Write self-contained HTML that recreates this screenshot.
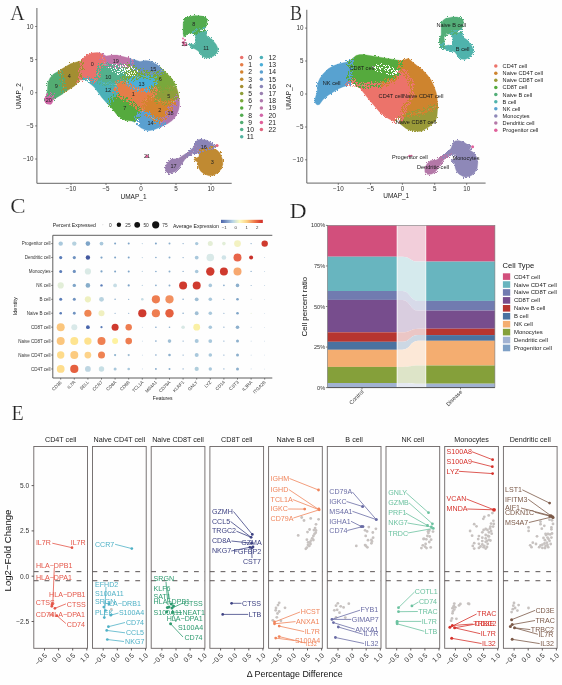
<!DOCTYPE html>
<html><head><meta charset="utf-8"><style>
html,body{margin:0;padding:0;background:#fefefe;overflow:hidden;width:562px;height:685px;}
svg{display:block;font-family:"Liberation Sans", sans-serif;will-change:transform;}
</style></head><body>
<svg width="562" height="685" viewBox="0 0 562 685">
<rect x="0" y="0" width="562" height="685" fill="#fefefe"/>
<text transform="translate(10.2 19.6) scale(1.0 1)" font-size="20" fill="#222" font-family='"Liberation Serif", serif' stroke="#fefefe" stroke-width="0.2">A</text>
<text transform="translate(289.9 19.8) scale(0.9 1)" font-size="20" fill="#222" font-family='"Liberation Serif", serif' stroke="#fefefe" stroke-width="0.2">B</text>
<text transform="translate(10.3 213.4) scale(1.12 1)" font-size="20.5" fill="#222" font-family='"Liberation Serif", serif' stroke="#fefefe" stroke-width="0.2">C</text>
<text transform="translate(289.5 217.9) scale(1.13 1)" font-size="21" fill="#222" font-family='"Liberation Serif", serif' stroke="#fefefe" stroke-width="0.2">D</text>
<text transform="translate(11.4 419.9) scale(1.0 1)" font-size="20" fill="#222" font-family='"Liberation Serif", serif' stroke="#fefefe" stroke-width="0.2">E</text>
<defs><filter id="rough" x="-5%" y="-5%" width="110%" height="110%"><feTurbulence type="fractalNoise" baseFrequency="0.9" numOctaves="2" seed="3" result="n"/><feDisplacementMap in="SourceGraphic" in2="n" scale="1.4" xChannelSelector="R" yChannelSelector="G"/></filter></defs>
<line x1="36.90" y1="8.00" x2="36.90" y2="183.30" stroke="#555" stroke-width="0.9" />
<line x1="36.90" y1="183.30" x2="231.70" y2="183.30" stroke="#555" stroke-width="0.9" />
<line x1="35.20" y1="26.50" x2="36.90" y2="26.50" stroke="#555" stroke-width="0.8" />
<text x="33.60" y="28.70" font-size="6.3" fill="#333" text-anchor="end" >10</text>
<line x1="35.20" y1="59.60" x2="36.90" y2="59.60" stroke="#555" stroke-width="0.8" />
<text x="33.60" y="61.80" font-size="6.3" fill="#333" text-anchor="end" >5</text>
<line x1="35.20" y1="92.70" x2="36.90" y2="92.70" stroke="#555" stroke-width="0.8" />
<text x="33.60" y="94.90" font-size="6.3" fill="#333" text-anchor="end" >0</text>
<line x1="35.20" y1="125.90" x2="36.90" y2="125.90" stroke="#555" stroke-width="0.8" />
<text x="33.60" y="128.10" font-size="6.3" fill="#333" text-anchor="end" >−5</text>
<line x1="35.20" y1="159.00" x2="36.90" y2="159.00" stroke="#555" stroke-width="0.8" />
<text x="33.60" y="161.20" font-size="6.3" fill="#333" text-anchor="end" >−10</text>
<line x1="71.00" y1="183.30" x2="71.00" y2="185.00" stroke="#555" stroke-width="0.8" />
<text x="71.00" y="191.30" font-size="6.3" fill="#333" text-anchor="middle" >−10</text>
<line x1="106.00" y1="183.30" x2="106.00" y2="185.00" stroke="#555" stroke-width="0.8" />
<text x="106.00" y="191.30" font-size="6.3" fill="#333" text-anchor="middle" >−5</text>
<line x1="141.00" y1="183.30" x2="141.00" y2="185.00" stroke="#555" stroke-width="0.8" />
<text x="141.00" y="191.30" font-size="6.3" fill="#333" text-anchor="middle" >0</text>
<line x1="176.00" y1="183.30" x2="176.00" y2="185.00" stroke="#555" stroke-width="0.8" />
<text x="176.00" y="191.30" font-size="6.3" fill="#333" text-anchor="middle" >5</text>
<line x1="211.00" y1="183.30" x2="211.00" y2="185.00" stroke="#555" stroke-width="0.8" />
<text x="211.00" y="191.30" font-size="6.3" fill="#333" text-anchor="middle" >10</text>
<text x="133.50" y="198.60" font-size="6.5" fill="#222" text-anchor="middle" >UMAP_1</text>
<text x="20.60" y="96.00" font-size="6.5" fill="#222" text-anchor="middle" transform="rotate(-90 20.60 96.00)" >UMAP_2</text>
<g filter="url(#rough)">
<path d="M59.6,70.5 L53.4,74.1 L50.0,77.9 L47.8,82.4 L47.4,90.5 L46.2,95.1 L48.9,95.1 L51.4,96.0 L52.6,97.1 L53.6,99.4 L62.8,93.9 L64.4,91.9 L61.5,75.4Z" fill="#52AC72" stroke="#52AC72" stroke-width="0.35" fill-rule="evenodd"/>
<path d="M80.2,61.0 L70.9,63.5 L60.4,69.8 L60.1,70.6 L61.6,75.4 L62.9,84.4 L64.8,91.9 L65.9,91.6 L74.6,85.9 L79.5,80.6 L81.4,66.5 L81.2,63.0Z" fill="#A38E30" stroke="#A38E30" stroke-width="0.35" fill-rule="evenodd"/>
<path d="M101.5,53.5 L97.6,52.5 L91.6,53.0 L85.8,56.1 L81.0,60.1 L81.5,66.5 L79.9,76.9 L80.1,80.1 L84.5,80.0 L86.2,79.1 L88.8,79.0 L94.4,80.5 L95.6,80.2 L97.2,75.6 L99.1,67.1 L100.8,65.2 L105.0,64.0 L102.9,58.9Z" fill="#EA716C" stroke="#EA716C" stroke-width="0.35" fill-rule="evenodd"/>
<path d="M102.2,54.5 L103.4,59.9 L105.2,63.6 L106.2,64.4 L122.9,66.5 L130.4,66.0 L131.6,64.9 L131.8,59.2 L130.9,58.5 L117.1,55.1 L112.4,55.1 L106.2,56.0 L103.1,54.2Z" fill="#BF74A8" stroke="#BF74A8" stroke-width="0.35" fill-rule="evenodd"/>
<path d="M123.8,67.0 L125.9,69.5 L126.2,70.8 L125.6,74.0 L123.5,79.8 L123.8,80.9 L124.6,81.5 L126.8,81.5 L132.2,78.2 L137.0,77.0 L142.6,76.4 L150.9,76.5 L154.2,77.4 L156.0,79.5 L156.4,82.9 L155.5,85.8 L155.9,86.8 L162.1,89.0 L165.4,89.4 L175.6,85.6 L175.1,83.8 L171.5,78.1 L163.2,69.8 L157.9,73.1 L149.8,73.6 L142.5,72.2 L134.1,68.5 L130.5,66.1 L125.5,66.4Z" fill="#79A83A" stroke="#79A83A" stroke-width="0.35" fill-rule="evenodd"/>
<path d="M131.9,60.0 L131.6,66.5 L134.1,68.4 L142.9,72.2 L149.8,73.5 L156.9,73.2 L159.9,72.1 L162.4,69.5 L160.9,67.5 L156.6,64.2 L149.9,60.9 L145.5,60.4 L140.0,61.5 L133.0,59.2Z" fill="#6890C0" stroke="#6890C0" stroke-width="0.35" fill-rule="evenodd"/>
<path d="M99.4,66.9 L97.4,75.6 L96.0,79.0 L96.4,80.9 L107.0,83.8 L114.5,84.5 L116.2,84.2 L117.6,82.1 L118.8,81.4 L122.6,81.8 L123.4,81.2 L123.5,79.2 L125.5,74.0 L126.1,70.8 L125.5,69.1 L123.0,66.8 L108.0,64.5 L103.9,64.5 L100.8,65.4Z" fill="#52B08C" stroke="#52B08C" stroke-width="0.35" fill-rule="evenodd"/>
<path d="M85.6,79.8 L94.1,87.1 L102.0,97.8 L107.1,103.5 L108.1,103.4 L113.1,96.9 L115.5,95.2 L115.9,84.8 L106.5,83.8 L88.8,79.1 L86.9,79.1Z" fill="#4BB0B8" stroke="#4BB0B8" stroke-width="0.35" fill-rule="evenodd"/>
<path d="M156.2,80.9 L155.4,78.5 L153.4,77.1 L149.0,76.5 L142.6,76.5 L132.9,78.1 L127.5,81.1 L126.8,82.2 L128.6,84.8 L135.2,88.8 L139.6,89.6 L146.4,89.6 L150.1,89.1 L154.9,86.8 L156.1,83.6Z" fill="#4AAED8" stroke="#4AAED8" stroke-width="0.35" fill-rule="evenodd"/>
<path d="M176.2,86.4 L175.2,86.1 L165.4,89.5 L162.1,89.1 L156.8,87.2 L153.2,97.5 L156.9,100.1 L163.1,102.4 L166.5,102.5 L174.5,101.1 L175.5,100.2 L176.5,97.6 L178.8,96.4 L178.2,92.4Z" fill="#8E9E3A" stroke="#8E9E3A" stroke-width="0.35" fill-rule="evenodd"/>
<path d="M115.5,93.0 L116.5,95.2 L122.5,97.8 L131.5,103.0 L137.2,107.1 L140.8,110.8 L141.8,110.9 L144.9,101.1 L146.4,99.2 L148.5,97.9 L152.9,97.5 L155.1,92.8 L156.2,88.1 L155.9,87.2 L155.1,87.1 L152.5,88.6 L149.5,89.5 L137.1,89.4 L134.4,88.5 L128.6,84.9 L125.9,81.9 L119.2,81.4 L117.6,82.2 L116.6,84.1Z" fill="#E67D48" stroke="#E67D48" stroke-width="0.35" fill-rule="evenodd"/>
<path d="M113.9,96.2 L108.5,103.0 L108.2,104.6 L112.4,108.9 L117.0,114.9 L121.5,118.5 L125.9,120.6 L131.6,121.1 L135.4,122.4 L137.9,114.4 L140.2,110.9 L139.5,109.4 L134.8,105.2 L122.5,97.9 L116.9,95.5Z" fill="#55AA3E" stroke="#55AA3E" stroke-width="0.35" fill-rule="evenodd"/>
<path d="M147.5,98.5 L145.5,100.4 L144.2,102.6 L142.6,107.9 L142.5,110.9 L159.2,122.2 L160.6,122.4 L166.8,114.2 L174.1,101.8 L163.9,102.6 L159.0,101.2 L153.2,98.1 L149.0,97.9Z" fill="#D4832F" stroke="#D4832F" stroke-width="0.35" fill-rule="evenodd"/>
<path d="M178.5,97.2 L177.5,97.0 L176.6,97.6 L175.5,100.5 L166.6,114.6 L161.1,121.9 L161.1,123.2 L162.6,124.0 L163.5,125.4 L167.2,123.9 L171.9,120.8 L174.9,117.5 L177.0,114.1 L178.8,109.6 L179.6,104.8 L179.4,99.2Z" fill="#AE78AE" stroke="#AE78AE" stroke-width="0.35" fill-rule="evenodd"/>
<path d="M135.6,122.5 L135.9,123.5 L141.1,128.1 L145.4,130.1 L148.4,130.8 L153.4,129.9 L162.1,126.5 L163.0,125.6 L162.6,124.1 L152.9,118.4 L144.9,112.5 L141.6,111.1 L140.2,111.4 L138.6,113.1Z" fill="#5AA0D0" stroke="#5AA0D0" stroke-width="0.35" fill-rule="evenodd"/>
<path d="M47.1,95.4 L45.1,97.5 L44.5,99.6 L44.9,102.0 L47.2,104.1 L50.5,104.5 L51.8,103.6 L53.0,100.9 L52.9,97.8 L50.4,95.6Z" fill="#D266A8" stroke="#D266A8" stroke-width="0.35" fill-rule="evenodd"/>
</g>
<path d="M133 105h1v1h-1zM116 95h1v1h-1zM120 97h1v1h-1zM152 88h1v1h-1zM144 103h1v1h-1zM119 96h1v1h-1zM135 107h1v1h-1zM149 99h1v1h-1zM130 85h1v1h-1zM117 80h1v1h-1zM146 105h1v1h-1zM134 86h1v1h-1zM157 89h1v1h-1zM130 104h1v1h-1zM156 89h1v1h-1zM153 87h1v1h-1zM140 89h1v1h-1zM145 89h1v1h-1zM115 90h1v1h-1zM146 88h1v1h-1zM143 88h1v1h-1zM132 87h1v1h-1zM131 103h1v1h-1zM153 97h1v1h-1zM116 83h1v1h-1zM155 93h1v1h-1zM142 110h1v1h-1zM121 99h1v1h-1zM133 104h1v1h-1zM147 101h1v1h-1zM130 103h1v1h-1zM155 86h1v1h-1zM145 104h1v1h-1zM128 84h1v1h-1zM113 89h1v1h-1zM126 101h1v1h-1zM145 88h1v1h-1zM156 91h1v1h-1zM130 83h1v1h-1zM133 85h1v1h-1zM155 91h1v1h-1zM139 110h1v1h-1zM149 98h1v1h-1zM141 88h1v1h-1zM136 109h1v1h-1zM157 90h1v1h-1zM122 81h1v1h-1zM116 98h1v1h-1zM146 87h1v1h-1zM115 82h1v1h-1zM131 105h1v1h-1zM146 101h1v1h-1zM123 99h1v1h-1zM136 88h1v1h-1zM159 91h1v1h-1zM143 89h1v1h-1zM134 105h1v1h-1zM119 97h1v1h-1zM136 107h1v1h-1zM114 90h1v1h-1zM135 108h1v1h-1zM118 80h1v1h-1zM156 86h1v1h-1zM144 108h1v1h-1zM136 108h1v1h-1zM125 81h1v1h-1zM121 97h1v1h-1zM123 101h1v1h-1zM131 85h1v1h-1zM122 98h1v1h-1zM142 89h1v1h-1zM112 92h1v1h-1zM135 106h1v1h-1zM119 81h1v1h-1zM156 94h1v1h-1zM120 79h1v1h-1zM143 106h1v1h-1zM126 80h1v1h-1zM138 110h1v1h-1zM139 109h1v1h-1zM143 109h1v1h-1zM154 96h1v1h-1zM129 104h1v1h-1zM121 98h1v1h-1zM156 87h1v1h-1zM115 91h1v1h-1zM114 88h1v1h-1zM151 100h1v1h-1zM138 88h1v1h-1zM142 88h1v1h-1zM133 106h1v1h-1zM129 102h1v1h-1zM143 105h1v1h-1zM120 98h1v1h-1zM114 89h1v1h-1zM144 107h1v1h-1zM131 84h1v1h-1zM130 84h1v1h-1zM121 81h1v1h-1zM127 101h1v1h-1zM118 96h1v1h-1zM115 88h1v1h-1zM148 89h1v1h-1zM135 88h1v1h-1zM115 89h1v1h-1zM156 93h1v1h-1zM123 81h1v1h-1zM134 87h1v1h-1zM141 111h1v1h-1zM151 99h1v1h-1zM117 96h1v1h-1zM142 107h1v1h-1zM127 82h1v1h-1zM156 90h1v1h-1zM125 80h1v1h-1zM115 81h1v1h-1zM136 106h1v1h-1zM113 92h1v1h-1zM131 86h1v1h-1zM141 89h1v1h-1zM154 95h1v1h-1zM114 87h1v1h-1zM115 93h1v1h-1zM149 87h1v1h-1zM136 87h1v1h-1zM125 99h1v1h-1zM138 87h1v1h-1zM143 110h1v1h-1zM155 94h1v1h-1z" fill="#E67D48" shape-rendering="crispEdges"/>
<path d="M124 75h1v1h-1zM152 71h1v1h-1zM155 78h1v1h-1zM125 65h1v1h-1zM139 77h1v1h-1zM145 72h1v1h-1zM143 70h1v1h-1zM136 77h1v1h-1zM124 70h1v1h-1zM164 89h1v1h-1zM158 71h1v1h-1zM124 73h1v1h-1zM161 68h1v1h-1zM162 69h1v1h-1zM154 85h1v1h-1zM175 86h1v1h-1zM163 89h1v1h-1zM145 77h1v1h-1zM128 64h1v1h-1zM133 67h1v1h-1zM167 89h1v1h-1zM134 65h1v1h-1zM120 77h1v1h-1zM134 68h1v1h-1zM168 88h1v1h-1zM136 68h1v1h-1zM159 70h1v1h-1zM133 81h1v1h-1zM146 78h1v1h-1zM149 73h1v1h-1zM153 77h1v1h-1zM146 72h1v1h-1zM151 77h1v1h-1zM125 71h1v1h-1zM148 72h1v1h-1zM139 69h1v1h-1zM143 77h1v1h-1zM171 88h1v1h-1zM154 78h1v1h-1zM158 72h1v1h-1zM147 78h1v1h-1zM147 76h1v1h-1zM154 81h1v1h-1zM122 77h1v1h-1zM123 76h1v1h-1zM127 65h1v1h-1zM127 62h1v1h-1zM160 67h1v1h-1zM160 88h1v1h-1zM165 89h1v1h-1zM158 90h1v1h-1zM154 84h1v1h-1zM124 83h1v1h-1zM163 92h1v1h-1zM155 79h1v1h-1zM146 71h1v1h-1zM123 73h1v1h-1zM162 92h1v1h-1zM141 71h1v1h-1zM160 90h1v1h-1zM133 65h1v1h-1zM140 77h1v1h-1zM158 89h1v1h-1zM143 76h1v1h-1zM138 69h1v1h-1zM134 80h1v1h-1zM129 65h1v1h-1zM138 70h1v1h-1zM155 80h1v1h-1zM140 76h1v1h-1zM162 90h1v1h-1zM157 71h1v1h-1zM123 71h1v1h-1zM161 89h1v1h-1zM155 85h1v1h-1zM122 76h1v1h-1zM123 79h1v1h-1zM150 77h1v1h-1zM124 77h1v1h-1zM170 89h1v1h-1zM175 87h1v1h-1zM144 71h1v1h-1zM150 71h1v1h-1zM134 67h1v1h-1zM136 79h1v1h-1zM173 89h1v1h-1zM142 76h1v1h-1zM134 77h1v1h-1zM125 74h1v1h-1zM132 79h1v1h-1zM128 81h1v1h-1zM156 73h1v1h-1zM168 89h1v1h-1zM133 66h1v1h-1zM131 80h1v1h-1zM156 72h1v1h-1zM123 67h1v1h-1zM150 76h1v1h-1zM136 78h1v1h-1zM153 73h1v1h-1zM137 79h1v1h-1zM125 81h1v1h-1zM144 70h1v1h-1zM167 90h1v1h-1zM155 83h1v1h-1zM167 88h1v1h-1zM174 87h1v1h-1zM176 86h1v1h-1zM166 89h1v1h-1zM138 78h1v1h-1zM154 83h1v1h-1zM170 90h1v1h-1zM157 87h1v1h-1zM147 72h1v1h-1zM149 77h1v1h-1zM171 87h1v1h-1zM126 66h1v1h-1zM150 79h1v1h-1zM143 68h1v1h-1zM133 78h1v1h-1zM132 78h1v1h-1zM128 82h1v1h-1zM172 89h1v1h-1zM139 70h1v1h-1zM155 81h1v1h-1zM153 81h1v1h-1zM121 70h1v1h-1zM143 78h1v1h-1zM129 64h1v1h-1zM155 70h1v1h-1zM141 76h1v1h-1zM162 89h1v1h-1zM159 88h1v1h-1zM125 64h1v1h-1zM149 79h1v1h-1zM122 78h1v1h-1zM146 70h1v1h-1zM159 72h1v1h-1zM140 68h1v1h-1zM172 90h1v1h-1zM168 91h1v1h-1zM158 88h1v1h-1zM122 67h1v1h-1zM135 68h1v1h-1zM125 72h1v1h-1zM144 77h1v1h-1zM136 67h1v1h-1zM124 76h1v1h-1zM133 77h1v1h-1zM149 72h1v1h-1zM128 65h1v1h-1zM139 76h1v1h-1zM157 72h1v1h-1zM152 77h1v1h-1zM154 72h1v1h-1zM147 70h1v1h-1zM174 81h1v1h-1zM167 73h1v1h-1zM165 71h1v1h-1zM176 84h1v1h-1zM171 78h1v1h-1zM170 76h1v1h-1zM163 69h1v1h-1zM172 79h1v1h-1z" fill="#79A83A" shape-rendering="crispEdges"/>
<path d="M127 66h1v1h-1zM116 68h1v1h-1zM100 56h1v1h-1zM114 67h1v1h-1zM108 64h1v1h-1zM120 67h1v1h-1zM117 68h1v1h-1zM114 66h1v1h-1zM102 59h1v1h-1zM132 64h1v1h-1zM113 66h1v1h-1zM132 61h1v1h-1zM127 67h1v1h-1zM124 66h1v1h-1zM111 65h1v1h-1zM132 62h1v1h-1zM108 65h1v1h-1zM111 67h1v1h-1zM101 54h1v1h-1zM120 66h1v1h-1zM109 67h1v1h-1zM110 66h1v1h-1zM133 62h1v1h-1zM132 60h1v1h-1zM133 60h1v1h-1zM106 65h1v1h-1zM105 65h1v1h-1zM109 64h1v1h-1zM125 67h1v1h-1zM122 67h1v1h-1zM107 65h1v1h-1zM101 59h1v1h-1zM119 66h1v1h-1zM132 65h1v1h-1zM104 63h1v1h-1zM128 66h1v1h-1zM103 60h1v1h-1zM131 63h1v1h-1zM102 61h1v1h-1zM118 67h1v1h-1zM99 59h1v1h-1zM133 63h1v1h-1zM130 66h1v1h-1zM106 64h1v1h-1zM115 66h1v1h-1zM125 66h1v1h-1zM106 67h1v1h-1zM99 52h1v1h-1zM126 66h1v1h-1zM100 58h1v1h-1zM120 55h1v1h-1zM128 56h1v1h-1zM111 54h1v1h-1zM102 53h1v1h-1zM128 57h1v1h-1zM103 53h1v1h-1z" fill="#BF74A8" shape-rendering="crispEdges"/>
<path d="M140 111h1v1h-1zM110 97h1v1h-1zM108 99h1v1h-1zM132 103h1v1h-1zM130 101h1v1h-1zM137 119h1v1h-1zM127 98h1v1h-1zM110 99h1v1h-1zM134 104h1v1h-1zM139 117h1v1h-1zM118 95h1v1h-1zM108 98h1v1h-1zM139 108h1v1h-1zM109 100h1v1h-1zM131 102h1v1h-1zM129 101h1v1h-1zM128 100h1v1h-1zM113 95h1v1h-1zM110 100h1v1h-1zM140 110h1v1h-1zM127 97h1v1h-1zM140 116h1v1h-1zM126 97h1v1h-1zM140 113h1v1h-1zM121 96h1v1h-1zM139 112h1v1h-1zM129 100h1v1h-1zM123 96h1v1h-1zM109 101h1v1h-1zM115 95h1v1h-1zM119 95h1v1h-1zM136 121h1v1h-1zM137 106h1v1h-1zM140 108h1v1h-1zM116 95h1v1h-1zM135 103h1v1h-1zM137 107h1v1h-1zM126 98h1v1h-1zM119 94h1v1h-1zM125 98h1v1h-1zM137 118h1v1h-1zM135 105h1v1h-1zM138 117h1v1h-1zM107 103h1v1h-1zM131 98h1v1h-1zM136 105h1v1h-1zM113 94h1v1h-1zM141 110h1v1h-1zM112 98h1v1h-1zM123 97h1v1h-1zM123 98h1v1h-1zM138 122h1v1h-1zM133 102h1v1h-1zM139 106h1v1h-1zM136 104h1v1h-1zM111 96h1v1h-1zM111 99h1v1h-1zM134 102h1v1h-1zM125 99h1v1h-1zM131 101h1v1h-1zM111 98h1v1h-1zM118 93h1v1h-1zM133 101h1v1h-1zM138 107h1v1h-1zM137 117h1v1h-1zM120 96h1v1h-1zM138 113h1v1h-1zM136 119h1v1h-1zM136 120h1v1h-1zM127 121h1v1h-1zM110 106h1v1h-1zM113 110h1v1h-1zM112 110h1v1h-1zM117 115h1v1h-1zM120 118h1v1h-1zM108 106h1v1h-1zM110 107h1v1h-1zM121 118h1v1h-1zM118 116h1v1h-1zM125 120h1v1h-1zM122 119h1v1h-1zM123 119h1v1h-1z" fill="#55AA3E" shape-rendering="crispEdges"/>
<path d="M165 112h1v1h-1zM164 117h1v1h-1zM167 107h1v1h-1zM160 127h1v1h-1zM171 106h1v1h-1zM168 108h1v1h-1zM174 101h1v1h-1zM176 96h1v1h-1zM165 113h1v1h-1zM171 103h1v1h-1zM160 123h1v1h-1zM163 117h1v1h-1zM168 106h1v1h-1zM162 124h1v1h-1zM163 125h1v1h-1zM176 98h1v1h-1zM178 95h1v1h-1zM167 110h1v1h-1zM165 111h1v1h-1zM178 96h1v1h-1zM175 96h1v1h-1zM171 105h1v1h-1zM168 111h1v1h-1zM176 94h1v1h-1zM165 116h1v1h-1zM166 111h1v1h-1zM162 125h1v1h-1zM167 112h1v1h-1zM161 118h1v1h-1zM160 124h1v1h-1zM176 97h1v1h-1zM170 106h1v1h-1zM162 119h1v1h-1zM159 125h1v1h-1zM162 117h1v1h-1zM169 109h1v1h-1zM177 96h1v1h-1zM161 121h1v1h-1zM173 103h1v1h-1zM160 121h1v1h-1zM160 117h1v1h-1zM168 107h1v1h-1zM172 104h1v1h-1zM174 97h1v1h-1zM169 107h1v1h-1zM180 106h1v1h-1zM178 113h1v1h-1zM174 118h1v1h-1zM164 126h1v1h-1zM176 115h1v1h-1z" fill="#AE78AE" shape-rendering="crispEdges"/>
<path d="M48 103h1v1h-1zM63 77h1v1h-1zM64 80h1v1h-1zM63 79h1v1h-1zM61 73h1v1h-1zM46 97h1v1h-1zM46 96h1v1h-1zM62 83h1v1h-1zM63 78h1v1h-1zM63 82h1v1h-1zM61 70h1v1h-1zM66 87h1v1h-1zM64 91h1v1h-1zM63 83h1v1h-1zM64 90h1v1h-1zM51 97h1v1h-1zM50 96h1v1h-1zM62 78h1v1h-1zM44 99h1v1h-1zM50 97h1v1h-1zM51 96h1v1h-1zM47 95h1v1h-1zM45 99h1v1h-1zM64 89h1v1h-1zM52 97h1v1h-1zM62 71h1v1h-1zM64 83h1v1h-1zM47 100h1v1h-1zM62 81h1v1h-1zM50 95h1v1h-1zM48 96h1v1h-1zM66 89h1v1h-1zM65 79h1v1h-1zM50 100h1v1h-1zM45 100h1v1h-1zM52 98h1v1h-1zM64 78h1v1h-1zM51 102h1v1h-1zM63 74h1v1h-1zM65 90h1v1h-1zM47 96h1v1h-1zM65 83h1v1h-1zM48 95h1v1h-1zM63 85h1v1h-1zM62 75h1v1h-1zM46 98h1v1h-1zM46 101h1v1h-1zM62 76h1v1h-1zM52 99h1v1h-1zM62 72h1v1h-1zM48 97h1v1h-1zM64 81h1v1h-1zM61 75h1v1h-1zM46 103h1v1h-1zM66 90h1v1h-1zM51 98h1v1h-1zM50 99h1v1h-1zM65 89h1v1h-1zM65 87h1v1h-1zM64 87h1v1h-1zM51 75h1v1h-1zM44 100h1v1h-1zM46 90h1v1h-1zM46 94h1v1h-1zM55 98h1v1h-1zM46 83h1v1h-1zM47 81h1v1h-1zM46 85h1v1h-1zM50 74h1v1h-1zM54 100h1v1h-1z" fill="#52AC72" shape-rendering="crispEdges"/>
<path d="M99 83h1v1h-1zM96 77h1v1h-1zM99 84h1v1h-1zM113 85h1v1h-1zM125 74h1v1h-1zM119 81h1v1h-1zM112 64h1v1h-1zM107 62h1v1h-1zM127 70h1v1h-1zM96 75h1v1h-1zM97 82h1v1h-1zM104 85h1v1h-1zM98 68h1v1h-1zM125 75h1v1h-1zM124 81h1v1h-1zM101 64h1v1h-1zM113 64h1v1h-1zM127 76h1v1h-1zM95 77h1v1h-1zM125 76h1v1h-1zM117 65h1v1h-1zM106 87h1v1h-1zM110 64h1v1h-1zM108 84h1v1h-1zM104 84h1v1h-1zM125 77h1v1h-1zM95 80h1v1h-1zM124 79h1v1h-1zM127 71h1v1h-1zM111 64h1v1h-1zM110 85h1v1h-1zM100 82h1v1h-1zM119 82h1v1h-1zM124 80h1v1h-1zM128 71h1v1h-1zM126 74h1v1h-1zM96 72h1v1h-1zM102 82h1v1h-1zM116 64h1v1h-1zM101 63h1v1h-1zM106 63h1v1h-1zM97 70h1v1h-1zM124 68h1v1h-1zM97 72h1v1h-1zM105 83h1v1h-1zM109 64h1v1h-1zM98 65h1v1h-1zM118 82h1v1h-1zM122 65h1v1h-1zM102 63h1v1h-1zM121 64h1v1h-1zM120 63h1v1h-1zM97 69h1v1h-1zM96 73h1v1h-1zM106 84h1v1h-1zM113 84h1v1h-1zM124 67h1v1h-1zM128 73h1v1h-1zM108 63h1v1h-1zM103 84h1v1h-1zM111 87h1v1h-1zM115 85h1v1h-1zM123 82h1v1h-1zM107 84h1v1h-1zM102 83h1v1h-1zM127 69h1v1h-1zM97 71h1v1h-1zM94 77h1v1h-1zM97 66h1v1h-1zM120 65h1v1h-1zM110 87h1v1h-1zM111 85h1v1h-1zM102 85h1v1h-1zM115 64h1v1h-1zM117 83h1v1h-1zM97 83h1v1h-1zM123 64h1v1h-1zM108 64h1v1h-1zM100 83h1v1h-1zM100 64h1v1h-1zM98 66h1v1h-1zM101 82h1v1h-1zM96 78h1v1h-1zM98 63h1v1h-1zM97 68h1v1h-1zM114 65h1v1h-1zM126 68h1v1h-1zM96 70h1v1h-1zM97 81h1v1h-1zM119 64h1v1h-1zM127 75h1v1h-1zM96 76h1v1h-1zM98 67h1v1h-1zM122 83h1v1h-1zM100 65h1v1h-1zM105 85h1v1h-1zM114 85h1v1h-1z" fill="#52B08C" shape-rendering="crispEdges"/>
<path d="M152 86h1v1h-1zM152 90h1v1h-1zM161 88h1v1h-1zM172 86h1v1h-1zM176 97h1v1h-1zM155 91h1v1h-1zM153 93h1v1h-1zM179 98h1v1h-1zM149 86h1v1h-1zM150 90h1v1h-1zM158 84h1v1h-1zM151 89h1v1h-1zM172 101h1v1h-1zM168 104h1v1h-1zM154 90h1v1h-1zM166 88h1v1h-1zM151 88h1v1h-1zM149 88h1v1h-1zM156 101h1v1h-1zM160 86h1v1h-1zM155 89h1v1h-1zM162 104h1v1h-1zM178 97h1v1h-1zM152 87h1v1h-1zM177 97h1v1h-1zM175 84h1v1h-1zM167 85h1v1h-1zM167 87h1v1h-1zM153 98h1v1h-1zM154 101h1v1h-1zM155 101h1v1h-1zM154 98h1v1h-1zM170 86h1v1h-1zM168 88h1v1h-1zM150 89h1v1h-1zM171 86h1v1h-1zM154 93h1v1h-1zM155 100h1v1h-1zM156 86h1v1h-1zM161 102h1v1h-1zM156 100h1v1h-1zM154 91h1v1h-1zM167 88h1v1h-1zM154 99h1v1h-1zM165 87h1v1h-1zM176 98h1v1h-1zM166 103h1v1h-1zM151 86h1v1h-1zM170 103h1v1h-1zM153 87h1v1h-1zM157 101h1v1h-1zM165 104h1v1h-1zM151 87h1v1h-1zM154 89h1v1h-1zM167 102h1v1h-1zM157 103h1v1h-1zM163 103h1v1h-1zM170 85h1v1h-1zM159 87h1v1h-1zM155 87h1v1h-1zM151 96h1v1h-1zM157 100h1v1h-1zM151 85h1v1h-1zM170 87h1v1h-1zM152 97h1v1h-1zM166 104h1v1h-1zM151 92h1v1h-1zM164 105h1v1h-1zM176 99h1v1h-1zM158 85h1v1h-1zM160 87h1v1h-1zM152 89h1v1h-1zM151 91h1v1h-1zM165 88h1v1h-1zM154 86h1v1h-1zM178 100h1v1h-1zM154 94h1v1h-1zM168 86h1v1h-1zM153 91h1v1h-1zM156 103h1v1h-1zM152 95h1v1h-1zM178 95h1v1h-1zM179 92h1v1h-1zM178 96h1v1h-1z" fill="#8E9E3A" shape-rendering="crispEdges"/>
<path d="M82 79h1v1h-1zM63 89h1v1h-1zM84 69h1v1h-1zM80 76h1v1h-1zM59 79h1v1h-1zM82 66h1v1h-1zM62 85h1v1h-1zM81 75h1v1h-1zM83 63h1v1h-1zM81 76h1v1h-1zM81 77h1v1h-1zM64 92h1v1h-1zM81 69h1v1h-1zM61 92h1v1h-1zM83 62h1v1h-1zM80 75h1v1h-1zM61 78h1v1h-1zM82 69h1v1h-1zM62 89h1v1h-1zM82 78h1v1h-1zM61 75h1v1h-1zM81 60h1v1h-1zM63 88h1v1h-1zM62 86h1v1h-1zM81 61h1v1h-1zM82 64h1v1h-1zM81 65h1v1h-1zM81 73h1v1h-1zM80 73h1v1h-1zM59 75h1v1h-1zM60 79h1v1h-1zM82 67h1v1h-1zM83 68h1v1h-1zM58 71h1v1h-1zM58 72h1v1h-1zM58 70h1v1h-1zM81 66h1v1h-1zM82 63h1v1h-1zM61 77h1v1h-1zM62 83h1v1h-1zM59 85h1v1h-1zM58 73h1v1h-1zM59 73h1v1h-1zM80 74h1v1h-1zM61 76h1v1h-1zM60 81h1v1h-1zM60 72h1v1h-1zM81 62h1v1h-1zM64 90h1v1h-1zM82 68h1v1h-1zM61 90h1v1h-1zM76 84h1v1h-1zM73 62h1v1h-1zM69 62h1v1h-1zM65 66h1v1h-1zM71 88h1v1h-1zM79 81h1v1h-1zM60 69h1v1h-1zM66 91h1v1h-1zM78 61h1v1h-1zM78 82h1v1h-1z" fill="#A38E30" shape-rendering="crispEdges"/>
<path d="M78 76h1v1h-1zM80 67h1v1h-1zM91 80h1v1h-1zM100 67h1v1h-1zM104 61h1v1h-1zM87 79h1v1h-1zM91 82h1v1h-1zM102 56h1v1h-1zM98 75h1v1h-1zM96 78h1v1h-1zM76 82h1v1h-1zM102 54h1v1h-1zM80 65h1v1h-1zM98 76h1v1h-1zM81 63h1v1h-1zM103 60h1v1h-1zM104 57h1v1h-1zM98 70h1v1h-1zM80 71h1v1h-1zM105 61h1v1h-1zM79 73h1v1h-1zM105 63h1v1h-1zM78 71h1v1h-1zM79 62h1v1h-1zM102 55h1v1h-1zM85 79h1v1h-1zM88 79h1v1h-1zM104 58h1v1h-1zM103 58h1v1h-1zM80 64h1v1h-1zM78 77h1v1h-1zM102 65h1v1h-1zM77 80h1v1h-1zM97 79h1v1h-1zM78 81h1v1h-1zM77 81h1v1h-1zM90 80h1v1h-1zM99 77h1v1h-1zM105 60h1v1h-1zM92 80h1v1h-1zM100 70h1v1h-1zM99 67h1v1h-1zM100 74h1v1h-1zM100 66h1v1h-1zM100 68h1v1h-1zM97 78h1v1h-1zM80 73h1v1h-1zM98 73h1v1h-1zM79 68h1v1h-1zM99 76h1v1h-1zM79 75h1v1h-1zM98 69h1v1h-1zM101 65h1v1h-1zM78 70h1v1h-1zM104 59h1v1h-1zM98 72h1v1h-1zM81 64h1v1h-1zM79 78h1v1h-1zM100 76h1v1h-1zM99 71h1v1h-1zM96 80h1v1h-1zM81 66h1v1h-1zM79 77h1v1h-1zM94 81h1v1h-1zM80 63h1v1h-1zM105 59h1v1h-1zM102 67h1v1h-1zM95 81h1v1h-1zM79 74h1v1h-1zM104 65h1v1h-1zM80 69h1v1h-1zM93 83h1v1h-1zM79 69h1v1h-1zM94 82h1v1h-1zM86 55h1v1h-1zM91 52h1v1h-1zM82 58h1v1h-1zM86 54h1v1h-1zM82 81h1v1h-1zM89 53h1v1h-1zM81 59h1v1h-1zM84 56h1v1h-1zM87 54h1v1h-1z" fill="#EA716C" shape-rendering="crispEdges"/>
<path d="M150 97h1v1h-1zM175 102h1v1h-1zM175 104h1v1h-1zM171 110h1v1h-1zM153 119h1v1h-1zM159 99h1v1h-1zM175 103h1v1h-1zM142 105h1v1h-1zM141 107h1v1h-1zM141 109h1v1h-1zM149 96h1v1h-1zM167 114h1v1h-1zM154 121h1v1h-1zM171 100h1v1h-1zM146 115h1v1h-1zM162 120h1v1h-1zM165 100h1v1h-1zM166 115h1v1h-1zM153 98h1v1h-1zM144 101h1v1h-1zM163 119h1v1h-1zM172 105h1v1h-1zM142 100h1v1h-1zM160 101h1v1h-1zM162 101h1v1h-1zM155 120h1v1h-1zM145 114h1v1h-1zM144 98h1v1h-1zM169 110h1v1h-1zM143 102h1v1h-1zM161 101h1v1h-1zM145 112h1v1h-1zM168 101h1v1h-1zM173 100h1v1h-1zM161 121h1v1h-1zM149 116h1v1h-1zM171 107h1v1h-1zM170 110h1v1h-1zM150 117h1v1h-1zM149 97h1v1h-1zM170 99h1v1h-1zM141 108h1v1h-1zM174 100h1v1h-1zM151 96h1v1h-1zM173 103h1v1h-1zM156 121h1v1h-1zM160 98h1v1h-1zM148 97h1v1h-1zM160 100h1v1h-1zM168 100h1v1h-1zM165 118h1v1h-1zM157 99h1v1h-1zM157 121h1v1h-1zM174 103h1v1h-1zM171 111h1v1h-1zM154 120h1v1h-1zM144 100h1v1h-1zM147 115h1v1h-1zM152 119h1v1h-1zM153 120h1v1h-1zM172 100h1v1h-1zM146 116h1v1h-1zM148 117h1v1h-1zM147 96h1v1h-1zM143 106h1v1h-1zM147 95h1v1h-1zM154 123h1v1h-1zM160 99h1v1h-1zM155 98h1v1h-1zM156 99h1v1h-1zM157 100h1v1h-1zM164 101h1v1h-1zM141 102h1v1h-1zM172 109h1v1h-1zM170 108h1v1h-1zM172 108h1v1h-1zM154 98h1v1h-1zM159 123h1v1h-1zM168 111h1v1h-1zM174 104h1v1h-1zM155 123h1v1h-1zM151 118h1v1h-1zM150 96h1v1h-1zM167 113h1v1h-1zM164 102h1v1h-1zM159 122h1v1h-1zM147 114h1v1h-1zM171 99h1v1h-1zM170 101h1v1h-1zM144 112h1v1h-1zM157 97h1v1h-1zM176 105h1v1h-1zM174 102h1v1h-1zM141 106h1v1h-1zM152 97h1v1h-1zM172 111h1v1h-1zM172 98h1v1h-1zM147 98h1v1h-1zM169 101h1v1h-1zM172 107h1v1h-1zM168 116h1v1h-1zM143 105h1v1h-1zM144 115h1v1h-1zM166 118h1v1h-1zM148 95h1v1h-1zM165 119h1v1h-1zM164 117h1v1h-1zM146 114h1v1h-1zM143 101h1v1h-1zM142 102h1v1h-1zM170 109h1v1h-1zM148 96h1v1h-1zM166 101h1v1h-1zM148 98h1v1h-1z" fill="#D4832F" shape-rendering="crispEdges"/>
<path d="M112 98h1v1h-1zM113 101h1v1h-1zM91 79h1v1h-1zM114 96h1v1h-1zM110 100h1v1h-1zM90 79h1v1h-1zM116 89h1v1h-1zM102 82h1v1h-1zM86 78h1v1h-1zM115 92h1v1h-1zM117 88h1v1h-1zM114 82h1v1h-1zM110 83h1v1h-1zM83 77h1v1h-1zM101 82h1v1h-1zM117 93h1v1h-1zM116 93h1v1h-1zM107 82h1v1h-1zM93 80h1v1h-1zM104 82h1v1h-1zM112 99h1v1h-1zM87 78h1v1h-1zM97 80h1v1h-1zM115 91h1v1h-1zM113 83h1v1h-1zM115 93h1v1h-1zM107 83h1v1h-1zM116 94h1v1h-1zM115 95h1v1h-1zM110 104h1v1h-1zM82 79h1v1h-1zM91 78h1v1h-1zM99 81h1v1h-1zM101 80h1v1h-1zM93 79h1v1h-1zM87 79h1v1h-1zM110 84h1v1h-1zM116 90h1v1h-1zM110 81h1v1h-1zM117 92h1v1h-1zM110 102h1v1h-1zM108 104h1v1h-1zM110 101h1v1h-1zM87 76h1v1h-1zM100 81h1v1h-1zM117 87h1v1h-1zM113 84h1v1h-1zM92 79h1v1h-1zM103 82h1v1h-1zM85 78h1v1h-1zM83 78h1v1h-1zM108 103h1v1h-1zM112 83h1v1h-1zM89 78h1v1h-1zM117 90h1v1h-1zM109 81h1v1h-1zM84 79h1v1h-1zM111 82h1v1h-1zM101 81h1v1h-1zM109 103h1v1h-1zM83 79h1v1h-1zM108 82h1v1h-1zM113 100h1v1h-1zM115 96h1v1h-1zM118 92h1v1h-1zM98 81h1v1h-1zM116 86h1v1h-1zM115 94h1v1h-1zM96 81h1v1h-1zM112 84h1v1h-1zM89 77h1v1h-1zM84 78h1v1h-1zM116 85h1v1h-1zM85 80h1v1h-1zM98 94h1v1h-1zM95 89h1v1h-1zM90 83h1v1h-1zM88 82h1v1h-1z" fill="#4BB0B8" shape-rendering="crispEdges"/>
<path d="M137 74h1v1h-1zM128 86h1v1h-1zM126 83h1v1h-1zM135 91h1v1h-1zM130 78h1v1h-1zM143 76h1v1h-1zM145 89h1v1h-1zM127 79h1v1h-1zM152 88h1v1h-1zM142 75h1v1h-1zM139 76h1v1h-1zM130 86h1v1h-1zM130 75h1v1h-1zM126 82h1v1h-1zM146 91h1v1h-1zM145 90h1v1h-1zM128 85h1v1h-1zM131 87h1v1h-1zM146 89h1v1h-1zM156 77h1v1h-1zM129 79h1v1h-1zM149 91h1v1h-1zM141 91h1v1h-1zM156 84h1v1h-1zM151 76h1v1h-1zM133 89h1v1h-1zM132 77h1v1h-1zM156 76h1v1h-1zM147 90h1v1h-1zM131 77h1v1h-1zM152 75h1v1h-1zM157 80h1v1h-1zM143 91h1v1h-1zM143 75h1v1h-1zM140 74h1v1h-1zM131 88h1v1h-1zM145 91h1v1h-1zM130 85h1v1h-1zM133 76h1v1h-1zM147 76h1v1h-1zM148 89h1v1h-1zM144 90h1v1h-1zM155 77h1v1h-1zM127 84h1v1h-1zM149 90h1v1h-1zM148 75h1v1h-1zM157 83h1v1h-1zM149 89h1v1h-1zM136 76h1v1h-1zM147 91h1v1h-1zM134 89h1v1h-1zM141 75h1v1h-1zM137 91h1v1h-1zM146 92h1v1h-1zM148 76h1v1h-1zM144 76h1v1h-1zM131 78h1v1h-1zM159 80h1v1h-1zM132 76h1v1h-1zM146 75h1v1h-1zM151 75h1v1h-1zM136 89h1v1h-1zM138 90h1v1h-1zM126 85h1v1h-1zM146 76h1v1h-1zM127 78h1v1h-1zM135 76h1v1h-1zM133 88h1v1h-1zM137 90h1v1h-1zM149 76h1v1h-1zM152 76h1v1h-1zM137 75h1v1h-1zM130 88h1v1h-1zM126 80h1v1h-1zM156 82h1v1h-1zM156 83h1v1h-1z" fill="#4AAED8" shape-rendering="crispEdges"/>
<path d="M130 64h1v1h-1zM130 61h1v1h-1zM142 72h1v1h-1zM133 68h1v1h-1zM163 73h1v1h-1zM130 60h1v1h-1zM131 68h1v1h-1zM163 71h1v1h-1zM151 74h1v1h-1zM140 72h1v1h-1zM136 70h1v1h-1zM161 71h1v1h-1zM130 59h1v1h-1zM158 74h1v1h-1zM134 69h1v1h-1zM130 58h1v1h-1zM153 74h1v1h-1zM135 69h1v1h-1zM161 74h1v1h-1zM162 71h1v1h-1zM159 75h1v1h-1zM158 73h1v1h-1zM131 61h1v1h-1zM130 63h1v1h-1zM131 65h1v1h-1zM134 71h1v1h-1zM143 73h1v1h-1zM150 74h1v1h-1zM138 71h1v1h-1zM156 74h1v1h-1zM159 72h1v1h-1zM145 74h1v1h-1zM131 64h1v1h-1zM132 70h1v1h-1zM146 73h1v1h-1zM145 73h1v1h-1zM162 69h1v1h-1zM139 71h1v1h-1zM159 73h1v1h-1zM152 74h1v1h-1zM157 73h1v1h-1zM160 74h1v1h-1zM140 71h1v1h-1zM130 62h1v1h-1zM155 73h1v1h-1zM146 74h1v1h-1zM138 72h1v1h-1zM149 74h1v1h-1zM160 72h1v1h-1zM149 59h1v1h-1zM134 59h1v1h-1zM157 63h1v1h-1zM151 61h1v1h-1zM152 61h1v1h-1zM143 60h1v1h-1zM159 65h1v1h-1zM155 62h1v1h-1z" fill="#6890C0" shape-rendering="crispEdges"/>
<path d="M151 116h1v1h-1zM137 116h1v1h-1zM151 115h1v1h-1zM136 116h1v1h-1zM157 117h1v1h-1zM154 117h1v1h-1zM150 116h1v1h-1zM153 115h1v1h-1zM156 119h1v1h-1zM161 123h1v1h-1zM134 117h1v1h-1zM155 119h1v1h-1zM137 113h1v1h-1zM153 116h1v1h-1zM135 119h1v1h-1zM148 114h1v1h-1zM163 124h1v1h-1zM163 125h1v1h-1zM146 112h1v1h-1zM144 112h1v1h-1zM158 121h1v1h-1zM162 123h1v1h-1zM164 123h1v1h-1zM158 120h1v1h-1zM152 117h1v1h-1zM149 114h1v1h-1zM149 113h1v1h-1zM147 112h1v1h-1zM140 111h1v1h-1zM150 115h1v1h-1zM147 113h1v1h-1zM134 116h1v1h-1zM148 113h1v1h-1zM163 122h1v1h-1zM137 112h1v1h-1zM165 122h1v1h-1zM149 112h1v1h-1zM145 112h1v1h-1zM137 114h1v1h-1zM147 114h1v1h-1zM156 118h1v1h-1zM137 115h1v1h-1zM136 120h1v1h-1zM159 118h1v1h-1zM150 113h1v1h-1zM159 120h1v1h-1zM157 119h1v1h-1zM165 123h1v1h-1zM143 111h1v1h-1zM136 115h1v1h-1zM135 118h1v1h-1zM133 121h1v1h-1zM164 124h1v1h-1zM144 110h1v1h-1zM149 111h1v1h-1zM165 124h1v1h-1zM147 131h1v1h-1zM136 124h1v1h-1zM144 130h1v1h-1zM138 125h1v1h-1zM153 130h1v1h-1zM159 128h1v1h-1z" fill="#5AA0D0" shape-rendering="crispEdges"/>
<path d="M49 95h1v1h-1zM47 94h1v1h-1zM54 93h1v1h-1zM51 95h1v1h-1zM50 92h1v1h-1zM46 94h1v1h-1zM52 97h1v1h-1zM47 93h1v1h-1zM50 94h1v1h-1zM53 95h1v1h-1zM46 95h1v1h-1zM52 96h1v1h-1zM51 93h1v1h-1zM54 98h1v1h-1zM53 99h1v1h-1zM53 96h1v1h-1zM45 96h1v1h-1zM44 98h1v1h-1z" fill="#D266A8" shape-rendering="crispEdges"/>
<circle cx="48.70" cy="100.20" r="3.90" fill="#D266A8"/>
<g filter="url(#rough)">
<path d="M206.4,18.1 L204.2,16.8 L201.9,16.1 L194.8,15.6 L189.4,16.6 L185.4,18.5 L183.8,20.9 L183.1,23.8 L183.1,33.4 L183.6,36.6 L184.4,36.8 L188.5,33.2 L193.8,33.0 L197.0,30.9 L204.9,28.4 L205.9,27.1 L207.2,21.5 L207.2,19.6Z" fill="#52AB50" stroke="#52AB50" stroke-width="0.35" fill-rule="evenodd"/>
<path d="M197.0,31.0 L194.5,33.4 L195.6,37.2 L195.4,43.8 L194.4,44.5 L189.6,43.8 L189.1,44.1 L189.4,45.4 L191.6,47.8 L195.0,49.0 L198.2,51.0 L202.2,56.1 L204.6,57.8 L209.1,58.1 L213.5,56.2 L216.6,53.4 L217.8,50.6 L217.8,47.9 L216.2,44.4 L211.8,38.9 L208.5,37.4 L206.8,35.8 L205.4,29.9 L202.5,31.2Z" fill="#52B2A0" stroke="#52B2A0" stroke-width="0.35" fill-rule="evenodd"/>
</g>
<path d="M194 32h1v1h-1zM205 27h1v1h-1zM195 31h1v1h-1zM200 29h1v1h-1zM195 29h1v1h-1zM196 30h1v1h-1zM196 31h1v1h-1zM204 28h1v1h-1zM199 30h1v1h-1zM196 29h1v1h-1zM193 31h1v1h-1zM198 30h1v1h-1zM194 30h1v1h-1zM199 28h1v1h-1zM194 31h1v1h-1zM192 31h1v1h-1zM193 33h1v1h-1zM197 30h1v1h-1zM203 27h1v1h-1zM202 28h1v1h-1zM193 32h1v1h-1zM204 27h1v1h-1zM203 28h1v1h-1zM192 33h1v1h-1zM197 29h1v1h-1zM192 32h1v1h-1zM196 28h1v1h-1zM191 43h1v1h-1zM218 51h1v1h-1zM199 52h1v1h-1zM209 58h1v1h-1zM195 39h1v1h-1zM195 37h1v1h-1zM195 40h1v1h-1zM190 47h1v1h-1zM194 43h1v1h-1zM195 42h1v1h-1zM192 48h1v1h-1zM188 44h1v1h-1zM193 35h1v1h-1zM205 30h1v1h-1zM206 33h1v1h-1zM206 32h1v1h-1zM200 54h1v1h-1zM191 48h1v1h-1zM206 31h1v1h-1zM204 58h1v1h-1zM217 53h1v1h-1zM208 36h1v1h-1zM199 53h1v1h-1zM189 43h1v1h-1zM213 40h1v1h-1zM204 29h1v1h-1zM218 48h1v1h-1zM202 57h1v1h-1zM206 58h1v1h-1zM199 51h1v1h-1zM209 37h1v1h-1zM207 30h1v1h-1zM202 56h1v1h-1zM218 49h1v1h-1zM211 57h1v1h-1zM211 37h1v1h-1zM215 55h1v1h-1z" fill="#52B2A0" shape-rendering="crispEdges"/>
<path d="M200 31h1v1h-1zM197 33h1v1h-1zM194 32h1v1h-1zM196 31h1v1h-1zM195 33h1v1h-1zM201 31h1v1h-1zM194 33h1v1h-1zM197 30h1v1h-1zM196 32h1v1h-1zM198 31h1v1h-1zM199 30h1v1h-1zM195 32h1v1h-1zM204 29h1v1h-1zM194 34h1v1h-1zM197 31h1v1h-1zM196 33h1v1h-1zM198 30h1v1h-1zM199 32h1v1h-1zM203 31h1v1h-1zM197 32h1v1h-1zM205 30h1v1h-1zM196 34h1v1h-1zM199 31h1v1h-1zM204 30h1v1h-1zM203 30h1v1h-1zM182 29h1v1h-1zM207 24h1v1h-1zM183 19h1v1h-1zM203 16h1v1h-1zM183 22h1v1h-1zM187 16h1v1h-1zM205 17h1v1h-1zM186 17h1v1h-1zM185 17h1v1h-1zM189 16h1v1h-1zM190 15h1v1h-1zM187 17h1v1h-1zM202 29h1v1h-1zM185 18h1v1h-1zM184 19h1v1h-1zM202 16h1v1h-1zM190 33h1v1h-1zM194 14h1v1h-1zM198 15h1v1h-1zM183 30h1v1h-1zM188 33h1v1h-1zM205 16h1v1h-1zM184 18h1v1h-1zM193 33h1v1h-1zM207 19h1v1h-1zM185 36h1v1h-1zM207 23h1v1h-1zM206 25h1v1h-1zM183 33h1v1h-1zM208 20h1v1h-1zM187 34h1v1h-1z" fill="#52AB50" shape-rendering="crispEdges"/>
<g filter="url(#rough)">
<path d="M215.1,145.9 L210.5,142.2 L206.6,140.2 L202.2,139.4 L198.8,139.4 L196.2,141.1 L193.2,147.5 L186.9,153.2 L192.0,153.9 L196.0,146.5 L196.9,147.4 L197.4,151.2 L196.2,153.0 L196.9,153.2 L199.0,152.9 L200.1,151.2 L203.5,149.9 L209.1,148.6 L213.4,148.4 L214.9,147.0Z" fill="#8A84B8" stroke="#8A84B8" stroke-width="0.35" fill-rule="evenodd"/>
<path d="M192.0,154.1 L185.8,153.5 L177.8,158.8 L172.2,159.0 L169.9,160.2 L166.2,164.5 L165.2,168.0 L165.8,171.5 L168.6,173.2 L171.5,173.1 L175.6,171.5 L179.0,168.2 L185.2,159.1 L189.5,155.6 L191.6,155.0ZM196.2,146.6 L194.9,148.2 L192.8,153.9 L195.8,153.1 L197.1,151.6 L197.2,149.6Z" fill="#9A80B0" stroke="#9A80B0" stroke-width="0.35" fill-rule="evenodd"/>
<path d="M213.1,148.5 L205.5,149.5 L200.2,151.2 L199.2,152.8 L198.9,156.8 L193.9,159.1 L194.2,160.1 L197.6,162.2 L198.6,167.9 L200.6,171.2 L203.9,173.9 L209.1,175.8 L213.1,175.4 L217.9,172.9 L221.1,169.2 L222.9,164.4 L222.6,159.5 L220.0,152.9 L217.0,150.0Z" fill="#C08A30" stroke="#C08A30" stroke-width="0.35" fill-rule="evenodd"/>
</g>
<path d="M206 147h1v1h-1zM203 149h1v1h-1zM202 149h1v1h-1zM200 148h1v1h-1zM200 150h1v1h-1zM209 147h1v1h-1zM205 149h1v1h-1zM210 146h1v1h-1zM199 152h1v1h-1zM214 146h1v1h-1zM203 148h1v1h-1zM211 146h1v1h-1zM210 148h1v1h-1zM201 150h1v1h-1zM199 149h1v1h-1zM200 151h1v1h-1zM201 149h1v1h-1zM209 148h1v1h-1zM199 150h1v1h-1zM206 148h1v1h-1zM212 146h1v1h-1zM205 148h1v1h-1zM211 147h1v1h-1zM207 148h1v1h-1zM212 147h1v1h-1zM198 152h1v1h-1zM204 149h1v1h-1zM207 149h1v1h-1zM197 164h1v1h-1zM194 161h1v1h-1zM194 157h1v1h-1zM218 172h1v1h-1zM222 167h1v1h-1zM203 174h1v1h-1zM197 166h1v1h-1zM215 149h1v1h-1zM223 161h1v1h-1zM219 171h1v1h-1zM210 176h1v1h-1zM214 175h1v1h-1zM221 152h1v1h-1zM221 168h1v1h-1zM217 173h1v1h-1zM220 152h1v1h-1zM195 157h1v1h-1zM197 168h1v1h-1zM223 159h1v1h-1zM220 151h1v1h-1zM197 167h1v1h-1zM197 163h1v1h-1zM221 155h1v1h-1zM212 175h1v1h-1zM205 174h1v1h-1zM223 160h1v1h-1zM199 155h1v1h-1z" fill="#C08A30" shape-rendering="crispEdges"/>
<path d="M189 155h1v1h-1zM197 149h1v1h-1zM202 151h1v1h-1zM194 152h1v1h-1zM193 153h1v1h-1zM187 154h1v1h-1zM209 149h1v1h-1zM196 148h1v1h-1zM194 150h1v1h-1zM210 149h1v1h-1zM193 152h1v1h-1zM195 147h1v1h-1zM208 149h1v1h-1zM212 149h1v1h-1zM195 149h1v1h-1zM200 151h1v1h-1zM199 153h1v1h-1zM196 150h1v1h-1zM196 147h1v1h-1zM185 155h1v1h-1zM187 156h1v1h-1zM208 148h1v1h-1zM189 154h1v1h-1zM194 151h1v1h-1zM187 157h1v1h-1zM206 149h1v1h-1zM213 148h1v1h-1zM196 151h1v1h-1zM196 149h1v1h-1zM200 152h1v1h-1zM190 154h1v1h-1zM185 154h1v1h-1zM187 153h1v1h-1zM199 152h1v1h-1zM203 151h1v1h-1zM206 150h1v1h-1zM193 150h1v1h-1zM195 150h1v1h-1zM188 155h1v1h-1zM205 149h1v1h-1zM194 153h1v1h-1zM195 148h1v1h-1zM186 153h1v1h-1zM212 148h1v1h-1zM195 153h1v1h-1zM194 149h1v1h-1zM193 146h1v1h-1zM204 139h1v1h-1zM216 145h1v1h-1zM212 142h1v1h-1zM214 144h1v1h-1zM212 143h1v1h-1zM207 140h1v1h-1zM189 150h1v1h-1zM190 148h1v1h-1zM197 139h1v1h-1zM201 139h1v1h-1zM196 153h1v1h-1zM188 150h1v1h-1zM195 141h1v1h-1zM201 138h1v1h-1zM200 139h1v1h-1zM215 145h1v1h-1zM194 144h1v1h-1zM194 143h1v1h-1zM210 141h1v1h-1zM198 153h1v1h-1zM195 142h1v1h-1zM215 147h1v1h-1zM215 146h1v1h-1z" fill="#8A84B8" shape-rendering="crispEdges"/>
<path d="M191 153h1v1h-1zM187 152h1v1h-1zM198 149h1v1h-1zM196 145h1v1h-1zM197 147h1v1h-1zM195 146h1v1h-1zM197 152h1v1h-1zM196 152h1v1h-1zM192 150h1v1h-1zM193 146h1v1h-1zM190 152h1v1h-1zM194 147h1v1h-1zM197 151h1v1h-1zM187 153h1v1h-1zM193 149h1v1h-1zM190 153h1v1h-1zM197 148h1v1h-1zM189 153h1v1h-1zM192 152h1v1h-1zM193 150h1v1h-1zM194 148h1v1h-1zM188 152h1v1h-1zM198 150h1v1h-1zM198 147h1v1h-1zM194 149h1v1h-1zM191 152h1v1h-1zM191 150h1v1h-1zM195 145h1v1h-1zM197 149h1v1h-1zM188 153h1v1h-1zM182 164h1v1h-1zM178 169h1v1h-1zM168 173h1v1h-1zM165 170h1v1h-1zM170 158h1v1h-1zM176 158h1v1h-1zM166 162h1v1h-1zM165 172h1v1h-1zM194 154h1v1h-1zM190 155h1v1h-1zM187 157h1v1h-1zM169 174h1v1h-1zM168 160h1v1h-1zM180 167h1v1h-1zM180 155h1v1h-1zM191 155h1v1h-1zM168 174h1v1h-1zM165 168h1v1h-1zM165 165h1v1h-1zM176 171h1v1h-1zM175 172h1v1h-1zM164 167h1v1h-1zM167 172h1v1h-1zM182 163h1v1h-1zM177 170h1v1h-1zM171 159h1v1h-1zM171 173h1v1h-1zM179 168h1v1h-1zM185 158h1v1h-1zM172 158h1v1h-1zM165 167h1v1h-1zM177 158h1v1h-1zM167 162h1v1h-1zM172 173h1v1h-1z" fill="#9A80B0" shape-rendering="crispEdges"/>
<circle cx="183.50" cy="42.50" r="1.60" fill="#E0609A"/>
<circle cx="185.00" cy="40.00" r="1.10" fill="#E0609A"/>
<circle cx="184.50" cy="45.00" r="1.30" fill="#E0609A"/>
<circle cx="186.50" cy="44.50" r="1.00" fill="#E0609A"/>
<circle cx="183.00" cy="38.50" r="0.90" fill="#E0609A"/>
<circle cx="146.90" cy="156.30" r="1.50" fill="#E0609A"/>
<circle cx="217.00" cy="145.50" r="1.60" fill="#E06580"/>
<path d="M132 68h1v1h-1zM122 71h1v1h-1zM134 71h1v1h-1zM131 67h1v1h-1zM108 67h1v1h-1zM120 65h1v1h-1zM122 69h1v1h-1zM116 64h1v1h-1zM134 72h1v1h-1zM118 71h1v1h-1zM137 71h1v1h-1zM129 68h1v1h-1zM123 71h1v1h-1zM115 72h1v1h-1zM113 68h1v1h-1zM129 69h1v1h-1zM123 73h1v1h-1zM120 69h1v1h-1zM127 69h1v1h-1zM123 66h1v1h-1zM132 75h1v1h-1zM130 75h1v1h-1zM126 69h1v1h-1zM124 69h1v1h-1zM119 69h1v1h-1zM127 70h1v1h-1zM134 75h1v1h-1zM134 68h1v1h-1zM125 65h1v1h-1zM130 70h1v1h-1zM131 66h1v1h-1zM129 71h1v1h-1zM125 66h1v1h-1zM120 70h1v1h-1zM126 66h1v1h-1zM124 68h1v1h-1zM114 70h1v1h-1zM117 73h1v1h-1zM133 69h1v1h-1zM128 75h1v1h-1zM118 74h1v1h-1zM131 72h1v1h-1zM120 67h1v1h-1zM135 73h1v1h-1zM126 74h1v1h-1zM137 70h1v1h-1zM124 64h1v1h-1zM129 67h1v1h-1zM118 66h1v1h-1zM125 71h1v1h-1zM128 68h1v1h-1zM117 74h1v1h-1zM131 73h1v1h-1zM122 65h1v1h-1zM125 70h1v1h-1zM122 68h1v1h-1zM128 69h1v1h-1zM112 64h1v1h-1zM121 68h1v1h-1zM124 70h1v1h-1zM121 72h1v1h-1zM115 68h1v1h-1zM115 67h1v1h-1zM110 67h1v1h-1zM112 71h1v1h-1zM117 71h1v1h-1zM119 71h1v1h-1zM126 75h1v1h-1zM129 73h1v1h-1zM133 73h1v1h-1zM128 73h1v1h-1zM119 73h1v1h-1zM111 69h1v1h-1zM127 72h1v1h-1zM115 65h1v1h-1zM116 69h1v1h-1zM129 74h1v1h-1zM120 66h1v1h-1z" fill="#fefefe" shape-rendering="crispEdges"/>
<path d="M138 124h1v1h-1zM136 121h1v1h-1zM138 120h1v1h-1zM136 122h1v1h-1zM135 123h1v1h-1zM137 119h1v1h-1zM138 123h1v1h-1zM135 122h1v1h-1zM137 122h1v1h-1zM139 123h1v1h-1zM138 122h1v1h-1z" fill="#fefefe" shape-rendering="crispEdges"/>
<path d="M83 81h1v1h-1zM86 81h1v1h-1zM84 80h1v1h-1zM85 82h1v1h-1zM87 79h1v1h-1zM88 81h1v1h-1zM88 80h1v1h-1zM89 81h1v1h-1zM85 81h1v1h-1z" fill="#fefefe" shape-rendering="crispEdges"/>
<text x="92.30" y="66.40" font-size="5.5" fill="#222" text-anchor="middle" >0</text>
<text x="69.20" y="78.30" font-size="5.5" fill="#222" text-anchor="middle" >4</text>
<text x="56.20" y="88.00" font-size="5.5" fill="#222" text-anchor="middle" >9</text>
<text x="48.70" y="101.90" font-size="5.5" fill="#222" text-anchor="middle" >20</text>
<text x="115.80" y="62.90" font-size="5.5" fill="#222" text-anchor="middle" >19</text>
<text x="108.30" y="78.70" font-size="5.5" fill="#222" text-anchor="middle" >10</text>
<text x="108.00" y="92.30" font-size="5.5" fill="#222" text-anchor="middle" >12</text>
<text x="141.50" y="85.90" font-size="5.5" fill="#222" text-anchor="middle" >13</text>
<text x="153.30" y="71.00" font-size="5.5" fill="#222" text-anchor="middle" >15</text>
<text x="160.20" y="80.80" font-size="5.5" fill="#222" text-anchor="middle" >6</text>
<text x="168.90" y="97.60" font-size="5.5" fill="#222" text-anchor="middle" >5</text>
<text x="133.20" y="96.30" font-size="5.5" fill="#222" text-anchor="middle" >1</text>
<text x="124.70" y="109.90" font-size="5.5" fill="#222" text-anchor="middle" >7</text>
<text x="159.70" y="112.10" font-size="5.5" fill="#222" text-anchor="middle" >2</text>
<text x="170.60" y="114.80" font-size="5.5" fill="#222" text-anchor="middle" >18</text>
<text x="150.60" y="125.40" font-size="5.5" fill="#222" text-anchor="middle" >14</text>
<text x="193.70" y="25.60" font-size="5.5" fill="#222" text-anchor="middle" >8</text>
<text x="206.00" y="49.70" font-size="5.5" fill="#222" text-anchor="middle" >11</text>
<text x="184.50" y="45.50" font-size="5.5" fill="#222" text-anchor="middle" >21</text>
<text x="203.80" y="149.20" font-size="5.5" fill="#222" text-anchor="middle" >16</text>
<text x="173.60" y="168.40" font-size="5.5" fill="#222" text-anchor="middle" >17</text>
<text x="212.20" y="163.60" font-size="5.5" fill="#222" text-anchor="middle" >3</text>
<text x="146.90" y="158.20" font-size="5.2" fill="#222" text-anchor="middle" >21</text>
<circle cx="241.70" cy="57.60" r="1.75" fill="#EA716C"/>
<text x="250.20" y="60.00" font-size="6.8" fill="#222" text-anchor="middle" >0</text>
<circle cx="241.70" cy="64.80" r="1.75" fill="#E67D48"/>
<text x="250.20" y="67.20" font-size="6.8" fill="#222" text-anchor="middle" >1</text>
<circle cx="241.70" cy="72.00" r="1.75" fill="#D4832F"/>
<text x="250.20" y="74.40" font-size="6.8" fill="#222" text-anchor="middle" >2</text>
<circle cx="241.70" cy="79.20" r="1.75" fill="#C08A30"/>
<text x="250.20" y="81.60" font-size="6.8" fill="#222" text-anchor="middle" >3</text>
<circle cx="241.70" cy="86.40" r="1.75" fill="#A38E30"/>
<text x="250.20" y="88.80" font-size="6.8" fill="#222" text-anchor="middle" >4</text>
<circle cx="241.70" cy="93.60" r="1.75" fill="#8E9E3A"/>
<text x="250.20" y="96.00" font-size="6.8" fill="#222" text-anchor="middle" >5</text>
<circle cx="241.70" cy="100.80" r="1.75" fill="#79A83A"/>
<text x="250.20" y="103.20" font-size="6.8" fill="#222" text-anchor="middle" >6</text>
<circle cx="241.70" cy="108.00" r="1.75" fill="#55AA3E"/>
<text x="250.20" y="110.40" font-size="6.8" fill="#222" text-anchor="middle" >7</text>
<circle cx="241.70" cy="115.20" r="1.75" fill="#52AB50"/>
<text x="250.20" y="117.60" font-size="6.8" fill="#222" text-anchor="middle" >8</text>
<circle cx="241.70" cy="122.40" r="1.75" fill="#52AC72"/>
<text x="250.20" y="124.80" font-size="6.8" fill="#222" text-anchor="middle" >9</text>
<circle cx="241.70" cy="129.60" r="1.75" fill="#52B08C"/>
<text x="250.20" y="132.00" font-size="6.8" fill="#222" text-anchor="middle" >10</text>
<circle cx="241.70" cy="136.80" r="1.75" fill="#52B2A0"/>
<text x="250.20" y="139.20" font-size="6.8" fill="#222" text-anchor="middle" >11</text>
<circle cx="261.40" cy="57.60" r="1.75" fill="#4BB0B8"/>
<text x="268.40" y="60.00" font-size="6.8" fill="#222" text-anchor="start" >12</text>
<circle cx="261.40" cy="64.80" r="1.75" fill="#4AAED8"/>
<text x="268.40" y="67.20" font-size="6.8" fill="#222" text-anchor="start" >13</text>
<circle cx="261.40" cy="72.00" r="1.75" fill="#5AA0D0"/>
<text x="268.40" y="74.40" font-size="6.8" fill="#222" text-anchor="start" >14</text>
<circle cx="261.40" cy="79.20" r="1.75" fill="#6890C0"/>
<text x="268.40" y="81.60" font-size="6.8" fill="#222" text-anchor="start" >15</text>
<circle cx="261.40" cy="86.40" r="1.75" fill="#8A84B8"/>
<text x="268.40" y="88.80" font-size="6.8" fill="#222" text-anchor="start" >16</text>
<circle cx="261.40" cy="93.60" r="1.75" fill="#9A80B0"/>
<text x="268.40" y="96.00" font-size="6.8" fill="#222" text-anchor="start" >17</text>
<circle cx="261.40" cy="100.80" r="1.75" fill="#AE78AE"/>
<text x="268.40" y="103.20" font-size="6.8" fill="#222" text-anchor="start" >18</text>
<circle cx="261.40" cy="108.00" r="1.75" fill="#BF74A8"/>
<text x="268.40" y="110.40" font-size="6.8" fill="#222" text-anchor="start" >19</text>
<circle cx="261.40" cy="115.20" r="1.75" fill="#D266A8"/>
<text x="268.40" y="117.60" font-size="6.8" fill="#222" text-anchor="start" >20</text>
<circle cx="261.40" cy="122.40" r="1.75" fill="#E0609A"/>
<text x="268.40" y="124.80" font-size="6.8" fill="#222" text-anchor="start" >21</text>
<circle cx="261.40" cy="129.60" r="1.75" fill="#E06580"/>
<text x="268.40" y="132.00" font-size="6.8" fill="#222" text-anchor="start" >22</text>
<line x1="306.80" y1="9.80" x2="306.80" y2="183.10" stroke="#555" stroke-width="0.9" />
<line x1="306.80" y1="183.10" x2="485.60" y2="183.10" stroke="#555" stroke-width="0.9" />
<line x1="305.10" y1="28.10" x2="306.80" y2="28.10" stroke="#555" stroke-width="0.8" />
<text x="303.50" y="30.30" font-size="6.3" fill="#333" text-anchor="end" >10</text>
<line x1="305.10" y1="61.00" x2="306.80" y2="61.00" stroke="#555" stroke-width="0.8" />
<text x="303.50" y="63.20" font-size="6.3" fill="#333" text-anchor="end" >5</text>
<line x1="305.10" y1="94.00" x2="306.80" y2="94.00" stroke="#555" stroke-width="0.8" />
<text x="303.50" y="96.20" font-size="6.3" fill="#333" text-anchor="end" >0</text>
<line x1="305.10" y1="127.00" x2="306.80" y2="127.00" stroke="#555" stroke-width="0.8" />
<text x="303.50" y="129.20" font-size="6.3" fill="#333" text-anchor="end" >−5</text>
<line x1="305.10" y1="159.80" x2="306.80" y2="159.80" stroke="#555" stroke-width="0.8" />
<text x="303.50" y="162.00" font-size="6.3" fill="#333" text-anchor="end" >−10</text>
<line x1="338.30" y1="183.10" x2="338.30" y2="184.80" stroke="#555" stroke-width="0.8" />
<text x="338.30" y="191.10" font-size="6.3" fill="#333" text-anchor="middle" >−10</text>
<line x1="370.50" y1="183.10" x2="370.50" y2="184.80" stroke="#555" stroke-width="0.8" />
<text x="370.50" y="191.10" font-size="6.3" fill="#333" text-anchor="middle" >−5</text>
<line x1="402.40" y1="183.10" x2="402.40" y2="184.80" stroke="#555" stroke-width="0.8" />
<text x="402.40" y="191.10" font-size="6.3" fill="#333" text-anchor="middle" >0</text>
<line x1="434.70" y1="183.10" x2="434.70" y2="184.80" stroke="#555" stroke-width="0.8" />
<text x="434.70" y="191.10" font-size="6.3" fill="#333" text-anchor="middle" >5</text>
<line x1="466.70" y1="183.10" x2="466.70" y2="184.80" stroke="#555" stroke-width="0.8" />
<text x="466.70" y="191.10" font-size="6.3" fill="#333" text-anchor="middle" >10</text>
<text x="396.20" y="198.20" font-size="6.5" fill="#222" text-anchor="middle" >UMAP_1</text>
<text x="291.20" y="96.80" font-size="6.5" fill="#222" text-anchor="middle" transform="rotate(-90 291.20 96.80)" >UMAP_2</text>
<g filter="url(#rough)">
<path d="M391.4,80.6 L383.0,82.5 L382.1,84.0 L382.8,84.5 L383.9,84.4ZM408.0,58.5 L401.1,60.8 L400.0,63.6 L400.4,69.4 L404.6,72.6 L408.6,77.8 L411.4,83.5 L412.6,88.9 L412.5,92.8 L411.4,97.1 L404.9,107.5 L403.2,113.8 L403.4,115.2 L422.5,111.9 L436.9,105.9 L437.6,105.1 L437.0,96.5 L436.1,92.2 L433.9,85.9 L430.8,79.5 L427.2,74.8 L422.9,70.2 L413.1,62.6 L409.9,59.4Z" fill="#CE842F" stroke="#CE842F" stroke-width="0.35" fill-rule="evenodd"/>
<path d="M437.8,106.5 L437.2,106.0 L422.5,112.0 L403.6,115.5 L402.2,116.5 L397.8,122.1 L405.9,128.4 L408.9,130.0 L419.4,131.4 L422.2,131.1 L430.1,126.1 L435.5,120.9 L437.0,116.2Z" fill="#9A9A38" stroke="#9A9A38" stroke-width="0.35" fill-rule="evenodd"/>
<path d="M349.4,78.1 L351.0,80.9 L352.8,81.2 L360.0,85.8 L381.1,83.9 L383.0,82.4 L391.4,80.1 L394.1,78.6 L396.1,76.8 L398.6,71.0 L400.2,68.9 L399.9,63.8 L400.5,61.0 L399.6,60.4 L363.4,54.5 L359.6,54.6 L356.1,55.5 L351.5,59.2 L351.8,61.4 L349.6,65.9Z" fill="#55AA3E" stroke="#55AA3E" stroke-width="0.35" fill-rule="evenodd"/>
<path d="M412.5,91.9 L411.9,85.4 L408.8,78.1 L404.6,72.8 L401.0,70.1 L399.9,70.1 L398.8,71.0 L396.4,76.9 L394.6,79.0 L391.0,81.4 L383.9,84.5 L380.2,84.1 L360.8,86.0 L358.8,85.5 L356.1,83.2 L351.5,81.1 L350.6,81.6 L348.8,84.9 L349.0,85.6 L351.0,86.5 L356.1,86.2 L359.1,87.1 L368.1,98.6 L379.5,111.9 L388.1,118.4 L395.2,122.1 L396.8,122.0 L400.9,118.5 L402.2,116.4 L404.9,107.2 L410.8,98.4Z" fill="#EC736A" stroke="#EC736A" stroke-width="0.35" fill-rule="evenodd"/>
<path d="M351.4,59.9 L350.5,59.8 L346.8,61.9 L339.8,63.4 L333.2,65.8 L327.9,69.0 L323.0,73.9 L319.8,78.5 L317.6,83.6 L317.2,91.2 L314.6,100.2 L314.9,102.2 L316.2,104.2 L317.8,104.9 L319.5,104.4 L323.1,99.6 L328.6,95.0 L338.1,89.0 L342.8,86.9 L347.5,85.5 L348.9,84.5 L350.5,81.4 L349.2,78.0 L349.5,65.9 L351.6,61.4Z" fill="#58A2D0" stroke="#58A2D0" stroke-width="0.35" fill-rule="evenodd"/>
</g>
<path d="M433 105h1v1h-1zM417 111h1v1h-1zM421 112h1v1h-1zM399 117h1v1h-1zM431 107h1v1h-1zM437 105h1v1h-1zM405 113h1v1h-1zM396 119h1v1h-1zM431 108h1v1h-1zM412 111h1v1h-1zM429 106h1v1h-1zM431 106h1v1h-1zM401 117h1v1h-1zM412 113h1v1h-1zM417 109h1v1h-1zM398 116h1v1h-1zM408 114h1v1h-1zM406 114h1v1h-1zM434 104h1v1h-1zM437 104h1v1h-1zM412 112h1v1h-1zM427 108h1v1h-1zM436 105h1v1h-1zM423 108h1v1h-1zM418 111h1v1h-1zM427 109h1v1h-1zM416 112h1v1h-1zM400 118h1v1h-1zM419 109h1v1h-1zM398 120h1v1h-1zM414 113h1v1h-1zM408 113h1v1h-1zM401 118h1v1h-1zM416 110h1v1h-1zM415 113h1v1h-1zM423 111h1v1h-1zM396 121h1v1h-1zM415 110h1v1h-1zM420 110h1v1h-1zM414 111h1v1h-1zM428 105h1v1h-1zM395 121h1v1h-1zM407 113h1v1h-1zM409 112h1v1h-1zM395 120h1v1h-1zM430 106h1v1h-1zM411 111h1v1h-1zM425 110h1v1h-1zM417 110h1v1h-1zM424 111h1v1h-1zM432 106h1v1h-1zM398 118h1v1h-1zM430 104h1v1h-1zM399 119h1v1h-1zM417 112h1v1h-1zM437 103h1v1h-1zM423 107h1v1h-1zM406 113h1v1h-1zM413 113h1v1h-1zM423 110h1v1h-1zM397 120h1v1h-1zM403 115h1v1h-1zM408 111h1v1h-1zM410 113h1v1h-1zM425 109h1v1h-1zM413 111h1v1h-1zM407 114h1v1h-1zM418 109h1v1h-1zM424 108h1v1h-1zM415 112h1v1h-1zM422 111h1v1h-1zM397 121h1v1h-1zM429 107h1v1h-1zM424 110h1v1h-1zM421 111h1v1h-1zM409 113h1v1h-1zM434 105h1v1h-1zM430 107h1v1h-1zM400 116h1v1h-1zM409 114h1v1h-1zM428 107h1v1h-1zM437 117h1v1h-1zM436 122h1v1h-1zM412 130h1v1h-1zM427 129h1v1h-1zM427 128h1v1h-1zM414 131h1v1h-1zM424 130h1v1h-1zM415 131h1v1h-1zM431 125h1v1h-1zM438 107h1v1h-1zM412 131h1v1h-1zM408 130h1v1h-1zM421 131h1v1h-1zM410 130h1v1h-1zM417 131h1v1h-1zM397 122h1v1h-1zM401 124h1v1h-1z" fill="#9A9A38" shape-rendering="crispEdges"/>
<path d="M347 76h1v1h-1zM347 75h1v1h-1zM347 77h1v1h-1zM372 85h1v1h-1zM367 87h1v1h-1zM398 75h1v1h-1zM386 81h1v1h-1zM401 62h1v1h-1zM400 67h1v1h-1zM376 84h1v1h-1zM349 64h1v1h-1zM370 87h1v1h-1zM354 83h1v1h-1zM401 63h1v1h-1zM375 85h1v1h-1zM348 77h1v1h-1zM365 85h1v1h-1zM351 81h1v1h-1zM402 60h1v1h-1zM348 71h1v1h-1zM365 86h1v1h-1zM374 86h1v1h-1zM355 83h1v1h-1zM346 64h1v1h-1zM378 85h1v1h-1zM367 85h1v1h-1zM379 85h1v1h-1zM350 80h1v1h-1zM348 76h1v1h-1zM350 62h1v1h-1zM400 74h1v1h-1zM348 72h1v1h-1zM382 83h1v1h-1zM349 74h1v1h-1zM368 88h1v1h-1zM370 86h1v1h-1zM351 61h1v1h-1zM400 61h1v1h-1zM378 87h1v1h-1zM364 87h1v1h-1zM383 82h1v1h-1zM349 63h1v1h-1zM370 85h1v1h-1zM348 65h1v1h-1zM388 81h1v1h-1zM358 86h1v1h-1zM363 86h1v1h-1zM380 87h1v1h-1zM348 74h1v1h-1zM363 88h1v1h-1zM397 75h1v1h-1zM347 65h1v1h-1zM356 85h1v1h-1zM360 87h1v1h-1zM379 84h1v1h-1zM349 78h1v1h-1zM400 64h1v1h-1zM350 63h1v1h-1zM402 61h1v1h-1zM397 73h1v1h-1zM346 77h1v1h-1zM400 65h1v1h-1zM401 64h1v1h-1zM380 84h1v1h-1zM349 79h1v1h-1zM400 68h1v1h-1zM348 62h1v1h-1zM393 79h1v1h-1zM356 86h1v1h-1zM349 67h1v1h-1zM357 84h1v1h-1zM365 88h1v1h-1zM355 84h1v1h-1zM385 82h1v1h-1zM394 78h1v1h-1zM378 86h1v1h-1zM348 63h1v1h-1zM373 85h1v1h-1zM397 74h1v1h-1zM398 73h1v1h-1zM362 86h1v1h-1zM348 66h1v1h-1zM359 87h1v1h-1zM376 86h1v1h-1zM353 83h1v1h-1zM348 73h1v1h-1zM348 79h1v1h-1zM384 83h1v1h-1zM398 74h1v1h-1zM395 77h1v1h-1zM346 78h1v1h-1zM349 62h1v1h-1zM371 85h1v1h-1zM351 59h1v1h-1zM401 66h1v1h-1zM354 82h1v1h-1zM349 61h1v1h-1zM347 61h1v1h-1zM362 87h1v1h-1zM349 76h1v1h-1zM373 86h1v1h-1zM360 86h1v1h-1zM351 62h1v1h-1zM391 80h1v1h-1zM390 80h1v1h-1zM349 71h1v1h-1zM402 64h1v1h-1zM376 85h1v1h-1zM399 73h1v1h-1zM359 86h1v1h-1zM349 65h1v1h-1zM377 84h1v1h-1zM363 87h1v1h-1zM379 86h1v1h-1zM401 61h1v1h-1zM402 66h1v1h-1zM349 60h1v1h-1zM348 80h1v1h-1zM400 63h1v1h-1zM368 87h1v1h-1zM378 56h1v1h-1zM384 57h1v1h-1zM393 59h1v1h-1zM388 58h1v1h-1zM363 54h1v1h-1zM375 55h1v1h-1zM364 54h1v1h-1zM400 60h1v1h-1zM374 55h1v1h-1zM394 58h1v1h-1z" fill="#55AA3E" shape-rendering="crispEdges"/>
<path d="M359 84h1v1h-1zM413 87h1v1h-1zM412 92h1v1h-1zM404 71h1v1h-1zM408 77h1v1h-1zM352 80h1v1h-1zM403 71h1v1h-1zM375 84h1v1h-1zM403 117h1v1h-1zM404 72h1v1h-1zM405 70h1v1h-1zM400 69h1v1h-1zM405 106h1v1h-1zM413 93h1v1h-1zM408 103h1v1h-1zM384 83h1v1h-1zM413 92h1v1h-1zM407 105h1v1h-1zM378 83h1v1h-1zM406 109h1v1h-1zM411 99h1v1h-1zM413 97h1v1h-1zM402 120h1v1h-1zM365 85h1v1h-1zM366 84h1v1h-1zM413 84h1v1h-1zM404 108h1v1h-1zM383 84h1v1h-1zM401 119h1v1h-1zM411 96h1v1h-1zM354 80h1v1h-1zM354 78h1v1h-1zM404 110h1v1h-1zM375 83h1v1h-1zM346 83h1v1h-1zM355 79h1v1h-1zM368 82h1v1h-1zM402 69h1v1h-1zM401 120h1v1h-1zM395 75h1v1h-1zM377 82h1v1h-1zM348 83h1v1h-1zM406 111h1v1h-1zM376 83h1v1h-1zM369 83h1v1h-1zM409 102h1v1h-1zM355 82h1v1h-1zM379 83h1v1h-1zM412 95h1v1h-1zM366 83h1v1h-1zM404 70h1v1h-1zM382 84h1v1h-1zM403 69h1v1h-1zM378 84h1v1h-1zM401 121h1v1h-1zM402 116h1v1h-1zM409 76h1v1h-1zM370 84h1v1h-1zM369 82h1v1h-1zM408 73h1v1h-1zM371 84h1v1h-1zM402 119h1v1h-1zM412 93h1v1h-1zM375 81h1v1h-1zM351 80h1v1h-1zM371 81h1v1h-1zM411 98h1v1h-1zM362 84h1v1h-1zM347 82h1v1h-1zM349 83h1v1h-1zM406 105h1v1h-1zM372 83h1v1h-1zM380 83h1v1h-1zM398 71h1v1h-1zM352 78h1v1h-1zM412 80h1v1h-1zM349 81h1v1h-1zM413 83h1v1h-1zM396 75h1v1h-1zM397 71h1v1h-1zM356 83h1v1h-1zM412 86h1v1h-1zM405 110h1v1h-1zM412 85h1v1h-1zM409 104h1v1h-1zM346 85h1v1h-1zM357 82h1v1h-1zM384 84h1v1h-1zM367 83h1v1h-1zM407 75h1v1h-1zM369 85h1v1h-1zM371 83h1v1h-1zM374 83h1v1h-1zM403 118h1v1h-1zM406 72h1v1h-1zM402 118h1v1h-1zM410 102h1v1h-1zM411 78h1v1h-1zM368 83h1v1h-1zM359 85h1v1h-1zM410 78h1v1h-1zM405 72h1v1h-1zM396 71h1v1h-1zM403 113h1v1h-1zM412 94h1v1h-1zM379 84h1v1h-1zM406 108h1v1h-1zM358 85h1v1h-1zM365 83h1v1h-1zM354 81h1v1h-1zM412 84h1v1h-1zM373 84h1v1h-1zM374 84h1v1h-1zM404 69h1v1h-1zM363 82h1v1h-1zM387 82h1v1h-1zM410 103h1v1h-1zM414 94h1v1h-1zM411 97h1v1h-1zM350 81h1v1h-1zM412 81h1v1h-1zM402 117h1v1h-1zM406 73h1v1h-1zM414 96h1v1h-1zM406 74h1v1h-1zM412 79h1v1h-1zM399 120h1v1h-1zM347 85h1v1h-1zM399 121h1v1h-1zM361 82h1v1h-1zM408 76h1v1h-1zM360 83h1v1h-1zM404 111h1v1h-1zM380 81h1v1h-1zM405 113h1v1h-1zM356 82h1v1h-1zM391 80h1v1h-1zM406 71h1v1h-1zM406 106h1v1h-1zM353 81h1v1h-1zM404 112h1v1h-1zM413 81h1v1h-1zM413 96h1v1h-1zM409 100h1v1h-1zM390 81h1v1h-1zM399 122h1v1h-1zM377 84h1v1h-1zM412 83h1v1h-1zM403 70h1v1h-1zM401 117h1v1h-1zM404 109h1v1h-1zM389 81h1v1h-1zM410 79h1v1h-1zM405 73h1v1h-1zM397 68h1v1h-1zM409 101h1v1h-1zM407 70h1v1h-1zM382 83h1v1h-1zM385 83h1v1h-1zM405 111h1v1h-1zM371 82h1v1h-1zM410 80h1v1h-1zM407 104h1v1h-1zM355 80h1v1h-1zM357 84h1v1h-1zM412 91h1v1h-1zM359 83h1v1h-1zM410 99h1v1h-1zM407 74h1v1h-1zM388 82h1v1h-1zM368 85h1v1h-1zM414 84h1v1h-1zM412 90h1v1h-1zM345 84h1v1h-1zM397 121h1v1h-1zM367 82h1v1h-1zM409 78h1v1h-1zM364 83h1v1h-1zM348 81h1v1h-1zM408 75h1v1h-1zM366 85h1v1h-1zM402 70h1v1h-1zM408 104h1v1h-1zM362 85h1v1h-1zM364 84h1v1h-1zM412 88h1v1h-1zM412 96h1v1h-1zM405 107h1v1h-1zM400 118h1v1h-1zM412 98h1v1h-1zM380 113h1v1h-1zM358 87h1v1h-1zM364 95h1v1h-1zM385 117h1v1h-1zM381 114h1v1h-1zM384 116h1v1h-1zM394 122h1v1h-1zM361 90h1v1h-1zM391 120h1v1h-1zM370 101h1v1h-1zM386 117h1v1h-1zM380 112h1v1h-1zM357 86h1v1h-1zM383 115h1v1h-1zM368 99h1v1h-1zM371 104h1v1h-1zM395 123h1v1h-1zM375 108h1v1h-1zM392 122h1v1h-1z" fill="#EC736A" shape-rendering="crispEdges"/>
<path d="M432 111h1v1h-1zM409 98h1v1h-1zM386 83h1v1h-1zM399 65h1v1h-1zM403 105h1v1h-1zM408 102h1v1h-1zM398 65h1v1h-1zM382 84h1v1h-1zM405 115h1v1h-1zM411 115h1v1h-1zM428 110h1v1h-1zM410 82h1v1h-1zM400 70h1v1h-1zM410 85h1v1h-1zM404 73h1v1h-1zM394 76h1v1h-1zM396 77h1v1h-1zM431 108h1v1h-1zM409 82h1v1h-1zM422 113h1v1h-1zM403 111h1v1h-1zM437 107h1v1h-1zM404 106h1v1h-1zM386 85h1v1h-1zM407 103h1v1h-1zM409 115h1v1h-1zM401 70h1v1h-1zM392 78h1v1h-1zM401 107h1v1h-1zM393 81h1v1h-1zM383 82h1v1h-1zM402 107h1v1h-1zM426 110h1v1h-1zM410 88h1v1h-1zM383 85h1v1h-1zM387 83h1v1h-1zM410 81h1v1h-1zM398 61h1v1h-1zM424 112h1v1h-1zM430 109h1v1h-1zM417 113h1v1h-1zM409 95h1v1h-1zM436 106h1v1h-1zM408 80h1v1h-1zM406 77h1v1h-1zM423 112h1v1h-1zM405 116h1v1h-1zM393 76h1v1h-1zM406 76h1v1h-1zM422 112h1v1h-1zM404 115h1v1h-1zM418 113h1v1h-1zM401 109h1v1h-1zM408 100h1v1h-1zM410 96h1v1h-1zM381 84h1v1h-1zM431 110h1v1h-1zM384 84h1v1h-1zM398 66h1v1h-1zM409 80h1v1h-1zM396 79h1v1h-1zM402 71h1v1h-1zM429 110h1v1h-1zM410 97h1v1h-1zM410 87h1v1h-1zM402 110h1v1h-1zM390 79h1v1h-1zM420 113h1v1h-1zM411 94h1v1h-1zM389 83h1v1h-1zM409 100h1v1h-1zM411 87h1v1h-1zM398 67h1v1h-1zM434 109h1v1h-1zM411 90h1v1h-1zM410 98h1v1h-1zM399 66h1v1h-1zM395 75h1v1h-1zM414 114h1v1h-1zM425 112h1v1h-1zM408 78h1v1h-1zM396 78h1v1h-1zM409 79h1v1h-1zM425 111h1v1h-1zM404 116h1v1h-1zM385 78h1v1h-1zM388 78h1v1h-1zM399 63h1v1h-1zM408 84h1v1h-1zM423 113h1v1h-1zM409 117h1v1h-1zM395 80h1v1h-1zM405 104h1v1h-1zM411 114h1v1h-1zM393 80h1v1h-1zM424 111h1v1h-1zM411 95h1v1h-1zM409 101h1v1h-1zM387 80h1v1h-1zM413 114h1v1h-1zM406 75h1v1h-1zM411 83h1v1h-1zM410 84h1v1h-1zM400 67h1v1h-1zM416 114h1v1h-1zM385 83h1v1h-1zM394 83h1v1h-1zM429 109h1v1h-1zM394 77h1v1h-1zM382 82h1v1h-1zM394 80h1v1h-1zM424 114h1v1h-1zM427 111h1v1h-1zM404 104h1v1h-1zM433 109h1v1h-1zM411 116h1v1h-1zM407 102h1v1h-1zM403 112h1v1h-1zM381 85h1v1h-1zM391 81h1v1h-1zM410 83h1v1h-1zM384 79h1v1h-1zM411 92h1v1h-1zM395 79h1v1h-1zM405 77h1v1h-1zM402 115h1v1h-1zM402 109h1v1h-1zM411 91h1v1h-1zM407 115h1v1h-1zM408 116h1v1h-1zM401 72h1v1h-1zM414 113h1v1h-1zM401 114h1v1h-1zM404 75h1v1h-1zM388 83h1v1h-1zM408 85h1v1h-1zM407 116h1v1h-1zM410 93h1v1h-1zM434 108h1v1h-1zM383 81h1v1h-1zM390 80h1v1h-1zM399 67h1v1h-1zM400 61h1v1h-1zM397 67h1v1h-1zM382 86h1v1h-1zM398 78h1v1h-1zM415 113h1v1h-1zM435 107h1v1h-1zM417 115h1v1h-1zM381 82h1v1h-1zM394 81h1v1h-1zM403 103h1v1h-1zM403 109h1v1h-1zM406 102h1v1h-1zM400 69h1v1h-1zM409 92h1v1h-1zM404 72h1v1h-1zM387 79h1v1h-1zM387 85h1v1h-1zM396 76h1v1h-1zM419 113h1v1h-1zM421 112h1v1h-1zM381 86h1v1h-1zM419 116h1v1h-1zM399 62h1v1h-1zM403 116h1v1h-1zM434 107h1v1h-1zM437 108h1v1h-1zM404 107h1v1h-1zM408 115h1v1h-1zM388 79h1v1h-1zM392 79h1v1h-1zM382 85h1v1h-1zM430 111h1v1h-1zM391 82h1v1h-1zM406 74h1v1h-1zM411 86h1v1h-1zM406 103h1v1h-1zM404 105h1v1h-1zM412 90h1v1h-1zM388 85h1v1h-1zM426 112h1v1h-1zM391 79h1v1h-1zM402 70h1v1h-1zM407 76h1v1h-1zM406 78h1v1h-1zM406 105h1v1h-1zM402 106h1v1h-1zM389 82h1v1h-1zM412 114h1v1h-1zM407 80h1v1h-1zM400 60h1v1h-1zM402 111h1v1h-1zM382 81h1v1h-1zM410 86h1v1h-1zM398 77h1v1h-1zM412 93h1v1h-1zM411 89h1v1h-1zM398 63h1v1h-1zM407 82h1v1h-1zM400 71h1v1h-1zM403 71h1v1h-1zM426 111h1v1h-1zM392 80h1v1h-1zM437 106h1v1h-1zM391 78h1v1h-1zM398 60h1v1h-1zM402 108h1v1h-1zM386 86h1v1h-1zM403 72h1v1h-1zM409 96h1v1h-1zM425 110h1v1h-1zM405 74h1v1h-1zM403 75h1v1h-1zM404 110h1v1h-1zM422 114h1v1h-1zM409 99h1v1h-1zM388 80h1v1h-1zM407 100h1v1h-1zM409 83h1v1h-1zM431 109h1v1h-1zM413 113h1v1h-1zM430 108h1v1h-1zM415 114h1v1h-1zM395 78h1v1h-1zM381 88h1v1h-1zM400 111h1v1h-1zM414 115h1v1h-1zM405 103h1v1h-1zM437 101h1v1h-1zM437 97h1v1h-1zM420 67h1v1h-1zM403 59h1v1h-1zM418 66h1v1h-1zM422 69h1v1h-1zM434 87h1v1h-1zM408 58h1v1h-1zM411 59h1v1h-1zM425 72h1v1h-1zM432 80h1v1h-1zM429 77h1v1h-1zM419 67h1v1h-1zM413 62h1v1h-1zM433 82h1v1h-1zM404 58h1v1h-1zM437 104h1v1h-1z" fill="#CE842F" shape-rendering="crispEdges"/>
<path d="M349 83h1v1h-1zM350 83h1v1h-1zM352 71h1v1h-1zM353 60h1v1h-1zM350 77h1v1h-1zM351 83h1v1h-1zM350 84h1v1h-1zM351 63h1v1h-1zM353 58h1v1h-1zM352 64h1v1h-1zM349 74h1v1h-1zM349 77h1v1h-1zM349 75h1v1h-1zM350 68h1v1h-1zM352 61h1v1h-1zM350 72h1v1h-1zM351 75h1v1h-1zM351 72h1v1h-1zM349 69h1v1h-1zM351 77h1v1h-1zM350 64h1v1h-1zM353 65h1v1h-1zM352 62h1v1h-1zM352 63h1v1h-1zM352 60h1v1h-1zM353 61h1v1h-1zM350 67h1v1h-1zM350 75h1v1h-1zM351 69h1v1h-1zM349 78h1v1h-1zM350 69h1v1h-1zM349 76h1v1h-1zM350 66h1v1h-1zM351 68h1v1h-1zM350 78h1v1h-1zM350 82h1v1h-1zM350 63h1v1h-1zM351 62h1v1h-1zM350 85h1v1h-1zM349 64h1v1h-1zM351 73h1v1h-1zM350 74h1v1h-1zM353 67h1v1h-1zM349 71h1v1h-1zM352 68h1v1h-1zM349 73h1v1h-1zM351 79h1v1h-1zM352 75h1v1h-1zM349 70h1v1h-1zM350 81h1v1h-1zM349 72h1v1h-1zM316 93h1v1h-1zM316 82h1v1h-1zM346 60h1v1h-1zM317 88h1v1h-1zM325 98h1v1h-1zM316 86h1v1h-1zM326 70h1v1h-1zM337 89h1v1h-1zM340 62h1v1h-1zM346 86h1v1h-1zM326 97h1v1h-1zM331 94h1v1h-1zM314 98h1v1h-1zM335 91h1v1h-1zM349 59h1v1h-1zM316 91h1v1h-1zM314 100h1v1h-1zM321 75h1v1h-1zM317 83h1v1h-1zM337 64h1v1h-1zM331 65h1v1h-1zM330 93h1v1h-1zM337 90h1v1h-1zM345 60h1v1h-1zM316 85h1v1h-1zM331 93h1v1h-1zM316 95h1v1h-1zM332 65h1v1h-1zM317 87h1v1h-1z" fill="#58A2D0" shape-rendering="crispEdges"/>
<g filter="url(#rough)">
<path d="M461.8,18.6 L457.2,17.1 L452.5,16.9 L445.4,18.5 L442.8,20.4 L441.2,24.5 L441.2,34.6 L440.0,38.0 L440.1,44.4 L441.2,48.1 L442.0,48.1 L442.4,46.1 L444.1,44.1 L444.5,41.6 L444.1,36.9 L445.4,35.0 L447.2,34.2 L451.4,34.1 L453.9,32.2 L461.8,29.2 L463.5,22.4 L463.1,20.1Z" fill="#52AE78" stroke="#52AE78" stroke-width="0.35" fill-rule="evenodd"/>
<path d="M453.9,32.4 L452.2,33.6 L451.6,35.0 L452.8,38.6 L452.9,43.1 L452.4,45.2 L451.8,45.8 L448.5,45.0 L445.9,45.6 L443.8,45.4 L442.5,46.1 L442.4,47.6 L443.5,48.6 L448.1,50.4 L454.5,51.8 L458.6,57.1 L461.2,59.1 L464.9,59.5 L468.5,58.0 L471.8,55.1 L473.0,52.5 L473.1,49.2 L471.9,45.9 L467.4,40.0 L463.1,37.2 L461.8,31.2 L458.8,32.6Z" fill="#4FB3AC" stroke="#4FB3AC" stroke-width="0.35" fill-rule="evenodd"/>
</g>
<path d="M454 33h1v1h-1zM451 34h1v1h-1zM455 32h1v1h-1zM456 33h1v1h-1zM453 34h1v1h-1zM443 46h1v1h-1zM444 46h1v1h-1zM443 45h1v1h-1zM454 32h1v1h-1zM455 33h1v1h-1zM442 47h1v1h-1zM452 34h1v1h-1zM456 34h1v1h-1zM453 33h1v1h-1zM460 32h1v1h-1zM442 46h1v1h-1zM453 32h1v1h-1zM444 48h1v1h-1zM456 32h1v1h-1zM461 32h1v1h-1zM457 33h1v1h-1zM443 47h1v1h-1zM444 44h1v1h-1zM439 41h1v1h-1zM442 49h1v1h-1zM445 35h1v1h-1zM441 21h1v1h-1zM441 22h1v1h-1zM462 29h1v1h-1zM462 26h1v1h-1zM444 41h1v1h-1zM463 22h1v1h-1zM461 17h1v1h-1zM439 36h1v1h-1zM439 42h1v1h-1zM440 36h1v1h-1zM453 16h1v1h-1zM440 44h1v1h-1zM439 44h1v1h-1zM446 35h1v1h-1zM447 35h1v1h-1zM439 39h1v1h-1zM439 40h1v1h-1zM462 19h1v1h-1zM457 31h1v1h-1zM459 17h1v1h-1zM450 34h1v1h-1zM463 19h1v1h-1zM463 26h1v1h-1zM439 47h1v1h-1zM440 22h1v1h-1zM438 42h1v1h-1zM440 47h1v1h-1zM460 16h1v1h-1zM440 46h1v1h-1zM461 18h1v1h-1zM447 16h1v1h-1zM445 36h1v1h-1zM439 38h1v1h-1zM445 39h1v1h-1zM441 23h1v1h-1zM446 18h1v1h-1z" fill="#52AE78" shape-rendering="crispEdges"/>
<path d="M450 33h1v1h-1zM443 44h1v1h-1zM440 44h1v1h-1zM457 30h1v1h-1zM442 44h1v1h-1zM451 30h1v1h-1zM442 45h1v1h-1zM460 29h1v1h-1zM441 48h1v1h-1zM456 30h1v1h-1zM442 47h1v1h-1zM461 29h1v1h-1zM454 30h1v1h-1zM442 43h1v1h-1zM455 31h1v1h-1zM456 31h1v1h-1zM441 45h1v1h-1zM458 30h1v1h-1zM443 42h1v1h-1zM451 32h1v1h-1zM453 32h1v1h-1zM461 28h1v1h-1zM440 45h1v1h-1zM451 33h1v1h-1zM455 30h1v1h-1zM453 30h1v1h-1zM452 32h1v1h-1zM441 44h1v1h-1zM454 31h1v1h-1zM442 46h1v1h-1zM452 33h1v1h-1zM444 43h1v1h-1zM451 34h1v1h-1zM449 33h1v1h-1zM441 47h1v1h-1zM443 43h1v1h-1zM471 44h1v1h-1zM473 54h1v1h-1zM457 55h1v1h-1zM458 57h1v1h-1zM460 31h1v1h-1zM473 46h1v1h-1zM472 44h1v1h-1zM462 31h1v1h-1zM452 52h1v1h-1zM447 50h1v1h-1zM452 44h1v1h-1zM462 33h1v1h-1zM443 49h1v1h-1zM473 49h1v1h-1zM450 45h1v1h-1zM464 60h1v1h-1zM468 41h1v1h-1zM452 41h1v1h-1zM470 56h1v1h-1zM473 50h1v1h-1zM454 51h1v1h-1zM451 45h1v1h-1zM451 51h1v1h-1zM443 48h1v1h-1zM463 37h1v1h-1zM469 58h1v1h-1zM471 56h1v1h-1zM451 36h1v1h-1zM463 34h1v1h-1zM452 43h1v1h-1zM446 50h1v1h-1zM457 56h1v1h-1zM468 58h1v1h-1zM450 51h1v1h-1zM449 51h1v1h-1zM460 59h1v1h-1zM468 39h1v1h-1zM452 39h1v1h-1zM459 58h1v1h-1zM473 47h1v1h-1zM470 43h1v1h-1zM463 36h1v1h-1zM473 52h1v1h-1zM452 42h1v1h-1zM474 51h1v1h-1z" fill="#4FB3AC" shape-rendering="crispEdges"/>
<g filter="url(#rough)">
<path d="M443.6,155.0 L437.0,159.6 L435.4,160.2 L430.6,160.5 L427.4,163.2 L425.4,166.5 L424.8,169.2 L424.9,172.0 L426.1,173.8 L428.1,174.6 L432.0,174.0 L434.6,172.5 L436.6,170.5 L442.4,161.4 L445.6,158.1 L443.9,156.2Z" fill="#B478A8" stroke="#B478A8" stroke-width="0.35" fill-rule="evenodd"/>
<path d="M455.0,140.9 L453.1,142.8 L450.9,148.4 L444.1,154.8 L444.0,156.2 L444.9,157.2 L446.1,157.6 L449.2,155.2 L455.8,154.4 L456.0,157.5 L455.6,158.2 L454.4,159.1 L451.8,159.8 L451.1,160.9 L454.6,163.6 L455.2,168.1 L456.6,171.6 L459.0,174.2 L463.0,176.5 L465.1,177.0 L469.4,176.5 L472.1,175.1 L474.4,173.0 L477.2,168.4 L477.9,162.6 L476.6,157.1 L474.1,152.8 L469.4,149.8 L470.8,147.8 L469.9,146.1 L463.4,141.8 L458.4,140.6Z" fill="#8E88B8" stroke="#8E88B8" stroke-width="0.35" fill-rule="evenodd"/>
</g>
<path d="M445 153h1v1h-1zM451 153h1v1h-1zM449 154h1v1h-1zM447 154h1v1h-1zM446 157h1v1h-1zM447 156h1v1h-1zM444 155h1v1h-1zM445 155h1v1h-1zM446 156h1v1h-1zM446 155h1v1h-1zM444 156h1v1h-1zM445 157h1v1h-1zM449 155h1v1h-1zM445 154h1v1h-1zM450 154h1v1h-1zM444 157h1v1h-1zM450 155h1v1h-1zM434 160h1v1h-1zM440 156h1v1h-1zM437 157h1v1h-1zM449 157h1v1h-1zM428 161h1v1h-1zM440 157h1v1h-1zM434 159h1v1h-1zM426 162h1v1h-1zM439 157h1v1h-1zM424 167h1v1h-1zM445 158h1v1h-1zM441 164h1v1h-1zM440 165h1v1h-1zM442 155h1v1h-1zM435 172h1v1h-1zM432 159h1v1h-1zM442 162h1v1h-1zM443 161h1v1h-1zM439 167h1v1h-1zM434 173h1v1h-1zM425 174h1v1h-1zM447 157h1v1h-1zM436 172h1v1h-1zM437 171h1v1h-1zM442 163h1v1h-1zM441 163h1v1h-1zM441 156h1v1h-1zM435 160h1v1h-1zM429 175h1v1h-1zM433 160h1v1h-1z" fill="#B478A8" shape-rendering="crispEdges"/>
<path d="M443 155h1v1h-1zM443 157h1v1h-1zM445 157h1v1h-1zM443 154h1v1h-1zM443 158h1v1h-1zM448 156h1v1h-1zM442 157h1v1h-1zM450 155h1v1h-1zM475 154h1v1h-1zM463 141h1v1h-1zM452 143h1v1h-1zM444 154h1v1h-1zM477 169h1v1h-1zM470 146h1v1h-1zM470 145h1v1h-1zM456 172h1v1h-1zM477 158h1v1h-1zM454 165h1v1h-1zM468 144h1v1h-1zM460 141h1v1h-1zM450 145h1v1h-1zM453 141h1v1h-1zM452 155h1v1h-1zM451 159h1v1h-1zM462 141h1v1h-1zM477 161h1v1h-1zM457 139h1v1h-1zM447 151h1v1h-1zM469 144h1v1h-1zM469 145h1v1h-1zM453 140h1v1h-1zM453 163h1v1h-1zM445 153h1v1h-1zM473 174h1v1h-1zM463 178h1v1h-1zM470 149h1v1h-1zM451 161h1v1h-1zM449 150h1v1h-1zM446 152h1v1h-1zM454 155h1v1h-1zM455 155h1v1h-1zM469 176h1v1h-1zM471 149h1v1h-1zM474 173h1v1h-1zM455 157h1v1h-1zM452 162h1v1h-1zM467 144h1v1h-1zM466 177h1v1h-1zM454 156h1v1h-1zM471 148h1v1h-1zM476 170h1v1h-1zM448 150h1v1h-1zM469 177h1v1h-1zM465 177h1v1h-1zM463 177h1v1h-1zM474 152h1v1h-1z" fill="#8E88B8" shape-rendering="crispEdges"/>
<circle cx="472.60" cy="146.80" r="1.50" fill="#E0609A"/>
<circle cx="409.50" cy="156.00" r="1.20" fill="#E0609A"/>
<circle cx="411.50" cy="155.60" r="0.90" fill="#E0609A"/>
<path d="M381 72h1v1h-1zM393 68h1v1h-1zM393 74h1v1h-1zM376 64h1v1h-1zM390 74h1v1h-1zM372 66h1v1h-1zM386 65h1v1h-1zM395 72h1v1h-1zM396 72h1v1h-1zM395 71h1v1h-1zM388 69h1v1h-1zM386 68h1v1h-1zM383 65h1v1h-1zM378 65h1v1h-1zM379 68h1v1h-1zM376 69h1v1h-1zM377 65h1v1h-1zM384 65h1v1h-1zM393 69h1v1h-1zM385 66h1v1h-1zM373 66h1v1h-1zM396 73h1v1h-1zM392 70h1v1h-1zM375 70h1v1h-1zM393 72h1v1h-1zM385 70h1v1h-1zM377 71h1v1h-1zM375 67h1v1h-1zM375 68h1v1h-1zM387 69h1v1h-1zM389 66h1v1h-1zM380 64h1v1h-1zM373 67h1v1h-1zM385 68h1v1h-1zM394 70h1v1h-1zM380 68h1v1h-1zM379 67h1v1h-1zM391 70h1v1h-1zM388 71h1v1h-1zM397 70h1v1h-1zM396 70h1v1h-1zM380 69h1v1h-1zM389 68h1v1h-1zM392 74h1v1h-1zM374 67h1v1h-1zM386 73h1v1h-1zM387 73h1v1h-1zM397 71h1v1h-1zM382 67h1v1h-1zM375 66h1v1h-1zM388 68h1v1h-1zM392 73h1v1h-1zM395 73h1v1h-1zM388 74h1v1h-1zM391 71h1v1h-1zM381 67h1v1h-1zM377 67h1v1h-1zM392 67h1v1h-1zM380 71h1v1h-1zM388 65h1v1h-1zM389 67h1v1h-1zM390 68h1v1h-1zM387 70h1v1h-1zM381 63h1v1h-1zM384 69h1v1h-1zM394 72h1v1h-1z" fill="#fefefe" shape-rendering="crispEdges"/>
<path d="M352 85h1v1h-1zM351 86h1v1h-1zM351 83h1v1h-1zM351 85h1v1h-1zM354 85h1v1h-1zM352 84h1v1h-1zM353 84h1v1h-1zM349 86h1v1h-1zM353 86h1v1h-1zM348 84h1v1h-1zM354 84h1v1h-1z" fill="#fefefe" shape-rendering="crispEdges"/>
<path d="M397 119h1v1h-1zM397 121h1v1h-1zM399 120h1v1h-1zM397 120h1v1h-1zM398 121h1v1h-1zM399 119h1v1h-1zM395 118h1v1h-1zM395 121h1v1h-1zM397 118h1v1h-1zM399 118h1v1h-1zM398 120h1v1h-1zM396 120h1v1h-1zM397 122h1v1h-1z" fill="#fefefe" shape-rendering="crispEdges"/>
<path d="M446 37h1v1h-1zM445 42h1v1h-1zM447 39h1v1h-1zM447 42h1v1h-1zM446 41h1v1h-1z" fill="#fefefe" shape-rendering="crispEdges"/>
<text x="331.70" y="84.60" font-size="5.6" fill="#1a1a1a" text-anchor="middle" >NK cell</text>
<text x="361.80" y="70.10" font-size="5.6" fill="#1a1a1a" text-anchor="middle" >CD8T cell</text>
<text x="411.00" y="97.50" font-size="5.6" fill="#1a1a1a" text-anchor="middle" >CD4T cellNaive CD4T cell</text>
<text x="415.80" y="123.90" font-size="5.6" fill="#1a1a1a" text-anchor="middle" >Naive CD8T cell</text>
<text x="451.20" y="27.40" font-size="5.6" fill="#1a1a1a" text-anchor="middle" >Naive B cell</text>
<text x="462.70" y="50.90" font-size="5.6" fill="#1a1a1a" text-anchor="middle" >B cell</text>
<text x="409.90" y="159.30" font-size="5.6" fill="#1a1a1a" text-anchor="middle" >Progenitor cell</text>
<text x="433.00" y="169.30" font-size="5.6" fill="#1a1a1a" text-anchor="middle" >Dendritic cell</text>
<text x="466.00" y="160.20" font-size="5.6" fill="#1a1a1a" text-anchor="middle" >Monocytes</text>
<circle cx="495.80" cy="66.00" r="1.75" fill="#EC736A"/>
<text x="502.60" y="68.00" font-size="5.6" fill="#222" text-anchor="start" >CD4T cell</text>
<circle cx="495.80" cy="73.13" r="1.75" fill="#CE842F"/>
<text x="502.60" y="75.13" font-size="5.6" fill="#222" text-anchor="start" >Naive CD4T cell</text>
<circle cx="495.80" cy="80.26" r="1.75" fill="#9A9A38"/>
<text x="502.60" y="82.26" font-size="5.6" fill="#222" text-anchor="start" >Naive CD8T cell</text>
<circle cx="495.80" cy="87.39" r="1.75" fill="#55AA3E"/>
<text x="502.60" y="89.39" font-size="5.6" fill="#222" text-anchor="start" >CD8T cell</text>
<circle cx="495.80" cy="94.52" r="1.75" fill="#52AE78"/>
<text x="502.60" y="96.52" font-size="5.6" fill="#222" text-anchor="start" >Naive B cell</text>
<circle cx="495.80" cy="101.65" r="1.75" fill="#4FB3AC"/>
<text x="502.60" y="103.65" font-size="5.6" fill="#222" text-anchor="start" >B cell</text>
<circle cx="495.80" cy="108.78" r="1.75" fill="#58A2D0"/>
<text x="502.60" y="110.78" font-size="5.6" fill="#222" text-anchor="start" >NK cell</text>
<circle cx="495.80" cy="115.91" r="1.75" fill="#8E88B8"/>
<text x="502.60" y="117.91" font-size="5.6" fill="#222" text-anchor="start" >Monocytes</text>
<circle cx="495.80" cy="123.04" r="1.75" fill="#B478A8"/>
<text x="502.60" y="125.04" font-size="5.6" fill="#222" text-anchor="start" >Dendritic cell</text>
<circle cx="495.80" cy="130.17" r="1.75" fill="#E0609A"/>
<text x="502.60" y="132.17" font-size="5.6" fill="#222" text-anchor="start" >Progenitor cell</text>
<line x1="52.80" y1="235.30" x2="272.30" y2="235.30" stroke="#4d4d4d" stroke-width="0.9" />
<line x1="52.80" y1="235.30" x2="52.80" y2="378.00" stroke="#4d4d4d" stroke-width="0.9" />
<line x1="52.80" y1="378.00" x2="272.30" y2="378.00" stroke="#4d4d4d" stroke-width="0.9" />
<line x1="51.20" y1="243.60" x2="52.80" y2="243.60" stroke="#4d4d4d" stroke-width="0.7" />
<text x="50.60" y="245.20" font-size="4.5" fill="#333" text-anchor="end" >Progenitor cell</text>
<circle cx="60.70" cy="243.60" r="2.20" fill="#A9C8DC"/>
<circle cx="74.30" cy="243.60" r="2.20" fill="#B5D1DF"/>
<circle cx="87.90" cy="243.60" r="2.30" fill="#7EA5C8"/>
<circle cx="101.50" cy="243.60" r="1.90" fill="#A9C8DC"/>
<circle cx="115.10" cy="243.60" r="1.00" fill="#7FA5C8"/>
<circle cx="128.70" cy="243.60" r="1.00" fill="#7FA5C8"/>
<circle cx="142.30" cy="243.60" r="0.60" fill="#B8CFE0"/>
<circle cx="155.90" cy="243.60" r="1.00" fill="#7FA5C8"/>
<circle cx="169.50" cy="243.60" r="1.00" fill="#8DB0CD"/>
<circle cx="183.10" cy="243.60" r="0.60" fill="#7FA5C8"/>
<circle cx="196.70" cy="243.60" r="1.70" fill="#A9C8DC"/>
<circle cx="210.30" cy="243.60" r="2.50" fill="#E4EED6"/>
<circle cx="223.90" cy="243.60" r="1.80" fill="#E2EED8"/>
<circle cx="237.50" cy="243.60" r="3.40" fill="#F3F2C2"/>
<circle cx="251.10" cy="243.60" r="0.60" fill="#7FA5C8"/>
<circle cx="264.70" cy="243.60" r="3.20" fill="#CF3A2E"/>
<line x1="51.20" y1="257.53" x2="52.80" y2="257.53" stroke="#4d4d4d" stroke-width="0.7" />
<text x="50.60" y="259.13" font-size="4.5" fill="#333" text-anchor="end" >Dendritic cell</text>
<circle cx="60.70" cy="257.53" r="1.60" fill="#5B7DB8"/>
<circle cx="74.30" cy="257.53" r="1.60" fill="#6F92C0"/>
<circle cx="87.90" cy="257.53" r="2.20" fill="#43589F"/>
<circle cx="101.50" cy="257.53" r="1.10" fill="#7FA5C8"/>
<circle cx="115.10" cy="257.53" r="1.00" fill="#7FA5C8"/>
<circle cx="128.70" cy="257.53" r="1.00" fill="#7FA5C8"/>
<circle cx="142.30" cy="257.53" r="0.60" fill="#B8CFE0"/>
<circle cx="155.90" cy="257.53" r="0.80" fill="#7FA5C8"/>
<circle cx="169.50" cy="257.53" r="1.00" fill="#8DB0CD"/>
<circle cx="183.10" cy="257.53" r="0.60" fill="#7FA5C8"/>
<circle cx="196.70" cy="257.53" r="1.90" fill="#A9C8DC"/>
<circle cx="210.30" cy="257.53" r="3.80" fill="#D9E9E8"/>
<circle cx="223.90" cy="257.53" r="2.30" fill="#D0E4E8"/>
<circle cx="237.50" cy="257.53" r="4.00" fill="#E8654A"/>
<circle cx="251.10" cy="257.53" r="2.00" fill="#C8302A"/>
<circle cx="264.70" cy="257.53" r="0.40" fill="#7FA5C8"/>
<line x1="51.20" y1="271.46" x2="52.80" y2="271.46" stroke="#4d4d4d" stroke-width="0.7" />
<text x="50.60" y="273.06" font-size="4.5" fill="#333" text-anchor="end" >Monocytes</text>
<circle cx="60.70" cy="271.46" r="1.50" fill="#5B7DB8"/>
<circle cx="74.30" cy="271.46" r="1.60" fill="#6F92C0"/>
<circle cx="87.90" cy="271.46" r="3.10" fill="#DAEAE6"/>
<circle cx="101.50" cy="271.46" r="1.10" fill="#7FA5C8"/>
<circle cx="115.10" cy="271.46" r="1.00" fill="#7FA5C8"/>
<circle cx="128.70" cy="271.46" r="1.00" fill="#7FA5C8"/>
<circle cx="142.30" cy="271.46" r="0.60" fill="#B8CFE0"/>
<circle cx="155.90" cy="271.46" r="0.80" fill="#7FA5C8"/>
<circle cx="169.50" cy="271.46" r="1.00" fill="#8DB0CD"/>
<circle cx="183.10" cy="271.46" r="0.60" fill="#7FA5C8"/>
<circle cx="196.70" cy="271.46" r="1.80" fill="#A9C8DC"/>
<circle cx="210.30" cy="271.46" r="4.20" fill="#CF3A2E"/>
<circle cx="223.90" cy="271.46" r="4.00" fill="#CF3A2E"/>
<circle cx="237.50" cy="271.46" r="4.00" fill="#F7A870"/>
<circle cx="251.10" cy="271.46" r="0.60" fill="#7FA5C8"/>
<circle cx="264.70" cy="271.46" r="0.40" fill="#7FA5C8"/>
<line x1="51.20" y1="285.39" x2="52.80" y2="285.39" stroke="#4d4d4d" stroke-width="0.7" />
<text x="50.60" y="286.99" font-size="4.5" fill="#333" text-anchor="end" >NK cell</text>
<circle cx="60.70" cy="285.39" r="3.10" fill="#E2EED8"/>
<circle cx="74.30" cy="285.39" r="1.70" fill="#7FA5C8"/>
<circle cx="87.90" cy="285.39" r="2.30" fill="#88AECB"/>
<circle cx="101.50" cy="285.39" r="1.20" fill="#5B7DB8"/>
<circle cx="115.10" cy="285.39" r="1.90" fill="#C6DDE5"/>
<circle cx="128.70" cy="285.39" r="1.10" fill="#7FA5C8"/>
<circle cx="142.30" cy="285.39" r="0.60" fill="#B8CFE0"/>
<circle cx="155.90" cy="285.39" r="0.80" fill="#7FA5C8"/>
<circle cx="169.50" cy="285.39" r="1.00" fill="#8DB0CD"/>
<circle cx="183.10" cy="285.39" r="4.00" fill="#CF3A2E"/>
<circle cx="196.70" cy="285.39" r="4.00" fill="#CF3A2E"/>
<circle cx="210.30" cy="285.39" r="1.80" fill="#A9C8DC"/>
<circle cx="223.90" cy="285.39" r="0.80" fill="#7FA5C8"/>
<circle cx="237.50" cy="285.39" r="1.80" fill="#8DB0CD"/>
<circle cx="251.10" cy="285.39" r="0.50" fill="#7FA5C8"/>
<circle cx="264.70" cy="285.39" r="0.40" fill="#7FA5C8"/>
<line x1="51.20" y1="299.32" x2="52.80" y2="299.32" stroke="#4d4d4d" stroke-width="0.7" />
<text x="50.60" y="300.92" font-size="4.5" fill="#333" text-anchor="end" >B cell</text>
<circle cx="60.70" cy="299.32" r="1.50" fill="#5B7DB8"/>
<circle cx="74.30" cy="299.32" r="1.50" fill="#6F92C0"/>
<circle cx="87.90" cy="299.32" r="3.10" fill="#EEF0C0"/>
<circle cx="101.50" cy="299.32" r="2.40" fill="#B8D3E0"/>
<circle cx="115.10" cy="299.32" r="0.70" fill="#7FA5C8"/>
<circle cx="128.70" cy="299.32" r="0.60" fill="#7FA5C8"/>
<circle cx="142.30" cy="299.32" r="1.30" fill="#C6DDE5"/>
<circle cx="155.90" cy="299.32" r="4.10" fill="#EE7D50"/>
<circle cx="169.50" cy="299.32" r="4.10" fill="#F29060"/>
<circle cx="183.10" cy="299.32" r="0.70" fill="#7FA5C8"/>
<circle cx="196.70" cy="299.32" r="1.90" fill="#A0BFD5"/>
<circle cx="210.30" cy="299.32" r="1.80" fill="#A9C8DC"/>
<circle cx="223.90" cy="299.32" r="0.60" fill="#7FA5C8"/>
<circle cx="237.50" cy="299.32" r="1.30" fill="#7FA5C8"/>
<circle cx="251.10" cy="299.32" r="0.50" fill="#C8D8E0"/>
<circle cx="264.70" cy="299.32" r="0.30" fill="#7FA5C8"/>
<line x1="51.20" y1="313.25" x2="52.80" y2="313.25" stroke="#4d4d4d" stroke-width="0.7" />
<text x="50.60" y="314.85" font-size="4.5" fill="#333" text-anchor="end" >Naive B cell</text>
<circle cx="60.70" cy="313.25" r="1.30" fill="#5B7DB8"/>
<circle cx="74.30" cy="313.25" r="1.40" fill="#6F92C0"/>
<circle cx="87.90" cy="313.25" r="3.60" fill="#EF8552"/>
<circle cx="101.50" cy="313.25" r="3.00" fill="#F0F0C0"/>
<circle cx="115.10" cy="313.25" r="0.60" fill="#7FA5C8"/>
<circle cx="128.70" cy="313.25" r="0.60" fill="#7FA5C8"/>
<circle cx="142.30" cy="313.25" r="4.10" fill="#CF3A2E"/>
<circle cx="155.90" cy="313.25" r="4.10" fill="#EE7D50"/>
<circle cx="169.50" cy="313.25" r="4.20" fill="#E5603F"/>
<circle cx="183.10" cy="313.25" r="0.70" fill="#7FA5C8"/>
<circle cx="196.70" cy="313.25" r="1.90" fill="#A0BFD5"/>
<circle cx="210.30" cy="313.25" r="1.80" fill="#A9C8DC"/>
<circle cx="223.90" cy="313.25" r="0.60" fill="#7FA5C8"/>
<circle cx="237.50" cy="313.25" r="1.30" fill="#7FA5C8"/>
<circle cx="251.10" cy="313.25" r="0.50" fill="#E0EAD0"/>
<circle cx="264.70" cy="313.25" r="0.30" fill="#7FA5C8"/>
<line x1="51.20" y1="327.18" x2="52.80" y2="327.18" stroke="#4d4d4d" stroke-width="0.7" />
<text x="50.60" y="328.78" font-size="4.5" fill="#333" text-anchor="end" >CD8T cell</text>
<circle cx="60.70" cy="327.18" r="4.00" fill="#FBC67D"/>
<circle cx="74.30" cy="327.18" r="3.00" fill="#D9E9E9"/>
<circle cx="87.90" cy="327.18" r="1.90" fill="#4A66AC"/>
<circle cx="101.50" cy="327.18" r="1.10" fill="#5B7DB8"/>
<circle cx="115.10" cy="327.18" r="3.50" fill="#CF3A2E"/>
<circle cx="128.70" cy="327.18" r="3.20" fill="#EE7D50"/>
<circle cx="142.30" cy="327.18" r="0.40" fill="#7FA5C8"/>
<circle cx="155.90" cy="327.18" r="0.80" fill="#7FA5C8"/>
<circle cx="169.50" cy="327.18" r="0.80" fill="#8DB0CD"/>
<circle cx="183.10" cy="327.18" r="1.80" fill="#D8E8E5"/>
<circle cx="196.70" cy="327.18" r="3.40" fill="#FAF0A5"/>
<circle cx="210.30" cy="327.18" r="1.80" fill="#A9C8DC"/>
<circle cx="223.90" cy="327.18" r="0.60" fill="#7FA5C8"/>
<circle cx="237.50" cy="327.18" r="1.80" fill="#8DB0CD"/>
<circle cx="251.10" cy="327.18" r="0.40" fill="#7FA5C8"/>
<circle cx="264.70" cy="327.18" r="0.30" fill="#7FA5C8"/>
<line x1="51.20" y1="341.11" x2="52.80" y2="341.11" stroke="#4d4d4d" stroke-width="0.7" />
<text x="50.60" y="342.71" font-size="4.5" fill="#333" text-anchor="end" >Naive CD8T cell</text>
<circle cx="60.70" cy="341.11" r="4.00" fill="#FBC67D"/>
<circle cx="74.30" cy="341.11" r="4.00" fill="#FEE490"/>
<circle cx="87.90" cy="341.11" r="3.70" fill="#FEE28E"/>
<circle cx="101.50" cy="341.11" r="4.00" fill="#EF8052"/>
<circle cx="115.10" cy="341.11" r="3.00" fill="#FEF2A0"/>
<circle cx="128.70" cy="341.11" r="3.30" fill="#EE7D50"/>
<circle cx="142.30" cy="341.11" r="0.40" fill="#7FA5C8"/>
<circle cx="155.90" cy="341.11" r="0.80" fill="#7FA5C8"/>
<circle cx="169.50" cy="341.11" r="1.80" fill="#A0BFD5"/>
<circle cx="183.10" cy="341.11" r="0.60" fill="#7FA5C8"/>
<circle cx="196.70" cy="341.11" r="2.00" fill="#A9C8DC"/>
<circle cx="210.30" cy="341.11" r="1.90" fill="#A9C8DC"/>
<circle cx="223.90" cy="341.11" r="0.60" fill="#7FA5C8"/>
<circle cx="237.50" cy="341.11" r="1.50" fill="#8DB0CD"/>
<circle cx="251.10" cy="341.11" r="0.40" fill="#7FA5C8"/>
<circle cx="264.70" cy="341.11" r="0.30" fill="#7FA5C8"/>
<line x1="51.20" y1="355.04" x2="52.80" y2="355.04" stroke="#4d4d4d" stroke-width="0.7" />
<text x="50.60" y="356.64" font-size="4.5" fill="#333" text-anchor="end" >Naive CD4T cell</text>
<circle cx="60.70" cy="355.04" r="3.70" fill="#FEDB8A"/>
<circle cx="74.30" cy="355.04" r="4.00" fill="#FCCB80"/>
<circle cx="87.90" cy="355.04" r="3.40" fill="#FDD38A"/>
<circle cx="101.50" cy="355.04" r="3.50" fill="#EF8252"/>
<circle cx="115.10" cy="355.04" r="1.10" fill="#90B5CF"/>
<circle cx="128.70" cy="355.04" r="1.10" fill="#A0BDD3"/>
<circle cx="142.30" cy="355.04" r="0.40" fill="#7FA5C8"/>
<circle cx="155.90" cy="355.04" r="0.80" fill="#7FA5C8"/>
<circle cx="169.50" cy="355.04" r="1.30" fill="#8DB0CD"/>
<circle cx="183.10" cy="355.04" r="0.60" fill="#7FA5C8"/>
<circle cx="196.70" cy="355.04" r="2.00" fill="#A9C8DC"/>
<circle cx="210.30" cy="355.04" r="1.80" fill="#A9C8DC"/>
<circle cx="223.90" cy="355.04" r="0.60" fill="#7FA5C8"/>
<circle cx="237.50" cy="355.04" r="1.50" fill="#8DB0CD"/>
<circle cx="251.10" cy="355.04" r="0.40" fill="#7FA5C8"/>
<circle cx="264.70" cy="355.04" r="0.30" fill="#7FA5C8"/>
<line x1="51.20" y1="368.97" x2="52.80" y2="368.97" stroke="#4d4d4d" stroke-width="0.7" />
<text x="50.60" y="370.57" font-size="4.5" fill="#333" text-anchor="end" >CD4T cell</text>
<circle cx="60.70" cy="368.97" r="3.90" fill="#FEDD8C"/>
<circle cx="74.30" cy="368.97" r="4.10" fill="#E5603F"/>
<circle cx="87.90" cy="368.97" r="2.90" fill="#BED6E2"/>
<circle cx="101.50" cy="368.97" r="2.70" fill="#C7DFE5"/>
<circle cx="115.10" cy="368.97" r="1.50" fill="#A9C8DC"/>
<circle cx="128.70" cy="368.97" r="1.30" fill="#A9C8DC"/>
<circle cx="142.30" cy="368.97" r="0.40" fill="#7FA5C8"/>
<circle cx="155.90" cy="368.97" r="0.90" fill="#7FA5C8"/>
<circle cx="169.50" cy="368.97" r="1.00" fill="#8DB0CD"/>
<circle cx="183.10" cy="368.97" r="0.60" fill="#7FA5C8"/>
<circle cx="196.70" cy="368.97" r="2.10" fill="#B0CEDC"/>
<circle cx="210.30" cy="368.97" r="1.70" fill="#A9C8DC"/>
<circle cx="223.90" cy="368.97" r="0.60" fill="#7FA5C8"/>
<circle cx="237.50" cy="368.97" r="1.50" fill="#8DB0CD"/>
<circle cx="251.10" cy="368.97" r="0.40" fill="#7FA5C8"/>
<circle cx="264.70" cy="368.97" r="0.30" fill="#7FA5C8"/>
<line x1="60.70" y1="378.00" x2="60.70" y2="379.60" stroke="#4d4d4d" stroke-width="0.7" />
<text x="62.20" y="382.50" font-size="4.5" fill="#333" text-anchor="end" transform="rotate(-45 62.20 382.50)" >CD3E</text>
<line x1="74.30" y1="378.00" x2="74.30" y2="379.60" stroke="#4d4d4d" stroke-width="0.7" />
<text x="75.80" y="382.50" font-size="4.5" fill="#333" text-anchor="end" transform="rotate(-45 75.80 382.50)" >IL7R</text>
<line x1="87.90" y1="378.00" x2="87.90" y2="379.60" stroke="#4d4d4d" stroke-width="0.7" />
<text x="89.40" y="382.50" font-size="4.5" fill="#333" text-anchor="end" transform="rotate(-45 89.40 382.50)" >SELL</text>
<line x1="101.50" y1="378.00" x2="101.50" y2="379.60" stroke="#4d4d4d" stroke-width="0.7" />
<text x="103.00" y="382.50" font-size="4.5" fill="#333" text-anchor="end" transform="rotate(-45 103.00 382.50)" >CCR7</text>
<line x1="115.10" y1="378.00" x2="115.10" y2="379.60" stroke="#4d4d4d" stroke-width="0.7" />
<text x="116.60" y="382.50" font-size="4.5" fill="#333" text-anchor="end" transform="rotate(-45 116.60 382.50)" >CD8A</text>
<line x1="128.70" y1="378.00" x2="128.70" y2="379.60" stroke="#4d4d4d" stroke-width="0.7" />
<text x="130.20" y="382.50" font-size="4.5" fill="#333" text-anchor="end" transform="rotate(-45 130.20 382.50)" >CD8B</text>
<line x1="142.30" y1="378.00" x2="142.30" y2="379.60" stroke="#4d4d4d" stroke-width="0.7" />
<text x="143.80" y="382.50" font-size="4.5" fill="#333" text-anchor="end" transform="rotate(-45 143.80 382.50)" >TCL1A</text>
<line x1="155.90" y1="378.00" x2="155.90" y2="379.60" stroke="#4d4d4d" stroke-width="0.7" />
<text x="157.40" y="382.50" font-size="4.5" fill="#333" text-anchor="end" transform="rotate(-45 157.40 382.50)" >MS4A1</text>
<line x1="169.50" y1="378.00" x2="169.50" y2="379.60" stroke="#4d4d4d" stroke-width="0.7" />
<text x="171.00" y="382.50" font-size="4.5" fill="#333" text-anchor="end" transform="rotate(-45 171.00 382.50)" >CD79A</text>
<line x1="183.10" y1="378.00" x2="183.10" y2="379.60" stroke="#4d4d4d" stroke-width="0.7" />
<text x="184.60" y="382.50" font-size="4.5" fill="#333" text-anchor="end" transform="rotate(-45 184.60 382.50)" >KLRF1</text>
<line x1="196.70" y1="378.00" x2="196.70" y2="379.60" stroke="#4d4d4d" stroke-width="0.7" />
<text x="198.20" y="382.50" font-size="4.5" fill="#333" text-anchor="end" transform="rotate(-45 198.20 382.50)" >GNLY</text>
<line x1="210.30" y1="378.00" x2="210.30" y2="379.60" stroke="#4d4d4d" stroke-width="0.7" />
<text x="211.80" y="382.50" font-size="4.5" fill="#333" text-anchor="end" transform="rotate(-45 211.80 382.50)" >LYZ</text>
<line x1="223.90" y1="378.00" x2="223.90" y2="379.60" stroke="#4d4d4d" stroke-width="0.7" />
<text x="225.40" y="382.50" font-size="4.5" fill="#333" text-anchor="end" transform="rotate(-45 225.40 382.50)" >CD14</text>
<line x1="237.50" y1="378.00" x2="237.50" y2="379.60" stroke="#4d4d4d" stroke-width="0.7" />
<text x="239.00" y="382.50" font-size="4.5" fill="#333" text-anchor="end" transform="rotate(-45 239.00 382.50)" >CST3</text>
<line x1="251.10" y1="378.00" x2="251.10" y2="379.60" stroke="#4d4d4d" stroke-width="0.7" />
<text x="252.60" y="382.50" font-size="4.5" fill="#333" text-anchor="end" transform="rotate(-45 252.60 382.50)" >IL3RA</text>
<line x1="264.70" y1="378.00" x2="264.70" y2="379.60" stroke="#4d4d4d" stroke-width="0.7" />
<text x="266.20" y="382.50" font-size="4.5" fill="#333" text-anchor="end" transform="rotate(-45 266.20 382.50)" >ITGA2B</text>
<text x="162.70" y="399.80" font-size="5.0" fill="#222" text-anchor="middle" >Features</text>
<text x="16.90" y="306.30" font-size="5.6" fill="#222" text-anchor="middle" transform="rotate(-90 16.90 306.30)" >Identity</text>
<text x="52.80" y="226.60" font-size="5.1" fill="#222" text-anchor="start" >Percent Expressed</text>
<circle cx="102.90" cy="224.80" r="0.40" fill="#999"/>
<text x="110.40" y="226.50" font-size="4.8" fill="#333" text-anchor="middle" >0</text>
<circle cx="118.90" cy="224.80" r="2.20" fill="#111"/>
<text x="128.00" y="226.50" font-size="4.8" fill="#333" text-anchor="middle" >25</text>
<circle cx="137.20" cy="224.80" r="2.90" fill="#111"/>
<text x="146.10" y="226.50" font-size="4.8" fill="#333" text-anchor="middle" >50</text>
<circle cx="155.70" cy="224.80" r="3.60" fill="#111"/>
<text x="164.90" y="226.50" font-size="4.8" fill="#333" text-anchor="middle" >75</text>
<text x="173.00" y="227.60" font-size="5.15" fill="#222" text-anchor="start" >Average Expression</text>
<defs><linearGradient id="cbar" x1="0" x2="1" y1="0" y2="0"><stop offset="0" stop-color="#4A63AA"/><stop offset="0.28" stop-color="#B7D4E6"/><stop offset="0.45" stop-color="#FDFBC0"/><stop offset="0.62" stop-color="#FDD184"/><stop offset="0.8" stop-color="#F07A4A"/><stop offset="1" stop-color="#D02A26"/></linearGradient></defs>
<rect x="221.00" y="219.80" width="41.80" height="3.20" fill="url(#cbar)" />
<text x="224.30" y="228.90" font-size="4.3" fill="#333" text-anchor="middle" >−1</text>
<text x="235.80" y="228.90" font-size="4.3" fill="#333" text-anchor="middle" >0</text>
<text x="246.60" y="228.90" font-size="4.3" fill="#333" text-anchor="middle" >1</text>
<text x="257.30" y="228.90" font-size="4.3" fill="#333" text-anchor="middle" >2</text>
<rect x="327.40" y="225.40" width="69.30" height="31.30" fill="#D24F7C" />
<rect x="426.20" y="225.40" width="68.70" height="36.20" fill="#D24F7C" />
<path d="M397.5,225.4 L402.5,225.4 C410.25,225.4 410.25,225.4 418.0,225.4 L425.6,225.4 L425.6,261.6 L418.0,261.6 C410.25,261.6 410.25,256.7 402.5,256.7 L397.5,256.7 Z" fill="#F2CEDA"/>
<rect x="327.40" y="256.70" width="69.30" height="34.30" fill="#68B5BF" />
<rect x="426.20" y="261.60" width="68.70" height="39.30" fill="#68B5BF" />
<path d="M397.5,256.7 L402.5,256.7 C410.25,256.7 410.25,261.6 418.0,261.6 L425.6,261.6 L425.6,300.9 L418.0,300.9 C410.25,300.9 410.25,291.0 402.5,291.0 L397.5,291.0 Z" fill="#D5EAED"/>
<rect x="327.40" y="291.00" width="69.30" height="8.90" fill="#717BB0" />
<rect x="426.20" y="300.90" width="68.70" height="9.70" fill="#717BB0" />
<path d="M397.5,291.0 L402.5,291.0 C410.25,291.0 410.25,300.9 418.0,300.9 L425.6,300.9 L425.6,310.6 L418.0,310.6 C410.25,310.6 410.25,299.9 402.5,299.9 L397.5,299.9 Z" fill="#D7DAE9"/>
<rect x="327.40" y="299.90" width="69.30" height="32.40" fill="#774D8D" />
<rect x="426.20" y="310.60" width="68.70" height="18.10" fill="#774D8D" />
<path d="M397.5,299.9 L402.5,299.9 C410.25,299.9 410.25,310.6 418.0,310.6 L425.6,310.6 L425.6,328.7 L418.0,328.7 C410.25,328.7 410.25,332.3 402.5,332.3 L397.5,332.3 Z" fill="#D9CDDF"/>
<rect x="327.40" y="332.30" width="69.30" height="9.50" fill="#B7352F" />
<rect x="426.20" y="328.70" width="68.70" height="6.40" fill="#B7352F" />
<path d="M397.5,332.3 L402.5,332.3 C410.25,332.3 410.25,328.7 418.0,328.7 L425.6,328.7 L425.6,335.1 L418.0,335.1 C410.25,335.1 410.25,341.8 402.5,341.8 L397.5,341.8 Z" fill="#EBC6C5"/>
<rect x="327.40" y="341.80" width="69.30" height="8.00" fill="#4A72A0" />
<rect x="426.20" y="335.10" width="68.70" height="5.70" fill="#4A72A0" />
<path d="M397.5,341.8 L402.5,341.8 C410.25,341.8 410.25,335.1 418.0,335.1 L425.6,335.1 L425.6,340.8 L418.0,340.8 C410.25,340.8 410.25,349.8 402.5,349.8 L397.5,349.8 Z" fill="#CCD8E4"/>
<rect x="327.40" y="349.80" width="69.30" height="17.10" fill="#F4AD70" />
<rect x="426.20" y="340.80" width="68.70" height="24.70" fill="#F4AD70" />
<path d="M397.5,349.8 L402.5,349.8 C410.25,349.8 410.25,340.8 418.0,340.8 L425.6,340.8 L425.6,365.5 L418.0,365.5 C410.25,365.5 410.25,366.9 402.5,366.9 L397.5,366.9 Z" fill="#FCE8D7"/>
<rect x="327.40" y="366.90" width="69.30" height="16.10" fill="#85A03A" />
<rect x="426.20" y="365.50" width="68.70" height="18.20" fill="#85A03A" />
<path d="M397.5,366.9 L402.5,366.9 C410.25,366.9 410.25,365.5 418.0,365.5 L425.6,365.5 L425.6,383.7 L418.0,383.7 C410.25,383.7 410.25,383.0 402.5,383.0 L397.5,383.0 Z" fill="#DDE4C8"/>
<rect x="327.40" y="383.00" width="69.30" height="4.20" fill="#A1B2D2" />
<rect x="426.20" y="383.70" width="68.70" height="3.50" fill="#A1B2D2" />
<path d="M397.5,383.0 L402.5,383.0 C410.25,383.0 410.25,383.7 418.0,383.7 L425.6,383.7 L425.6,387.2 L418.0,387.2 C410.25,387.2 410.25,387.2 402.5,387.2 L397.5,387.2 Z" fill="#E5E9F2"/>
<rect x="327.40" y="387.20" width="69.30" height="0.40" fill="#7EA0C6" />
<rect x="426.20" y="387.20" width="68.70" height="0.40" fill="#7EA0C6" />
<path d="M397.5,387.2 L402.5,387.2 C410.25,387.2 410.25,387.2 418.0,387.2 L425.6,387.2 L425.6,387.6 L418.0,387.6 C410.25,387.6 410.25,387.6 402.5,387.6 L397.5,387.6 Z" fill="#DBE4EF"/>
<rect x="327.4" y="225.4" width="167.50" height="162.20" fill="none" stroke="#7a7a7a" stroke-width="0.6"/>
<line x1="325.90" y1="225.40" x2="327.40" y2="225.40" stroke="#4d4d4d" stroke-width="0.7" />
<text x="325.20" y="227.40" font-size="5.6" fill="#333" text-anchor="end" >100%</text>
<line x1="325.90" y1="265.95" x2="327.40" y2="265.95" stroke="#4d4d4d" stroke-width="0.7" />
<text x="325.20" y="267.95" font-size="5.6" fill="#333" text-anchor="end" >75%</text>
<line x1="325.90" y1="306.50" x2="327.40" y2="306.50" stroke="#4d4d4d" stroke-width="0.7" />
<text x="325.20" y="308.50" font-size="5.6" fill="#333" text-anchor="end" >50%</text>
<line x1="325.90" y1="347.05" x2="327.40" y2="347.05" stroke="#4d4d4d" stroke-width="0.7" />
<text x="325.20" y="349.05" font-size="5.6" fill="#333" text-anchor="end" >25%</text>
<line x1="325.90" y1="387.60" x2="327.40" y2="387.60" stroke="#4d4d4d" stroke-width="0.7" />
<text x="325.20" y="389.60" font-size="5.6" fill="#333" text-anchor="end" >0%</text>
<line x1="327.40" y1="387.60" x2="494.90" y2="387.60" stroke="#4d4d4d" stroke-width="0.9" />
<line x1="362.00" y1="387.60" x2="362.00" y2="389.30" stroke="#4d4d4d" stroke-width="0.7" />
<text x="364.20" y="392.20" font-size="5.6" fill="#333" text-anchor="end" transform="rotate(-45 364.20 392.20)" >Control</text>
<line x1="460.50" y1="387.60" x2="460.50" y2="389.30" stroke="#4d4d4d" stroke-width="0.7" />
<text x="462.70" y="392.20" font-size="5.6" fill="#333" text-anchor="end" transform="rotate(-45 462.70 392.20)" >Disease</text>
<text x="306.60" y="306.60" font-size="7.9" fill="#111" text-anchor="middle" transform="rotate(-90 306.60 306.60)" >Cell percent ratio</text>
<text x="502.60" y="268.00" font-size="7.6" fill="#111" text-anchor="start" >Cell Type</text>
<rect x="502.90" y="273.30" width="7.30" height="6.60" fill="#D24F7C" />
<text x="514.00" y="278.60" font-size="5.95" fill="#222" text-anchor="start" >CD4T cell</text>
<rect x="502.90" y="281.23" width="7.30" height="6.60" fill="#68B5BF" />
<text x="514.00" y="286.53" font-size="5.95" fill="#222" text-anchor="start" >Naive CD4T cell</text>
<rect x="502.90" y="289.16" width="7.30" height="6.60" fill="#717BB0" />
<text x="514.00" y="294.46" font-size="5.95" fill="#222" text-anchor="start" >Naive CD8T cell</text>
<rect x="502.90" y="297.09" width="7.30" height="6.60" fill="#774D8D" />
<text x="514.00" y="302.39" font-size="5.95" fill="#222" text-anchor="start" >CD8T cell</text>
<rect x="502.90" y="305.02" width="7.30" height="6.60" fill="#B7352F" />
<text x="514.00" y="310.32" font-size="5.95" fill="#222" text-anchor="start" >Naive B cell</text>
<rect x="502.90" y="312.95" width="7.30" height="6.60" fill="#4A72A0" />
<text x="514.00" y="318.25" font-size="5.95" fill="#222" text-anchor="start" >B cell</text>
<rect x="502.90" y="320.88" width="7.30" height="6.60" fill="#F4AD70" />
<text x="514.00" y="326.18" font-size="5.95" fill="#222" text-anchor="start" >NK cell</text>
<rect x="502.90" y="328.81" width="7.30" height="6.60" fill="#85A03A" />
<text x="514.00" y="334.11" font-size="5.95" fill="#222" text-anchor="start" >Monocytes</text>
<rect x="502.90" y="336.74" width="7.30" height="6.60" fill="#A1B2D2" />
<text x="514.00" y="342.04" font-size="5.95" fill="#222" text-anchor="start" >Dendritic cell</text>
<rect x="502.90" y="344.67" width="7.30" height="6.60" fill="#7EA0C6" />
<text x="514.00" y="349.97" font-size="5.95" fill="#222" text-anchor="start" >Progenitor cell</text>
<rect x="33.80" y="446.5" width="53.7" height="201.80" fill="none" stroke="#6b6565" stroke-width="0.9"/>
<text x="60.65" y="441.80" font-size="7.2" fill="#222" text-anchor="middle" >CD4T cell</text>
<line x1="33.80" y1="571.67" x2="87.50" y2="571.67" stroke="#5a5353" stroke-width="1" stroke-dasharray="4.8 5.9"/>
<line x1="33.80" y1="580.73" x2="87.50" y2="580.73" stroke="#5a5353" stroke-width="1" stroke-dasharray="4.8 5.9"/>
<line x1="44.50" y1="648.30" x2="44.50" y2="650.50" stroke="#4d4747" stroke-width="0.9" />
<text x="47.50" y="655.90" font-size="7.0" fill="#333" text-anchor="end" transform="rotate(-45 47.50 655.90)" >−0.5</text>
<line x1="58.60" y1="648.30" x2="58.60" y2="650.50" stroke="#4d4747" stroke-width="0.9" />
<text x="61.60" y="655.90" font-size="7.0" fill="#333" text-anchor="end" transform="rotate(-45 61.60 655.90)" >0.0</text>
<line x1="72.70" y1="648.30" x2="72.70" y2="650.50" stroke="#4d4747" stroke-width="0.9" />
<text x="75.70" y="655.90" font-size="7.0" fill="#333" text-anchor="end" transform="rotate(-45 75.70 655.90)" >0.5</text>
<line x1="86.80" y1="648.30" x2="86.80" y2="650.50" stroke="#4d4747" stroke-width="0.9" />
<text x="89.80" y="655.90" font-size="7.0" fill="#333" text-anchor="end" transform="rotate(-45 89.80 655.90)" >1.0</text>
<rect x="92.50" y="446.5" width="53.7" height="201.80" fill="none" stroke="#6b6565" stroke-width="0.9"/>
<text x="119.35" y="441.80" font-size="7.2" fill="#222" text-anchor="middle" >Naive CD4T cell</text>
<line x1="92.50" y1="571.67" x2="146.20" y2="571.67" stroke="#5a5353" stroke-width="1" stroke-dasharray="4.8 5.9"/>
<line x1="92.50" y1="580.73" x2="146.20" y2="580.73" stroke="#5a5353" stroke-width="1" stroke-dasharray="4.8 5.9"/>
<line x1="103.20" y1="648.30" x2="103.20" y2="650.50" stroke="#4d4747" stroke-width="0.9" />
<text x="106.20" y="655.90" font-size="7.0" fill="#333" text-anchor="end" transform="rotate(-45 106.20 655.90)" >−0.5</text>
<line x1="117.30" y1="648.30" x2="117.30" y2="650.50" stroke="#4d4747" stroke-width="0.9" />
<text x="120.30" y="655.90" font-size="7.0" fill="#333" text-anchor="end" transform="rotate(-45 120.30 655.90)" >0.0</text>
<line x1="131.40" y1="648.30" x2="131.40" y2="650.50" stroke="#4d4747" stroke-width="0.9" />
<text x="134.40" y="655.90" font-size="7.0" fill="#333" text-anchor="end" transform="rotate(-45 134.40 655.90)" >0.5</text>
<line x1="145.50" y1="648.30" x2="145.50" y2="650.50" stroke="#4d4747" stroke-width="0.9" />
<text x="148.50" y="655.90" font-size="7.0" fill="#333" text-anchor="end" transform="rotate(-45 148.50 655.90)" >1.0</text>
<rect x="151.20" y="446.5" width="53.7" height="201.80" fill="none" stroke="#6b6565" stroke-width="0.9"/>
<text x="178.05" y="441.80" font-size="7.2" fill="#222" text-anchor="middle" >Naive CD8T cell</text>
<line x1="151.20" y1="571.67" x2="204.90" y2="571.67" stroke="#5a5353" stroke-width="1" stroke-dasharray="4.8 5.9"/>
<line x1="151.20" y1="580.73" x2="204.90" y2="580.73" stroke="#5a5353" stroke-width="1" stroke-dasharray="4.8 5.9"/>
<line x1="161.90" y1="648.30" x2="161.90" y2="650.50" stroke="#4d4747" stroke-width="0.9" />
<text x="164.90" y="655.90" font-size="7.0" fill="#333" text-anchor="end" transform="rotate(-45 164.90 655.90)" >−0.5</text>
<line x1="176.00" y1="648.30" x2="176.00" y2="650.50" stroke="#4d4747" stroke-width="0.9" />
<text x="179.00" y="655.90" font-size="7.0" fill="#333" text-anchor="end" transform="rotate(-45 179.00 655.90)" >0.0</text>
<line x1="190.10" y1="648.30" x2="190.10" y2="650.50" stroke="#4d4747" stroke-width="0.9" />
<text x="193.10" y="655.90" font-size="7.0" fill="#333" text-anchor="end" transform="rotate(-45 193.10 655.90)" >0.5</text>
<line x1="204.20" y1="648.30" x2="204.20" y2="650.50" stroke="#4d4747" stroke-width="0.9" />
<text x="207.20" y="655.90" font-size="7.0" fill="#333" text-anchor="end" transform="rotate(-45 207.20 655.90)" >1.0</text>
<rect x="209.90" y="446.5" width="53.7" height="201.80" fill="none" stroke="#6b6565" stroke-width="0.9"/>
<text x="236.75" y="441.80" font-size="7.2" fill="#222" text-anchor="middle" >CD8T cell</text>
<line x1="209.90" y1="571.67" x2="263.60" y2="571.67" stroke="#5a5353" stroke-width="1" stroke-dasharray="4.8 5.9"/>
<line x1="209.90" y1="580.73" x2="263.60" y2="580.73" stroke="#5a5353" stroke-width="1" stroke-dasharray="4.8 5.9"/>
<line x1="220.60" y1="648.30" x2="220.60" y2="650.50" stroke="#4d4747" stroke-width="0.9" />
<text x="223.60" y="655.90" font-size="7.0" fill="#333" text-anchor="end" transform="rotate(-45 223.60 655.90)" >−0.5</text>
<line x1="234.70" y1="648.30" x2="234.70" y2="650.50" stroke="#4d4747" stroke-width="0.9" />
<text x="237.70" y="655.90" font-size="7.0" fill="#333" text-anchor="end" transform="rotate(-45 237.70 655.90)" >0.0</text>
<line x1="248.80" y1="648.30" x2="248.80" y2="650.50" stroke="#4d4747" stroke-width="0.9" />
<text x="251.80" y="655.90" font-size="7.0" fill="#333" text-anchor="end" transform="rotate(-45 251.80 655.90)" >0.5</text>
<line x1="262.90" y1="648.30" x2="262.90" y2="650.50" stroke="#4d4747" stroke-width="0.9" />
<text x="265.90" y="655.90" font-size="7.0" fill="#333" text-anchor="end" transform="rotate(-45 265.90 655.90)" >1.0</text>
<rect x="268.60" y="446.5" width="53.7" height="201.80" fill="none" stroke="#6b6565" stroke-width="0.9"/>
<text x="295.45" y="441.80" font-size="7.2" fill="#222" text-anchor="middle" >Naive B cell</text>
<line x1="268.60" y1="571.67" x2="322.30" y2="571.67" stroke="#5a5353" stroke-width="1" stroke-dasharray="4.8 5.9"/>
<line x1="268.60" y1="580.73" x2="322.30" y2="580.73" stroke="#5a5353" stroke-width="1" stroke-dasharray="4.8 5.9"/>
<line x1="279.30" y1="648.30" x2="279.30" y2="650.50" stroke="#4d4747" stroke-width="0.9" />
<text x="282.30" y="655.90" font-size="7.0" fill="#333" text-anchor="end" transform="rotate(-45 282.30 655.90)" >−0.5</text>
<line x1="293.40" y1="648.30" x2="293.40" y2="650.50" stroke="#4d4747" stroke-width="0.9" />
<text x="296.40" y="655.90" font-size="7.0" fill="#333" text-anchor="end" transform="rotate(-45 296.40 655.90)" >0.0</text>
<line x1="307.50" y1="648.30" x2="307.50" y2="650.50" stroke="#4d4747" stroke-width="0.9" />
<text x="310.50" y="655.90" font-size="7.0" fill="#333" text-anchor="end" transform="rotate(-45 310.50 655.90)" >0.5</text>
<line x1="321.60" y1="648.30" x2="321.60" y2="650.50" stroke="#4d4747" stroke-width="0.9" />
<text x="324.60" y="655.90" font-size="7.0" fill="#333" text-anchor="end" transform="rotate(-45 324.60 655.90)" >1.0</text>
<rect x="327.30" y="446.5" width="53.7" height="201.80" fill="none" stroke="#6b6565" stroke-width="0.9"/>
<text x="354.15" y="441.80" font-size="7.2" fill="#222" text-anchor="middle" >B cell</text>
<line x1="327.30" y1="571.67" x2="381.00" y2="571.67" stroke="#5a5353" stroke-width="1" stroke-dasharray="4.8 5.9"/>
<line x1="327.30" y1="580.73" x2="381.00" y2="580.73" stroke="#5a5353" stroke-width="1" stroke-dasharray="4.8 5.9"/>
<line x1="338.00" y1="648.30" x2="338.00" y2="650.50" stroke="#4d4747" stroke-width="0.9" />
<text x="341.00" y="655.90" font-size="7.0" fill="#333" text-anchor="end" transform="rotate(-45 341.00 655.90)" >−0.5</text>
<line x1="352.10" y1="648.30" x2="352.10" y2="650.50" stroke="#4d4747" stroke-width="0.9" />
<text x="355.10" y="655.90" font-size="7.0" fill="#333" text-anchor="end" transform="rotate(-45 355.10 655.90)" >0.0</text>
<line x1="366.20" y1="648.30" x2="366.20" y2="650.50" stroke="#4d4747" stroke-width="0.9" />
<text x="369.20" y="655.90" font-size="7.0" fill="#333" text-anchor="end" transform="rotate(-45 369.20 655.90)" >0.5</text>
<line x1="380.30" y1="648.30" x2="380.30" y2="650.50" stroke="#4d4747" stroke-width="0.9" />
<text x="383.30" y="655.90" font-size="7.0" fill="#333" text-anchor="end" transform="rotate(-45 383.30 655.90)" >1.0</text>
<rect x="386.00" y="446.5" width="53.7" height="201.80" fill="none" stroke="#6b6565" stroke-width="0.9"/>
<text x="412.85" y="441.80" font-size="7.2" fill="#222" text-anchor="middle" >NK cell</text>
<line x1="386.00" y1="571.67" x2="439.70" y2="571.67" stroke="#5a5353" stroke-width="1" stroke-dasharray="4.8 5.9"/>
<line x1="386.00" y1="580.73" x2="439.70" y2="580.73" stroke="#5a5353" stroke-width="1" stroke-dasharray="4.8 5.9"/>
<line x1="396.70" y1="648.30" x2="396.70" y2="650.50" stroke="#4d4747" stroke-width="0.9" />
<text x="399.70" y="655.90" font-size="7.0" fill="#333" text-anchor="end" transform="rotate(-45 399.70 655.90)" >−0.5</text>
<line x1="410.80" y1="648.30" x2="410.80" y2="650.50" stroke="#4d4747" stroke-width="0.9" />
<text x="413.80" y="655.90" font-size="7.0" fill="#333" text-anchor="end" transform="rotate(-45 413.80 655.90)" >0.0</text>
<line x1="424.90" y1="648.30" x2="424.90" y2="650.50" stroke="#4d4747" stroke-width="0.9" />
<text x="427.90" y="655.90" font-size="7.0" fill="#333" text-anchor="end" transform="rotate(-45 427.90 655.90)" >0.5</text>
<line x1="439.00" y1="648.30" x2="439.00" y2="650.50" stroke="#4d4747" stroke-width="0.9" />
<text x="442.00" y="655.90" font-size="7.0" fill="#333" text-anchor="end" transform="rotate(-45 442.00 655.90)" >1.0</text>
<rect x="444.70" y="446.5" width="53.7" height="201.80" fill="none" stroke="#6b6565" stroke-width="0.9"/>
<text x="471.55" y="441.80" font-size="7.2" fill="#222" text-anchor="middle" >Monocytes</text>
<line x1="444.70" y1="571.67" x2="498.40" y2="571.67" stroke="#5a5353" stroke-width="1" stroke-dasharray="4.8 5.9"/>
<line x1="444.70" y1="580.73" x2="498.40" y2="580.73" stroke="#5a5353" stroke-width="1" stroke-dasharray="4.8 5.9"/>
<line x1="455.40" y1="648.30" x2="455.40" y2="650.50" stroke="#4d4747" stroke-width="0.9" />
<text x="458.40" y="655.90" font-size="7.0" fill="#333" text-anchor="end" transform="rotate(-45 458.40 655.90)" >−0.5</text>
<line x1="469.50" y1="648.30" x2="469.50" y2="650.50" stroke="#4d4747" stroke-width="0.9" />
<text x="472.50" y="655.90" font-size="7.0" fill="#333" text-anchor="end" transform="rotate(-45 472.50 655.90)" >0.0</text>
<line x1="483.60" y1="648.30" x2="483.60" y2="650.50" stroke="#4d4747" stroke-width="0.9" />
<text x="486.60" y="655.90" font-size="7.0" fill="#333" text-anchor="end" transform="rotate(-45 486.60 655.90)" >0.5</text>
<line x1="497.70" y1="648.30" x2="497.70" y2="650.50" stroke="#4d4747" stroke-width="0.9" />
<text x="500.70" y="655.90" font-size="7.0" fill="#333" text-anchor="end" transform="rotate(-45 500.70 655.90)" >1.0</text>
<rect x="503.40" y="446.5" width="53.7" height="201.80" fill="none" stroke="#6b6565" stroke-width="0.9"/>
<text x="530.25" y="441.80" font-size="7.2" fill="#222" text-anchor="middle" >Dendritic cell</text>
<line x1="503.40" y1="571.67" x2="557.10" y2="571.67" stroke="#5a5353" stroke-width="1" stroke-dasharray="4.8 5.9"/>
<line x1="503.40" y1="580.73" x2="557.10" y2="580.73" stroke="#5a5353" stroke-width="1" stroke-dasharray="4.8 5.9"/>
<line x1="514.10" y1="648.30" x2="514.10" y2="650.50" stroke="#4d4747" stroke-width="0.9" />
<text x="517.10" y="655.90" font-size="7.0" fill="#333" text-anchor="end" transform="rotate(-45 517.10 655.90)" >−0.5</text>
<line x1="528.20" y1="648.30" x2="528.20" y2="650.50" stroke="#4d4747" stroke-width="0.9" />
<text x="531.20" y="655.90" font-size="7.0" fill="#333" text-anchor="end" transform="rotate(-45 531.20 655.90)" >0.0</text>
<line x1="542.30" y1="648.30" x2="542.30" y2="650.50" stroke="#4d4747" stroke-width="0.9" />
<text x="545.30" y="655.90" font-size="7.0" fill="#333" text-anchor="end" transform="rotate(-45 545.30 655.90)" >0.5</text>
<line x1="556.40" y1="648.30" x2="556.40" y2="650.50" stroke="#4d4747" stroke-width="0.9" />
<text x="559.40" y="655.90" font-size="7.0" fill="#333" text-anchor="end" transform="rotate(-45 559.40 655.90)" >1.0</text>
<line x1="31.60" y1="485.60" x2="33.80" y2="485.60" stroke="#4d4747" stroke-width="0.9" />
<text x="29.20" y="487.90" font-size="6.6" fill="#333" text-anchor="end" >5.0</text>
<line x1="31.60" y1="530.90" x2="33.80" y2="530.90" stroke="#4d4747" stroke-width="0.9" />
<text x="29.20" y="533.20" font-size="6.6" fill="#333" text-anchor="end" >2.5</text>
<line x1="31.60" y1="576.20" x2="33.80" y2="576.20" stroke="#4d4747" stroke-width="0.9" />
<text x="29.20" y="578.50" font-size="6.6" fill="#333" text-anchor="end" >0.0</text>
<line x1="31.60" y1="621.50" x2="33.80" y2="621.50" stroke="#4d4747" stroke-width="0.9" />
<text x="29.20" y="623.80" font-size="6.6" fill="#333" text-anchor="end" >−2.5</text>
<text x="11.20" y="550.50" font-size="9.6" fill="#111" text-anchor="middle" transform="rotate(-90 11.20 550.50)" >Log2−Fold Change</text>
<text x="294.70" y="676.60" font-size="8.9" fill="#111" text-anchor="middle" >Δ Percentage Difference</text>
<line x1="52.30" y1="543.20" x2="72.00" y2="547.70" stroke="#E45649" stroke-width="0.8" />
<circle cx="72.00" cy="547.70" r="1.35" fill="#E45649"/>
<text x="35.90" y="545.35" font-size="7.1" fill="#E45649" text-anchor="start" >IL7R</text>
<text x="70.70" y="544.75" font-size="7.1" fill="#E45649" text-anchor="start" >IL7R</text>
<text x="35.90" y="567.75" font-size="7.1" fill="#E45649" text-anchor="start" >HLA−DPB1</text>
<text x="35.90" y="579.55" font-size="7.1" fill="#E45649" text-anchor="start" >HLA−DPA1</text>
<line x1="54.30" y1="567.80" x2="52.80" y2="604.00" stroke="#E45649" stroke-width="0.8" />
<text x="49.10" y="597.15" font-size="7.1" fill="#E45649" text-anchor="start" >HLA−DPB1</text>
<text x="35.80" y="604.65" font-size="7.1" fill="#E45649" text-anchor="start" >CTSS</text>
<text x="66.80" y="607.05" font-size="7.1" fill="#E45649" text-anchor="start" >CTSS</text>
<text x="35.80" y="617.05" font-size="7.1" fill="#E45649" text-anchor="start" >CD74</text>
<text x="49.10" y="617.05" font-size="7.1" fill="#E45649" text-anchor="start" >HLA−DPA1</text>
<text x="66.80" y="626.65" font-size="7.1" fill="#E45649" text-anchor="start" >CD74</text>
<line x1="65.90" y1="603.90" x2="54.90" y2="608.30" stroke="#E45649" stroke-width="0.8" />
<line x1="65.90" y1="623.50" x2="56.80" y2="615.70" stroke="#E45649" stroke-width="0.8" />
<circle cx="52.00" cy="605.00" r="1.35" fill="#E45649"/>
<circle cx="52.40" cy="603.50" r="1.35" fill="#E45649"/>
<circle cx="51.80" cy="606.30" r="1.35" fill="#E45649"/>
<circle cx="54.90" cy="608.30" r="1.35" fill="#E45649"/>
<circle cx="56.80" cy="615.70" r="1.35" fill="#E45649"/>
<text x="95.00" y="547.05" font-size="7.1" fill="#4FB1C6" text-anchor="start" >CCR7</text>
<line x1="115.10" y1="544.30" x2="131.80" y2="548.60" stroke="#4FB1C6" stroke-width="0.8" />
<circle cx="131.80" cy="548.60" r="1.35" fill="#4FB1C6"/>
<circle cx="111.30" cy="609.40" r="1.40" fill="#C7C2C0"/>
<text x="95.00" y="586.65" font-size="7.1" fill="#4FB1C6" text-anchor="start" >EFHD2</text>
<text x="95.00" y="596.35" font-size="7.1" fill="#4FB1C6" text-anchor="start" >S100A11</text>
<text x="95.00" y="604.45" font-size="7.1" fill="#4FB1C6" text-anchor="start" >SRGN</text>
<text x="104.00" y="605.65" font-size="7.1" fill="#4FB1C6" text-anchor="start" >HLA−DRB1</text>
<text x="95.00" y="615.45" font-size="7.1" fill="#4FB1C6" text-anchor="start" >PLEK</text>
<text x="118.90" y="615.45" font-size="7.1" fill="#4FB1C6" text-anchor="start" >S100A4</text>
<text x="125.90" y="625.45" font-size="7.1" fill="#4FB1C6" text-anchor="start" >CD74</text>
<text x="125.90" y="635.05" font-size="7.1" fill="#4FB1C6" text-anchor="start" >CCL5</text>
<text x="125.10" y="644.45" font-size="7.1" fill="#4FB1C6" text-anchor="start" >NKG7</text>
<line x1="106.00" y1="587.00" x2="104.30" y2="617.60" stroke="#4FB1C6" stroke-width="0.8" />
<line x1="118.50" y1="613.00" x2="110.80" y2="615.20" stroke="#4FB1C6" stroke-width="0.8" />
<line x1="125.00" y1="622.50" x2="108.40" y2="626.70" stroke="#4FB1C6" stroke-width="0.8" />
<line x1="125.00" y1="632.80" x2="106.70" y2="630.40" stroke="#4FB1C6" stroke-width="0.8" />
<line x1="124.00" y1="641.50" x2="107.30" y2="639.50" stroke="#4FB1C6" stroke-width="0.8" />
<circle cx="103.80" cy="607.10" r="1.35" fill="#4FB1C6"/>
<circle cx="109.00" cy="603.90" r="1.35" fill="#4FB1C6"/>
<circle cx="104.30" cy="617.60" r="1.35" fill="#4FB1C6"/>
<circle cx="110.80" cy="615.20" r="1.35" fill="#4FB1C6"/>
<circle cx="108.40" cy="626.70" r="1.35" fill="#4FB1C6"/>
<circle cx="106.70" cy="630.40" r="1.35" fill="#4FB1C6"/>
<circle cx="107.30" cy="639.50" r="1.35" fill="#4FB1C6"/>
<circle cx="105.50" cy="610.50" r="1.35" fill="#4FB1C6"/>
<text x="153.60" y="581.05" font-size="7.1" fill="#2F9B70" text-anchor="start" >SRGN</text>
<text x="153.60" y="590.95" font-size="7.1" fill="#2F9B70" text-anchor="start" >KLF6</text>
<text x="153.60" y="599.45" font-size="7.1" fill="#2F9B70" text-anchor="start" >SAT1</text>
<text x="153.60" y="604.05" font-size="7.1" fill="#2F9B70" text-anchor="start" >HLA−DPB1</text>
<text x="183.80" y="606.05" font-size="7.1" fill="#2F9B70" text-anchor="start" >CTSS</text>
<text x="153.60" y="615.25" font-size="7.1" fill="#2F9B70" text-anchor="start" >S100A11</text>
<text x="182.50" y="615.25" font-size="7.1" fill="#2F9B70" text-anchor="start" >NEAT1</text>
<text x="166.70" y="621.15" font-size="7.1" fill="#2F9B70" text-anchor="start" >HLA−DPA1</text>
<text x="177.90" y="630.35" font-size="7.1" fill="#2F9B70" text-anchor="start" >S100A4</text>
<text x="184.40" y="640.15" font-size="7.1" fill="#2F9B70" text-anchor="start" >CD74</text>
<line x1="166.00" y1="582.00" x2="168.00" y2="605.00" stroke="#2F9B70" stroke-width="0.8" />
<line x1="168.00" y1="591.00" x2="170.00" y2="604.00" stroke="#2F9B70" stroke-width="0.8" />
<line x1="183.00" y1="603.00" x2="172.00" y2="608.00" stroke="#2F9B70" stroke-width="0.8" />
<line x1="182.00" y1="612.70" x2="172.60" y2="612.00" stroke="#2F9B70" stroke-width="0.8" />
<line x1="176.00" y1="622.00" x2="172.60" y2="613.00" stroke="#2F9B70" stroke-width="0.8" />
<line x1="183.00" y1="637.00" x2="170.60" y2="623.80" stroke="#2F9B70" stroke-width="0.8" />
<circle cx="167.40" cy="607.40" r="1.50" fill="#2F9B70"/>
<circle cx="171.30" cy="604.10" r="1.50" fill="#2F9B70"/>
<circle cx="172.00" cy="608.00" r="1.50" fill="#2F9B70"/>
<circle cx="166.70" cy="611.80" r="1.50" fill="#2F9B70"/>
<circle cx="172.60" cy="612.00" r="1.50" fill="#2F9B70"/>
<circle cx="170.60" cy="623.80" r="1.50" fill="#2F9B70"/>
<circle cx="169.00" cy="607.00" r="1.50" fill="#2F9B70"/>
<circle cx="173.50" cy="606.00" r="1.50" fill="#2F9B70"/>
<text x="212.00" y="513.65" font-size="7.1" fill="#3E4283" text-anchor="start" >GZMH</text>
<text x="212.00" y="523.75" font-size="7.1" fill="#3E4283" text-anchor="start" >CCL5</text>
<text x="212.00" y="533.45" font-size="7.1" fill="#3E4283" text-anchor="start" >TRGC2</text>
<text x="212.00" y="543.35" font-size="7.1" fill="#3E4283" text-anchor="start" >CD8A</text>
<text x="212.00" y="553.35" font-size="7.1" fill="#3E4283" text-anchor="start" >NKG7</text>
<text x="241.20" y="544.55" font-size="7.1" fill="#3E4283" text-anchor="start" >GZMA</text>
<text x="233.60" y="554.45" font-size="7.1" fill="#3E4283" text-anchor="start" >FGFBP2</text>
<text x="242.90" y="563.85" font-size="7.1" fill="#3E4283" text-anchor="start" >CST7</text>
<line x1="233.50" y1="511.50" x2="252.30" y2="534.40" stroke="#3E4283" stroke-width="0.8" />
<line x1="230.60" y1="521.50" x2="251.10" y2="537.30" stroke="#3E4283" stroke-width="0.8" />
<line x1="236.40" y1="531.20" x2="251.10" y2="537.30" stroke="#3E4283" stroke-width="0.8" />
<line x1="231.40" y1="541.00" x2="251.70" y2="543.20" stroke="#3E4283" stroke-width="0.8" />
<line x1="231.20" y1="551.00" x2="249.90" y2="547.30" stroke="#3E4283" stroke-width="0.8" />
<line x1="251.70" y1="548.00" x2="252.00" y2="558.00" stroke="#3E4283" stroke-width="0.8" />
<circle cx="252.30" cy="534.40" r="1.40" fill="#3E4283"/>
<circle cx="251.10" cy="537.30" r="1.40" fill="#3E4283"/>
<circle cx="251.70" cy="543.20" r="1.40" fill="#3E4283"/>
<circle cx="249.90" cy="547.30" r="1.40" fill="#3E4283"/>
<circle cx="251.70" cy="547.80" r="1.40" fill="#3E4283"/>
<circle cx="253.00" cy="547.00" r="1.40" fill="#3E4283"/>
<text x="242.10" y="605.85" font-size="7.1" fill="#3E4283" text-anchor="start" >CTSS</text>
<line x1="231.60" y1="603.30" x2="241.50" y2="603.30" stroke="#3E4283" stroke-width="0.8" />
<circle cx="231.60" cy="603.30" r="1.35" fill="#3E4283"/>
<text x="248.80" y="616.95" font-size="7.1" fill="#3E4283" text-anchor="start" >LTB</text>
<line x1="222.70" y1="614.40" x2="248.20" y2="614.40" stroke="#3E4283" stroke-width="0.8" />
<circle cx="222.70" cy="614.40" r="1.35" fill="#3E4283"/>
<text x="270.60" y="480.75" font-size="7.1" fill="#F0855C" text-anchor="start" >IGHM</text>
<text x="270.60" y="491.65" font-size="7.1" fill="#F0855C" text-anchor="start" >IGHD</text>
<text x="270.60" y="501.75" font-size="7.1" fill="#F0855C" text-anchor="start" >TCL1A</text>
<text x="270.60" y="511.35" font-size="7.1" fill="#F0855C" text-anchor="start" >IGKC</text>
<text x="270.60" y="520.85" font-size="7.1" fill="#F0855C" text-anchor="start" >CD79A</text>
<line x1="289.50" y1="478.50" x2="318.50" y2="490.00" stroke="#F0855C" stroke-width="0.8" />
<line x1="288.80" y1="489.50" x2="319.20" y2="509.80" stroke="#F0855C" stroke-width="0.8" />
<line x1="292.70" y1="499.50" x2="319.20" y2="509.80" stroke="#F0855C" stroke-width="0.8" />
<line x1="288.10" y1="509.00" x2="304.70" y2="509.10" stroke="#F0855C" stroke-width="0.8" />
<line x1="293.40" y1="518.00" x2="319.20" y2="509.80" stroke="#F0855C" stroke-width="0.8" />
<circle cx="318.50" cy="490.00" r="1.40" fill="#F0855C"/>
<circle cx="319.20" cy="509.80" r="1.40" fill="#F0855C"/>
<circle cx="318.80" cy="509.00" r="1.40" fill="#F0855C"/>
<circle cx="304.70" cy="509.10" r="1.40" fill="#F0855C"/>
<circle cx="301.70" cy="517.50" r="1.40" fill="#C7C2C0"/>
<circle cx="304.00" cy="520.50" r="1.40" fill="#C7C2C0"/>
<circle cx="310.70" cy="518.40" r="1.40" fill="#C7C2C0"/>
<circle cx="318.60" cy="519.30" r="1.40" fill="#C7C2C0"/>
<circle cx="316.00" cy="524.30" r="1.40" fill="#C7C2C0"/>
<circle cx="315.10" cy="528.10" r="1.40" fill="#C7C2C0"/>
<circle cx="309.60" cy="529.50" r="1.40" fill="#C7C2C0"/>
<circle cx="307.50" cy="532.10" r="1.40" fill="#C7C2C0"/>
<circle cx="313.90" cy="530.10" r="1.40" fill="#C7C2C0"/>
<circle cx="315.70" cy="532.70" r="1.40" fill="#C7C2C0"/>
<circle cx="298.20" cy="535.40" r="1.40" fill="#C7C2C0"/>
<circle cx="313.40" cy="536.00" r="1.40" fill="#C7C2C0"/>
<circle cx="312.20" cy="538.30" r="1.40" fill="#C7C2C0"/>
<circle cx="306.90" cy="539.70" r="1.40" fill="#C7C2C0"/>
<circle cx="311.00" cy="540.60" r="1.40" fill="#C7C2C0"/>
<circle cx="308.10" cy="542.40" r="1.40" fill="#C7C2C0"/>
<circle cx="309.90" cy="542.40" r="1.40" fill="#C7C2C0"/>
<circle cx="309.30" cy="545.90" r="1.40" fill="#C7C2C0"/>
<circle cx="306.90" cy="547.60" r="1.40" fill="#C7C2C0"/>
<circle cx="305.80" cy="548.80" r="1.40" fill="#C7C2C0"/>
<circle cx="313.40" cy="540.00" r="1.40" fill="#C7C2C0"/>
<circle cx="314.50" cy="534.00" r="1.40" fill="#C7C2C0"/>
<circle cx="316.00" cy="530.50" r="1.40" fill="#C7C2C0"/>
<circle cx="310.50" cy="544.00" r="1.40" fill="#C7C2C0"/>
<circle cx="308.00" cy="545.00" r="1.40" fill="#C7C2C0"/>
<circle cx="279.20" cy="602.80" r="1.40" fill="#C7C2C0"/>
<circle cx="285.00" cy="607.80" r="1.40" fill="#C7C2C0"/>
<circle cx="278.00" cy="605.10" r="1.40" fill="#C7C2C0"/>
<circle cx="275.70" cy="610.30" r="1.40" fill="#C7C2C0"/>
<circle cx="279.20" cy="611.50" r="1.40" fill="#C7C2C0"/>
<circle cx="276.80" cy="617.30" r="1.40" fill="#C7C2C0"/>
<circle cx="272.80" cy="620.30" r="1.40" fill="#C7C2C0"/>
<circle cx="280.90" cy="620.80" r="1.40" fill="#C7C2C0"/>
<circle cx="277.50" cy="613.50" r="1.40" fill="#C7C2C0"/>
<circle cx="276.00" cy="608.00" r="1.40" fill="#C7C2C0"/>
<text x="300.80" y="614.05" font-size="7.1" fill="#F0855C" text-anchor="start" >HCST</text>
<text x="296.10" y="623.95" font-size="7.1" fill="#F0855C" text-anchor="start" >ANXA1</text>
<text x="304.80" y="633.85" font-size="7.1" fill="#F0855C" text-anchor="start" >IL7R</text>
<text x="294.90" y="643.25" font-size="7.1" fill="#F0855C" text-anchor="start" >S100A4</text>
<text x="306.00" y="646.15" font-size="5.5" fill="#F0855C" text-anchor="start" >IL32</text>
<line x1="300.00" y1="612.00" x2="274.50" y2="622.00" stroke="#F0855C" stroke-width="0.8" />
<line x1="295.50" y1="621.60" x2="274.50" y2="623.80" stroke="#F0855C" stroke-width="0.8" />
<line x1="304.20" y1="631.60" x2="279.20" y2="626.10" stroke="#F0855C" stroke-width="0.8" />
<line x1="294.50" y1="640.50" x2="275.70" y2="638.10" stroke="#F0855C" stroke-width="0.8" />
<line x1="305.50" y1="643.00" x2="279.20" y2="636.60" stroke="#F0855C" stroke-width="0.8" />
<circle cx="274.50" cy="622.00" r="1.40" fill="#F0855C"/>
<circle cx="274.50" cy="623.80" r="1.40" fill="#F0855C"/>
<circle cx="279.20" cy="626.10" r="1.40" fill="#F0855C"/>
<circle cx="275.70" cy="638.10" r="1.40" fill="#F0855C"/>
<circle cx="279.20" cy="636.60" r="1.40" fill="#F0855C"/>
<text x="329.30" y="493.95" font-size="7.1" fill="#6A6CA5" text-anchor="start" >CD79A</text>
<text x="329.30" y="503.85" font-size="7.1" fill="#6A6CA5" text-anchor="start" >IGKC</text>
<text x="329.30" y="513.65" font-size="7.1" fill="#6A6CA5" text-anchor="start" >MS4A1</text>
<text x="329.30" y="523.65" font-size="7.1" fill="#6A6CA5" text-anchor="start" >IGHA1</text>
<text x="329.30" y="533.35" font-size="7.1" fill="#6A6CA5" text-anchor="start" >CD74</text>
<circle cx="368.80" cy="527.10" r="1.40" fill="#C7C2C0"/>
<circle cx="375.90" cy="528.80" r="1.40" fill="#C7C2C0"/>
<circle cx="365.10" cy="530.30" r="1.40" fill="#C7C2C0"/>
<circle cx="367.10" cy="531.40" r="1.40" fill="#C7C2C0"/>
<circle cx="372.80" cy="532.50" r="1.40" fill="#C7C2C0"/>
<circle cx="365.70" cy="535.90" r="1.40" fill="#C7C2C0"/>
<circle cx="373.10" cy="537.70" r="1.40" fill="#C7C2C0"/>
<circle cx="368.00" cy="540.20" r="1.40" fill="#C7C2C0"/>
<circle cx="371.40" cy="539.90" r="1.40" fill="#C7C2C0"/>
<circle cx="371.40" cy="543.30" r="1.40" fill="#C7C2C0"/>
<circle cx="365.10" cy="545.10" r="1.40" fill="#C7C2C0"/>
<circle cx="367.40" cy="547.30" r="1.40" fill="#C7C2C0"/>
<circle cx="356.30" cy="545.90" r="1.40" fill="#C7C2C0"/>
<circle cx="372.00" cy="541.50" r="1.40" fill="#C7C2C0"/>
<circle cx="366.00" cy="546.00" r="1.40" fill="#C7C2C0"/>
<line x1="352.40" y1="492.00" x2="376.30" y2="519.60" stroke="#6A6CA5" stroke-width="0.8" />
<line x1="346.60" y1="501.50" x2="362.60" y2="506.50" stroke="#6A6CA5" stroke-width="0.8" />
<line x1="352.40" y1="511.30" x2="376.30" y2="519.60" stroke="#6A6CA5" stroke-width="0.8" />
<line x1="351.00" y1="521.30" x2="361.40" y2="526.50" stroke="#6A6CA5" stroke-width="0.8" />
<line x1="347.30" y1="530.50" x2="362.90" y2="526.50" stroke="#6A6CA5" stroke-width="0.8" />
<circle cx="362.60" cy="506.50" r="1.50" fill="#6A6CA5"/>
<circle cx="376.30" cy="519.60" r="1.50" fill="#6A6CA5"/>
<circle cx="361.40" cy="526.50" r="1.50" fill="#6A6CA5"/>
<circle cx="362.90" cy="526.50" r="1.50" fill="#6A6CA5"/>
<circle cx="337.80" cy="603.30" r="1.40" fill="#C7C2C0"/>
<circle cx="348.80" cy="603.70" r="1.40" fill="#C7C2C0"/>
<circle cx="336.00" cy="605.70" r="1.40" fill="#C7C2C0"/>
<circle cx="340.70" cy="606.30" r="1.40" fill="#C7C2C0"/>
<circle cx="343.60" cy="607.40" r="1.40" fill="#C7C2C0"/>
<circle cx="334.30" cy="610.30" r="1.40" fill="#C7C2C0"/>
<circle cx="337.20" cy="609.80" r="1.40" fill="#C7C2C0"/>
<circle cx="339.50" cy="612.70" r="1.40" fill="#C7C2C0"/>
<circle cx="336.00" cy="617.30" r="1.40" fill="#C7C2C0"/>
<circle cx="345.30" cy="617.60" r="1.40" fill="#C7C2C0"/>
<text x="360.50" y="612.35" font-size="7.1" fill="#6A6CA5" text-anchor="start" >FYB1</text>
<text x="351.80" y="621.95" font-size="7.1" fill="#6A6CA5" text-anchor="start" >GIMAP7</text>
<text x="355.30" y="631.55" font-size="7.1" fill="#6A6CA5" text-anchor="start" >ANXA1</text>
<text x="363.40" y="636.45" font-size="7.1" fill="#6A6CA5" text-anchor="start" >IL7R</text>
<text x="364.60" y="646.15" font-size="7.1" fill="#6A6CA5" text-anchor="start" >IL32</text>
<line x1="360.00" y1="610.20" x2="331.90" y2="619.40" stroke="#6A6CA5" stroke-width="0.8" />
<line x1="351.30" y1="619.40" x2="331.90" y2="619.40" stroke="#6A6CA5" stroke-width="0.8" />
<line x1="354.80" y1="629.20" x2="333.40" y2="622.60" stroke="#6A6CA5" stroke-width="0.8" />
<line x1="362.90" y1="634.20" x2="338.30" y2="627.00" stroke="#6A6CA5" stroke-width="0.8" />
<line x1="364.10" y1="643.50" x2="335.40" y2="637.50" stroke="#6A6CA5" stroke-width="0.8" />
<circle cx="331.90" cy="619.40" r="1.40" fill="#6A6CA5"/>
<circle cx="333.40" cy="622.60" r="1.40" fill="#6A6CA5"/>
<circle cx="338.30" cy="627.00" r="1.40" fill="#6A6CA5"/>
<circle cx="335.40" cy="637.50" r="1.40" fill="#6A6CA5"/>
<text x="388.30" y="495.15" font-size="7.1" fill="#6CC2A0" text-anchor="start" >GNLY</text>
<text x="388.30" y="504.95" font-size="7.1" fill="#6CC2A0" text-anchor="start" >GZMB</text>
<text x="388.30" y="515.35" font-size="7.1" fill="#6CC2A0" text-anchor="start" >PRF1</text>
<text x="388.30" y="525.45" font-size="7.1" fill="#6CC2A0" text-anchor="start" >NKG7</text>
<text x="388.30" y="535.65" font-size="7.1" fill="#6CC2A0" text-anchor="start" >TRDC</text>
<circle cx="429.30" cy="530.50" r="1.40" fill="#C7C2C0"/>
<circle cx="433.00" cy="531.60" r="1.40" fill="#C7C2C0"/>
<circle cx="428.40" cy="533.00" r="1.40" fill="#C7C2C0"/>
<circle cx="427.40" cy="536.00" r="1.40" fill="#C7C2C0"/>
<circle cx="429.70" cy="536.50" r="1.40" fill="#C7C2C0"/>
<circle cx="424.20" cy="538.80" r="1.40" fill="#C7C2C0"/>
<circle cx="426.30" cy="539.30" r="1.40" fill="#C7C2C0"/>
<circle cx="431.10" cy="539.70" r="1.40" fill="#C7C2C0"/>
<circle cx="429.30" cy="542.00" r="1.40" fill="#C7C2C0"/>
<circle cx="425.60" cy="543.90" r="1.40" fill="#C7C2C0"/>
<circle cx="422.80" cy="545.30" r="1.40" fill="#C7C2C0"/>
<circle cx="425.10" cy="546.70" r="1.40" fill="#C7C2C0"/>
<circle cx="421.40" cy="548.10" r="1.40" fill="#C7C2C0"/>
<circle cx="426.50" cy="548.10" r="1.40" fill="#C7C2C0"/>
<circle cx="430.70" cy="547.40" r="1.40" fill="#C7C2C0"/>
<circle cx="428.00" cy="531.50" r="1.40" fill="#C7C2C0"/>
<circle cx="423.50" cy="539.00" r="1.40" fill="#C7C2C0"/>
<line x1="406.30" y1="493.00" x2="428.50" y2="512.70" stroke="#6CC2A0" stroke-width="0.8" />
<line x1="409.00" y1="502.80" x2="432.40" y2="523.80" stroke="#6CC2A0" stroke-width="0.8" />
<line x1="405.60" y1="513.00" x2="427.50" y2="525.50" stroke="#6CC2A0" stroke-width="0.8" />
<line x1="407.50" y1="523.00" x2="431.40" y2="527.00" stroke="#6CC2A0" stroke-width="0.8" />
<line x1="407.80" y1="533.00" x2="433.30" y2="528.40" stroke="#6CC2A0" stroke-width="0.8" />
<circle cx="428.50" cy="512.70" r="1.40" fill="#6CC2A0"/>
<circle cx="432.40" cy="523.80" r="1.40" fill="#6CC2A0"/>
<circle cx="427.50" cy="525.50" r="1.40" fill="#6CC2A0"/>
<circle cx="431.40" cy="527.00" r="1.40" fill="#6CC2A0"/>
<circle cx="433.30" cy="528.40" r="1.40" fill="#6CC2A0"/>
<text x="414.80" y="594.25" font-size="7.1" fill="#6CC2A0" text-anchor="start" >COTL1</text>
<text x="418.90" y="604.15" font-size="7.1" fill="#6CC2A0" text-anchor="start" >CD74</text>
<text x="418.30" y="613.85" font-size="7.1" fill="#6CC2A0" text-anchor="start" >TRAC</text>
<text x="421.80" y="623.95" font-size="7.1" fill="#6CC2A0" text-anchor="start" >IL7R</text>
<text x="424.80" y="633.85" font-size="7.1" fill="#6CC2A0" text-anchor="start" >LTB</text>
<line x1="414.50" y1="592.00" x2="398.50" y2="607.70" stroke="#6CC2A0" stroke-width="0.8" />
<line x1="418.50" y1="602.00" x2="411.90" y2="605.90" stroke="#6CC2A0" stroke-width="0.8" />
<line x1="417.80" y1="611.50" x2="398.50" y2="611.70" stroke="#6CC2A0" stroke-width="0.8" />
<line x1="421.30" y1="621.40" x2="397.10" y2="621.40" stroke="#6CC2A0" stroke-width="0.8" />
<line x1="424.30" y1="631.30" x2="397.10" y2="623.80" stroke="#6CC2A0" stroke-width="0.8" />
<circle cx="398.50" cy="607.70" r="1.40" fill="#6CC2A0"/>
<circle cx="411.90" cy="605.90" r="1.40" fill="#6CC2A0"/>
<circle cx="398.50" cy="611.70" r="1.40" fill="#6CC2A0"/>
<circle cx="397.10" cy="621.40" r="1.40" fill="#6CC2A0"/>
<circle cx="397.10" cy="623.80" r="1.40" fill="#6CC2A0"/>
<circle cx="397.10" cy="622.60" r="1.40" fill="#6CC2A0"/>
<text x="446.60" y="453.95" font-size="7.1" fill="#D6312B" text-anchor="start" >S100A8</text>
<text x="446.60" y="463.75" font-size="7.1" fill="#D6312B" text-anchor="start" >S100A9</text>
<text x="446.60" y="473.55" font-size="7.1" fill="#D6312B" text-anchor="start" >LYZ</text>
<text x="446.60" y="501.25" font-size="7.1" fill="#D6312B" text-anchor="start" >VCAN</text>
<text x="446.60" y="511.25" font-size="7.1" fill="#D6312B" text-anchor="start" >MNDA</text>
<circle cx="492.40" cy="513.10" r="1.40" fill="#C7C2C0"/>
<circle cx="488.70" cy="515.40" r="1.40" fill="#C7C2C0"/>
<circle cx="484.30" cy="516.80" r="1.40" fill="#C7C2C0"/>
<circle cx="483.30" cy="518.80" r="1.40" fill="#C7C2C0"/>
<circle cx="493.40" cy="520.80" r="1.40" fill="#C7C2C0"/>
<circle cx="491.10" cy="523.60" r="1.40" fill="#C7C2C0"/>
<circle cx="493.80" cy="523.90" r="1.40" fill="#C7C2C0"/>
<circle cx="474.20" cy="524.20" r="1.40" fill="#C7C2C0"/>
<circle cx="476.50" cy="526.30" r="1.40" fill="#C7C2C0"/>
<circle cx="490.40" cy="526.60" r="1.40" fill="#C7C2C0"/>
<circle cx="493.10" cy="526.60" r="1.40" fill="#C7C2C0"/>
<circle cx="485.70" cy="529.00" r="1.40" fill="#C7C2C0"/>
<circle cx="483.60" cy="530.00" r="1.40" fill="#C7C2C0"/>
<circle cx="470.10" cy="531.00" r="1.40" fill="#C7C2C0"/>
<circle cx="491.10" cy="531.00" r="1.40" fill="#C7C2C0"/>
<circle cx="482.30" cy="532.30" r="1.40" fill="#C7C2C0"/>
<circle cx="489.00" cy="532.30" r="1.40" fill="#C7C2C0"/>
<circle cx="491.70" cy="533.70" r="1.40" fill="#C7C2C0"/>
<circle cx="485.70" cy="535.00" r="1.40" fill="#C7C2C0"/>
<circle cx="472.10" cy="535.70" r="1.40" fill="#C7C2C0"/>
<circle cx="478.90" cy="536.10" r="1.40" fill="#C7C2C0"/>
<circle cx="489.00" cy="536.40" r="1.40" fill="#C7C2C0"/>
<circle cx="482.30" cy="537.70" r="1.40" fill="#C7C2C0"/>
<circle cx="485.70" cy="538.40" r="1.40" fill="#C7C2C0"/>
<circle cx="478.20" cy="539.10" r="1.40" fill="#C7C2C0"/>
<circle cx="489.00" cy="539.80" r="1.40" fill="#C7C2C0"/>
<circle cx="482.30" cy="541.10" r="1.40" fill="#C7C2C0"/>
<circle cx="485.70" cy="541.80" r="1.40" fill="#C7C2C0"/>
<circle cx="474.20" cy="543.20" r="1.40" fill="#C7C2C0"/>
<circle cx="478.90" cy="543.80" r="1.40" fill="#C7C2C0"/>
<circle cx="482.30" cy="544.50" r="1.40" fill="#C7C2C0"/>
<circle cx="487.70" cy="543.80" r="1.40" fill="#C7C2C0"/>
<circle cx="472.80" cy="545.90" r="1.40" fill="#C7C2C0"/>
<circle cx="478.90" cy="547.90" r="1.40" fill="#C7C2C0"/>
<circle cx="483.60" cy="547.20" r="1.40" fill="#C7C2C0"/>
<circle cx="485.70" cy="548.60" r="1.40" fill="#C7C2C0"/>
<circle cx="474.20" cy="548.60" r="1.40" fill="#C7C2C0"/>
<circle cx="490.40" cy="540.50" r="1.40" fill="#C7C2C0"/>
<circle cx="484.30" cy="545.90" r="1.40" fill="#C7C2C0"/>
<circle cx="487.00" cy="547.00" r="1.40" fill="#C7C2C0"/>
<circle cx="480.50" cy="546.50" r="1.40" fill="#C7C2C0"/>
<circle cx="488.00" cy="536.00" r="1.40" fill="#C7C2C0"/>
<circle cx="487.50" cy="530.00" r="1.40" fill="#C7C2C0"/>
<circle cx="490.00" cy="528.50" r="1.40" fill="#C7C2C0"/>
<circle cx="487.00" cy="541.00" r="1.40" fill="#C7C2C0"/>
<line x1="471.90" y1="451.70" x2="492.60" y2="459.70" stroke="#D6312B" stroke-width="0.8" />
<line x1="471.90" y1="461.50" x2="492.30" y2="466.70" stroke="#D6312B" stroke-width="0.8" />
<line x1="458.80" y1="471.30" x2="492.60" y2="473.60" stroke="#D6312B" stroke-width="0.8" />
<line x1="466.50" y1="499.00" x2="494.00" y2="509.80" stroke="#D6312B" stroke-width="0.8" />
<line x1="467.20" y1="509.00" x2="494.00" y2="509.80" stroke="#D6312B" stroke-width="0.8" />
<circle cx="492.60" cy="459.70" r="1.40" fill="#D6312B"/>
<circle cx="492.30" cy="466.70" r="1.40" fill="#D6312B"/>
<circle cx="492.60" cy="473.60" r="1.40" fill="#D6312B"/>
<circle cx="494.00" cy="509.80" r="1.90" fill="#D6312B"/>
<circle cx="454.30" cy="603.60" r="1.40" fill="#C7C2C0"/>
<circle cx="453.90" cy="605.90" r="1.40" fill="#C7C2C0"/>
<circle cx="455.30" cy="607.30" r="1.40" fill="#C7C2C0"/>
<circle cx="452.50" cy="608.20" r="1.40" fill="#C7C2C0"/>
<circle cx="454.30" cy="609.60" r="1.40" fill="#C7C2C0"/>
<circle cx="452.90" cy="611.40" r="1.40" fill="#C7C2C0"/>
<circle cx="452.50" cy="613.30" r="1.40" fill="#C7C2C0"/>
<circle cx="460.40" cy="604.00" r="1.40" fill="#C7C2C0"/>
<circle cx="459.00" cy="605.40" r="1.40" fill="#C7C2C0"/>
<circle cx="468.20" cy="603.60" r="1.40" fill="#C7C2C0"/>
<circle cx="469.10" cy="604.00" r="1.40" fill="#C7C2C0"/>
<circle cx="452.00" cy="618.40" r="1.40" fill="#C7C2C0"/>
<circle cx="451.10" cy="620.70" r="1.40" fill="#C7C2C0"/>
<circle cx="456.40" cy="618.80" r="1.40" fill="#C7C2C0"/>
<circle cx="453.50" cy="607.00" r="1.40" fill="#C7C2C0"/>
<text x="477.10" y="616.35" font-size="7.1" fill="#D6312B" text-anchor="start" >TRAC</text>
<text x="473.30" y="626.35" font-size="7.1" fill="#D6312B" text-anchor="start" >TRBC2</text>
<text x="475.30" y="626.35" font-size="7.1" fill="#D6312B" text-anchor="start" >CD3E</text>
<text x="480.80" y="636.25" font-size="7.1" fill="#D6312B" text-anchor="start" >IL7R</text>
<text x="482.00" y="646.15" font-size="7.1" fill="#D6312B" text-anchor="start" >IL32</text>
<line x1="476.60" y1="614.00" x2="449.90" y2="627.30" stroke="#D6312B" stroke-width="0.8" />
<line x1="472.80" y1="624.00" x2="452.30" y2="625.50" stroke="#D6312B" stroke-width="0.8" />
<line x1="474.80" y1="624.20" x2="454.60" y2="627.80" stroke="#D6312B" stroke-width="0.8" />
<line x1="480.30" y1="633.70" x2="454.60" y2="627.80" stroke="#D6312B" stroke-width="0.8" />
<line x1="481.50" y1="643.50" x2="451.70" y2="638.30" stroke="#D6312B" stroke-width="0.8" />
<circle cx="449.90" cy="627.30" r="1.50" fill="#D6312B"/>
<circle cx="452.30" cy="625.50" r="1.50" fill="#D6312B"/>
<circle cx="454.60" cy="627.80" r="1.50" fill="#D6312B"/>
<circle cx="451.70" cy="638.30" r="1.50" fill="#D6312B"/>
<text x="505.00" y="492.05" font-size="7.1" fill="#7B5948" text-anchor="start" >LST1</text>
<text x="505.00" y="501.55" font-size="7.1" fill="#7B5948" text-anchor="start" >IFITM3</text>
<text x="505.00" y="510.35" font-size="7.1" fill="#7B5948" text-anchor="start" >AIF1</text>
<text x="505.00" y="514.65" font-size="7.1" fill="#7B5948" text-anchor="start" >CDKN1C</text>
<text x="505.00" y="524.95" font-size="7.1" fill="#7B5948" text-anchor="start" >MS4A7</text>
<circle cx="549.50" cy="519.70" r="1.40" fill="#C7C2C0"/>
<circle cx="552.00" cy="520.30" r="1.40" fill="#C7C2C0"/>
<circle cx="540.50" cy="521.60" r="1.40" fill="#C7C2C0"/>
<circle cx="540.50" cy="524.20" r="1.40" fill="#C7C2C0"/>
<circle cx="553.00" cy="523.90" r="1.40" fill="#C7C2C0"/>
<circle cx="544.30" cy="525.80" r="1.40" fill="#C7C2C0"/>
<circle cx="551.40" cy="527.40" r="1.40" fill="#C7C2C0"/>
<circle cx="551.40" cy="529.30" r="1.40" fill="#C7C2C0"/>
<circle cx="541.80" cy="528.70" r="1.40" fill="#C7C2C0"/>
<circle cx="528.60" cy="527.40" r="1.40" fill="#C7C2C0"/>
<circle cx="528.60" cy="530.90" r="1.40" fill="#C7C2C0"/>
<circle cx="537.00" cy="536.30" r="1.40" fill="#C7C2C0"/>
<circle cx="545.60" cy="533.80" r="1.40" fill="#C7C2C0"/>
<circle cx="550.10" cy="534.40" r="1.40" fill="#C7C2C0"/>
<circle cx="547.50" cy="537.60" r="1.40" fill="#C7C2C0"/>
<circle cx="551.40" cy="537.60" r="1.40" fill="#C7C2C0"/>
<circle cx="545.00" cy="540.20" r="1.40" fill="#C7C2C0"/>
<circle cx="549.50" cy="540.80" r="1.40" fill="#C7C2C0"/>
<circle cx="546.90" cy="542.70" r="1.40" fill="#C7C2C0"/>
<circle cx="550.70" cy="544.00" r="1.40" fill="#C7C2C0"/>
<circle cx="542.40" cy="544.70" r="1.40" fill="#C7C2C0"/>
<circle cx="545.60" cy="546.00" r="1.40" fill="#C7C2C0"/>
<circle cx="539.20" cy="547.20" r="1.40" fill="#C7C2C0"/>
<circle cx="542.40" cy="547.90" r="1.40" fill="#C7C2C0"/>
<circle cx="548.20" cy="547.20" r="1.40" fill="#C7C2C0"/>
<circle cx="532.80" cy="542.70" r="1.40" fill="#C7C2C0"/>
<circle cx="536.00" cy="544.00" r="1.40" fill="#C7C2C0"/>
<circle cx="530.20" cy="545.30" r="1.40" fill="#C7C2C0"/>
<circle cx="531.50" cy="547.20" r="1.40" fill="#C7C2C0"/>
<circle cx="548.00" cy="534.00" r="1.40" fill="#C7C2C0"/>
<circle cx="552.00" cy="533.50" r="1.40" fill="#C7C2C0"/>
<circle cx="546.00" cy="535.00" r="1.40" fill="#C7C2C0"/>
<circle cx="548.50" cy="539.00" r="1.40" fill="#C7C2C0"/>
<circle cx="544.50" cy="543.50" r="1.40" fill="#C7C2C0"/>
<circle cx="547.50" cy="545.00" r="1.40" fill="#C7C2C0"/>
<circle cx="545.00" cy="548.00" r="1.40" fill="#C7C2C0"/>
<circle cx="540.50" cy="545.50" r="1.40" fill="#C7C2C0"/>
<circle cx="543.50" cy="538.00" r="1.40" fill="#C7C2C0"/>
<line x1="522.30" y1="489.80" x2="549.60" y2="503.10" stroke="#7B5948" stroke-width="0.8" />
<line x1="528.20" y1="499.30" x2="551.00" y2="515.80" stroke="#7B5948" stroke-width="0.8" />
<line x1="521.00" y1="508.00" x2="551.00" y2="515.80" stroke="#7B5948" stroke-width="0.8" />
<line x1="534.70" y1="512.20" x2="552.50" y2="516.80" stroke="#7B5948" stroke-width="0.8" />
<line x1="528.90" y1="522.50" x2="552.50" y2="516.80" stroke="#7B5948" stroke-width="0.8" />
<circle cx="549.60" cy="503.10" r="1.40" fill="#7B5948"/>
<circle cx="551.00" cy="515.80" r="1.60" fill="#7B5948"/>
<circle cx="552.50" cy="516.80" r="1.60" fill="#7B5948"/>
<circle cx="550.00" cy="516.00" r="1.60" fill="#7B5948"/>
<circle cx="553.00" cy="517.50" r="1.60" fill="#7B5948"/>
<circle cx="513.30" cy="605.70" r="1.40" fill="#C7C2C0"/>
<circle cx="512.80" cy="609.20" r="1.40" fill="#C7C2C0"/>
<circle cx="518.60" cy="605.10" r="1.40" fill="#C7C2C0"/>
<circle cx="528.50" cy="608.00" r="1.40" fill="#C7C2C0"/>
<circle cx="515.10" cy="608.00" r="1.40" fill="#C7C2C0"/>
<circle cx="511.60" cy="612.10" r="1.40" fill="#C7C2C0"/>
<circle cx="517.40" cy="610.60" r="1.40" fill="#C7C2C0"/>
<circle cx="514.00" cy="603.00" r="1.40" fill="#C7C2C0"/>
<text x="535.50" y="612.65" font-size="7.1" fill="#7B5948" text-anchor="start" >CD3E</text>
<text x="535.50" y="622.85" font-size="7.1" fill="#7B5948" text-anchor="start" >TRAC</text>
<text x="530.80" y="632.15" font-size="7.1" fill="#7B5948" text-anchor="start" >TRBC2</text>
<text x="538.40" y="636.85" font-size="7.1" fill="#7B5948" text-anchor="start" >IL7R</text>
<text x="540.20" y="646.15" font-size="7.1" fill="#7B5948" text-anchor="start" >IL32</text>
<line x1="535.00" y1="610.40" x2="511.60" y2="619.70" stroke="#7B5948" stroke-width="0.8" />
<line x1="535.00" y1="620.50" x2="512.20" y2="624.60" stroke="#7B5948" stroke-width="0.8" />
<line x1="530.30" y1="629.60" x2="514.50" y2="627.80" stroke="#7B5948" stroke-width="0.8" />
<line x1="537.90" y1="634.30" x2="514.50" y2="627.80" stroke="#7B5948" stroke-width="0.8" />
<line x1="539.70" y1="643.60" x2="512.20" y2="639.30" stroke="#7B5948" stroke-width="0.8" />
<circle cx="511.60" cy="619.70" r="1.50" fill="#7B5948"/>
<circle cx="512.20" cy="624.60" r="1.50" fill="#7B5948"/>
<circle cx="510.40" cy="626.40" r="1.50" fill="#7B5948"/>
<circle cx="514.50" cy="627.80" r="1.50" fill="#7B5948"/>
<circle cx="512.20" cy="639.30" r="1.50" fill="#7B5948"/>
</svg></body></html>
